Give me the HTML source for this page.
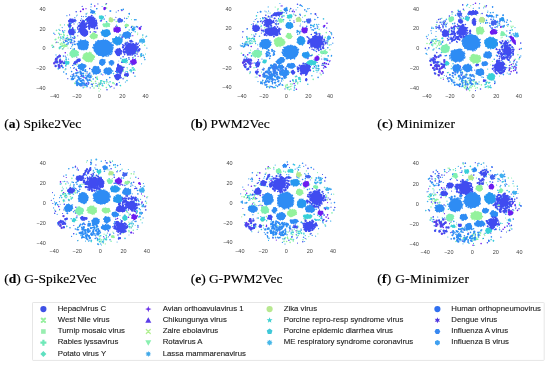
<!DOCTYPE html>
<html><head><meta charset="utf-8"><style>
html,body{margin:0;padding:0;background:#fff;}
body{width:550px;height:365px;position:relative;overflow:hidden;}
#pg{position:absolute;left:0;top:0;width:550px;height:365px;filter:blur(0.35px);}
svg{position:absolute;left:0;top:0;}
path{stroke-linecap:round;}
.cap{position:absolute;font-family:"Liberation Serif",serif;font-size:13.5px;line-height:13.5px;color:#000;white-space:nowrap;-webkit-text-stroke:0.15px #000;}
.cap b{font-weight:bold;}
.tk{font-family:"Liberation Sans",sans-serif;font-size:5.5px;fill:#444;}
.lg{font-family:"Liberation Sans",sans-serif;font-size:7.8px;fill:#1e1e1e;stroke:#1e1e1e;stroke-width:0.12px;}
</style></head><body><div id="pg">
<svg width="550" height="365" viewBox="0 0 550 365">
<defs><filter id="rough" x="-5%" y="-5%" width="110%" height="110%"><feTurbulence type="fractalNoise" baseFrequency="0.9" numOctaves="2" seed="3" result="n"/><feDisplacementMap in="SourceGraphic" in2="n" scale="1.6" xChannelSelector="R" yChannelSelector="G"/></filter></defs>
<g><path d="M101.4 20.8h0M65.3 52.8h0M129.7 50.6h0M121.9 10.4h0M84 77.6h0M83.6 28.2h0M80.6 11.4h0M106.4 3.8h0M76.8 70.5h0M81.5 75.9h0M94.7 6h0M85.5 66.5h0M88.4 82.9h0M105.3 7.7h0M104.6 7.7h0M105.2 8.9h0M104.4 9.4h0M104.2 7.8h0M105 9h0M119.9 30.3h0M119.8 31h0M119.6 31h0M114.4 31.5h0M118.2 32.2h0M119.3 31.3h0M116.3 27h0M116.7 32h0M119.6 27.8h0M116.9 26.9h0M119.8 28.7h0M114.6 31.2h0M139.3 28.2h0M140.2 27.7h0M139.3 28.8h0M135.1 60.1h0M131.6 63.2h0M133 59.7h0M130.8 61.2h0M132.8 59.9h0M134.6 64h0M131.8 63.7h0M288.8 15.8h0M251.2 46.5h0M327 23.3h0M257.1 56.3h0M328.5 64.2h0M294.2 11.7h0M296.4 89.2h0M247.7 54.8h0M294.1 83.6h0M327.7 60.4h0M326.3 63.5h0M322.5 71.3h0M325.4 67.1h0M325.4 66.6h0M321.6 70.7h0M323.4 63.7h0M324.6 66.6h0M304.3 32.8h0M304 32.8h0M307 28.6h0M307.1 29h0M306.6 32.1h0M305 32.8h0M302.5 28.2h0M302.3 31.7h0M306.2 28.1h0M306.2 32.1h0M324.8 25.8h0M315.6 60.3h0M316.9 56.3h0M318.9 58.8h0M318 57.1h0M319.2 58.4h0M318.1 56.9h0M317.7 56.6h0M317.6 56.6h0M316.2 60.8h0M469.1 17.5h0M451.3 27.2h0M475.5 3.3h0M448.8 31.6h0M461.5 75.1h0M466.6 89.8h0M441.1 29.8h0M514.1 66.8h0M519.5 49.2h0M516 67.5h0M510.1 68.1h0M514.3 60.2h0M511.3 64.6h0M513.6 70.7h0M515.4 70.2h0M511.1 71.6h0M513.3 63.8h0M509.5 69.5h0M493.5 29.7h0M491.4 33.7h0M495 29.7h0M496.6 30.6h0M491.2 33.7h0M491.8 30.5h0M490.6 32.6h0M492.6 33.8h0M496.3 33.2h0M495.3 33.6h0M490.6 32.1h0M514.7 40.7h0M514.9 41.3h0M514.5 43.5h0M510.4 37h0M512.9 37.5h0M514.5 43.5h0M515.3 43.1h0M128.9 181.6h0M119.4 230.9h0M135.6 211.7h0M60.5 181.9h0M70.5 192.6h0M117.5 218.5h0M63.6 192.7h0M121.1 184.3h0M58.8 206.6h0M128.5 217.3h0M134.5 206.8h0M142.1 202.1h0M134.7 205h0M137.3 215.9h0M115.6 180.9h0M119 178.1h0M115.9 181.6h0M117.6 183.5h0M118.7 178h0M115.6 180.2h0M121.3 181.7h0M116.7 183.4h0M115.5 181h0M138.9 183h0M140.1 184.2h0M138.8 183.5h0M139.6 182.7h0M133.8 214.6h0M134.5 219.4h0M133.7 214.6h0M131.8 218h0M136.4 216.9h0M132 215.6h0M132.7 215.2h0M133.8 215h0M271.1 180.6h0M268.3 166.9h0M296.2 230.7h0M255.4 198.1h0M251.4 186.2h0M292 236.7h0M260.2 195.5h0M246.7 193.2h0M316.1 194h0M259.5 178.5h0M259.8 172.9h0M323 220.3h0M325.4 208.9h0M326.2 221.2h0M325.5 209.5h0M327.6 214.8h0M326.1 217.1h0M328.4 218.2h0M304.9 186.5h0M305.2 181.3h0M308.7 184.7h0M303.2 184h0M305.4 186.7h0M308.6 183.7h0M308.3 182.3h0M320.4 215.4h0M320.7 215.2h0M322.6 213.2h0M319.3 210.9h0M318.3 213.9h0M318.6 213.2h0M318.3 212.2h0M318.8 211.6h0M322.5 211.7h0M322.5 211.6h0M441 197.6h0M464.4 230h0M442.1 192.5h0M468.4 233.3h0M481.1 243.6h0M441.6 187.9h0M473.1 245.2h0M443.2 227.4h0M508.9 223.6h0M504.7 227.4h0M503.1 229.2h0M509.1 223.7h0M508.7 224h0M517.5 210.4h0M512.8 203.4h0M515.3 205.7h0M512.6 203.7h0M492.7 188.4h0M493.4 187.4h0M492.2 189h0M489.5 188.1h0M491.6 184.4h0M492.6 184.8h0M493.5 186.8h0M493.3 186h0M509.2 214.7h0M511.3 211.1h0M509.9 211h0M512.4 212h0M510.8 211.1h0M512.6 213.6h0M512.6 213.6h0M508.3 212h0M509 211.9h0M512.9 212.8h0" stroke="#6c1cf0" stroke-width="1.6"/><path d="M66.2 40.2h0M121.8 62.2h0M67.8 78.7h0M65.9 66h0M115.6 71.4h0M97.9 3.9h0M86.9 86.8h0M120 67.9h0M62.7 30.6h0M98.2 84.4h0M72.2 74.6h0M63.2 67.7h0M102.8 16.6h0M76.8 57.1h0M121.6 20.7h0M72.8 42.9h0M100.5 69.8h0M125.1 72.8h0M133.5 27h0M67.5 38.1h0M124.6 18.2h0M139.4 45.5h0M60.5 37h0M114.1 88.1h0M81.6 16.3h0M125.5 76.2h0M65.3 56.2h0M73.6 68.2h0M132.2 55.5h0M69.6 14.9h0M118.3 10.7h0M72.7 65.4h0M54.9 34.3h0M96.7 8.6h0M74 23.9h0M53.6 46.3h0M90.2 87.8h0M110.6 86.9h0M132.3 60.7h0M75.2 20.7h0M73.9 73.6h0M115.9 17.3h0M82.2 6.4h0M77.8 35.8h0M127.7 72.9h0M116.5 83.8h0M115.9 85h0M116.6 83.7h0M73.2 22.1h0M73 19h0M70.4 22h0M71.6 22.2h0M68.9 21.7h0M72.7 22.3h0M72.2 19.2h0M69.7 21.7h0M70.4 19.3h0M70.3 22h0M68.7 20.8h0M68.9 26.8h0M68.5 25.5h0M68.7 26.6h0M69.9 23.3h0M69.2 23.4h0M68.4 32h0M69.4 29.6h0M68.7 30.9h0M72.1 29.2h0M73.8 34.1h0M73.6 30.1h0M73 29.2h0M72.4 29.5h0M72.4 34.5h0M73 34.7h0M80.8 31.9h0M80.4 23.1h0M81.7 22.5h0M80.6 31.7h0M79.5 28.8h0M83.9 23.3h0M79.3 26.3h0M85.3 29.9h0M83.3 32.4h0M85.4 25.8h0M80.3 31.6h0M85.3 27.6h0M81.1 32.2h0M79.9 31.1h0M85.1 27.9h0M81.3 23.2h0M84.7 23.2h0M86.6 35.2h0M86.3 35.4h0M81.7 30.4h0M87.2 31.4h0M82.7 35.4h0M83.6 36h0M84.3 35.5h0M80.5 32.6h0M85.5 29.4h0M80.9 31.5h0M85 35.9h0M87.7 31.9h0M85.7 29.8h0M96.2 21.7h0M96.2 21.3h0M91.7 27.3h0M95.1 20.3h0M94.2 18.9h0M90.3 26.9h0M94.2 19.5h0M88.1 22.9h0M91.5 27.1h0M95.5 26.3h0M90.6 26.8h0M97 23.8h0M94.9 26h0M94.7 20h0M88.7 23.7h0M91 27h0M89.3 16.9h0M90 17h0M90.6 19.8h0M88.8 16.6h0M90.2 17.1h0M88.4 16.8h0M87.1 19.1h0M91 18.3h0M130.9 44.1h0M134.5 52.5h0M124.6 48.5h0M133.2 53.3h0M125.3 50.8h0M132.5 54.2h0M125 48.7h0M134.1 45.1h0M132.2 44.4h0M136.5 50.9h0M135.7 46.6h0M127.8 53.3h0M129.2 43.8h0M129.1 54.8h0M126.9 45.5h0M136.3 47.2h0M129.1 43.7h0M131.1 54.8h0M130.4 54.3h0M135 44.7h0M120 49.4h0M118.8 49.1h0M121.5 51.4h0M115.6 52.5h0M116.3 49.4h0M121.7 51.5h0M119.1 55.4h0M115.7 52.7h0M120.8 53.8h0M121 50.5h0M121.1 51.2h0M116.3 53.7h0M76 60.9h0M77.1 62.9h0M78 59.4h0M79.9 58.9h0M74.5 61.8h0M78.4 59.2h0M79.1 59.3h0M79.8 60.4h0M79.2 61.1h0M122.1 67.2h0M117 70.2h0M117 70.5h0M122.7 70.4h0M117.6 66.3h0M116.8 70.9h0M116.6 68.8h0M120.8 66.4h0M117.6 67h0M117.8 79.4h0M114.5 76.1h0M116.4 74.5h0M117.9 74.6h0M120.1 75.4h0M117.1 79.4h0M120.8 78h0M118.6 79.3h0M117.6 79h0M115.9 78.7h0M124.6 74.3h0M128.1 74.3h0M124.8 75.6h0M128.2 75.4h0M124.7 75.3h0M126.2 76.3h0M128.4 75h0M127.8 75.7h0M127.8 73.8h0M273.3 74.3h0M271.1 76.5h0M257.9 48.9h0M246.1 43.2h0M325.4 58.9h0M321.7 59h0M300.9 74.2h0M273.3 87.7h0M294.1 22.4h0M246.5 58.8h0M255.3 19.5h0M293.9 20.9h0M333.4 37.7h0M300.6 4.9h0M272.4 81.2h0M262.3 69.5h0M261.4 33.1h0M281.1 5.9h0M326.7 27.9h0M317.2 62.5h0M250.3 65.1h0M276.5 23.2h0M300.5 15.2h0M326.2 64h0M285 88.9h0M264.2 68.5h0M317.9 26.9h0M289.6 11.1h0M300.1 25.9h0M257 74.3h0M246.9 57.5h0M314.1 59.3h0M242.5 37.1h0M258.2 26.1h0M258.8 30.2h0M255.8 31.4h0M255.6 31.3h0M258.7 26.4h0M255.8 25.3h0M256.2 31.2h0M256 25.1h0M255 31.4h0M252.7 28.4h0M255 31.2h0M276.8 33.6h0M278.7 31.1h0M271.2 35.6h0M273.6 34.7h0M266.4 33.3h0M273.1 27.7h0M268.5 34.6h0M271.3 35.1h0M278.5 30.1h0M266.6 28.9h0M266.2 32.7h0M277.4 33.7h0M266.2 30.2h0M267.3 34h0M273.5 34.6h0M267.4 28.8h0M270.9 28h0M269.3 19.4h0M267.2 25.1h0M266.4 23.9h0M264.9 22.1h0M267.6 19.2h0M271.5 21.2h0M271.7 22.2h0M266.7 24.3h0M265.4 22.2h0M266.6 19.7h0M271.2 23h0M271.6 23.4h0M276.7 12.6h0M272.4 15.2h0M279.3 15.2h0M280.4 12.5h0M279.9 12.1h0M274.1 13.5h0M278.2 15.5h0M273.4 13.8h0M277.7 12.3h0M282.3 12.7h0M275.6 12.9h0M281.4 12.5h0M279 15.2h0M280.9 12.5h0M280.7 14.7h0M315.7 47.1h0M320.8 46.4h0M322.5 42.7h0M321.4 44.6h0M309.9 42.4h0M312.1 46.4h0M311.6 46.1h0M315 48.3h0M321.7 38.6h0M310.5 39.3h0M310.6 41.3h0M311.5 39.8h0M323.1 42.9h0M310.2 44.4h0M313 37.5h0M315 35.7h0M322.3 42.1h0M311.1 41.6h0M312.5 46.4h0M313.7 36.3h0M317.5 48.2h0M311.7 46.1h0M312.2 46.4h0M320.7 46.2h0M319 37h0M312.9 46h0M308.9 67.3h0M300.9 66.2h0M308.5 67.3h0M300.3 68.3h0M303.4 72.9h0M306.2 65.6h0M305.9 65.1h0M307.2 65.6h0M308.3 66.1h0M300.1 68.5h0M306.1 73h0M308.9 68.7h0M304.5 64.6h0M308.6 70h0M304.8 73.5h0M302.5 65.7h0M308.3 67.2h0M305.4 64.9h0M302 65.4h0M308.8 70h0M309.6 70.6h0M303.6 65h0M292.5 70.5h0M293.8 73.7h0M294.2 73.4h0M292.7 74.2h0M291.5 72.5h0M293.6 74h0M292.9 70.3h0M291.7 72.9h0M259.4 64.5h0M257.9 61.7h0M259 65.6h0M257.9 62h0M258.2 61.9h0M255.9 65.1h0M257.9 62.1h0M256.4 62.6h0M255.9 72.3h0M306.2 78.8h0M306.4 80.7h0M306 80.5h0M446.5 76.2h0M465.4 16.8h0M448.4 48h0M474.7 70.1h0M496.7 62.2h0M507 47.7h0M494.4 67.2h0M440.1 54.9h0M466.8 81.6h0M489.8 23.2h0M427.3 38.6h0M475.5 90.6h0M461.1 26.4h0M508.2 46.2h0M438.9 27.7h0M473.2 4.5h0M471.8 15.2h0M498.6 51.9h0M487.1 75.6h0M475.8 19.8h0M447.4 38.4h0M465.4 68.9h0M510.7 53.8h0M462 16.3h0M449.5 77.8h0M460.5 19h0M462.1 22.1h0M461.2 22.9h0M462.5 21.2h0M459.3 22h0M458.9 22h0M460.1 19.2h0M461.4 22.8h0M459.1 20.2h0M462.7 21.2h0M463.4 26.2h0M465.4 32.8h0M458.6 30.2h0M460.7 27h0M458.8 30.2h0M462.4 26.1h0M465.7 32.8h0M465.7 27.5h0M466.4 30h0M463 34.4h0M458.7 32.8h0M466.8 30.3h0M461.9 34.8h0M466.2 32.4h0M459.5 32.7h0M442.5 34.9h0M445.8 36.5h0M446.3 30.5h0M446 30.1h0M444.8 30.1h0M442.7 35h0M442.8 31.5h0M448.1 31.6h0M447.8 35.3h0M442.4 32h0M442.5 34.8h0M443.3 36.2h0M445.9 36.6h0M443.7 30.7h0M476.9 11.6h0M476.9 12.1h0M469.2 13.9h0M469.6 14.5h0M472.9 10.6h0M470.5 14.6h0M471.9 15h0M477 12.1h0M471.7 14.9h0M477.2 12h0M468 13.3h0M477.8 12.5h0M477 12.2h0M469.7 11.6h0M474 25.3h0M474.7 19.4h0M475.6 23h0M473.4 19h0M472.2 20.7h0M473 19.5h0M474.5 24.9h0M507.8 46.1h0M507 46.5h0M511.1 49.9h0M507.8 46.5h0M507.2 54.5h0M510.4 52h0M510.7 50.2h0M503 51.4h0M503.8 53h0M510.4 53h0M510.1 51.8h0M504.4 53.1h0M508.1 46.1h0M495.4 65.1h0M499.2 62.5h0M498 63h0M497.9 63h0M498.3 62.5h0M502.5 70.6h0M494.8 69.5h0M498.1 71.3h0M502.2 63.7h0M494.6 65.8h0M498.6 71.8h0M503.5 67.3h0M496.9 63.2h0M476.5 65.8h0M476.9 64.3h0M477.6 64.2h0M477.9 65.7h0M484.5 81.3h0M483.7 81.2h0M485.2 81.2h0M103.5 168.9h0M76.4 189h0M134.6 188.7h0M63.7 176.2h0M121.2 229.9h0M122.8 185.3h0M52.8 203.5h0M103.6 236.7h0M130.2 198.7h0M128.6 182.8h0M64.7 196.3h0M51.3 200.3h0M145.8 205.9h0M132.1 185.1h0M104.3 238.1h0M132.7 202.8h0M87.7 173.9h0M120.7 181.3h0M84.7 220.1h0M122.7 184.5h0M52.5 192.6h0M143.5 204.4h0M73.8 225.5h0M95.9 164.9h0M140.5 186.7h0M61 195.7h0M105.4 160.7h0M62.6 213.5h0M123.4 192.7h0M107.6 168.1h0M75.6 166.1h0M125.9 190.6h0M136.2 217.9h0M67.1 181.8h0M63.9 209.9h0M85.3 174.4h0M125.6 195.9h0M135.6 204.6h0M123 172.8h0M120.6 170.5h0M76.6 177.1h0M78 176.1h0M81.4 180.5h0M82 180.1h0M83.5 178.3h0M76.8 177.5h0M78.4 180.1h0M77 179.8h0M76.9 176.3h0M83.7 177.7h0M77.4 179.7h0M76.2 178.2h0M83.7 173.9h0M83.7 175h0M83.5 175h0M84.9 174.2h0M85.1 170.7h0M86.2 169.5h0M85.5 170.5h0M87 169h0M83.8 175.4h0M84.2 175.1h0M86.9 171.1h0M90.5 170.5h0M88.7 170.2h0M90.7 167.6h0M88.7 173h0M90.7 170.1h0M89.8 168.6h0M87.7 172.7h0M88.1 173.2h0M90.9 169.5h0M87.8 172.2h0M87.8 173.1h0M97.6 184.1h0M88.7 184h0M89.6 186.5h0M91.4 187.1h0M97.4 185.6h0M88.1 184.7h0M88.8 184.9h0M88 183.7h0M96.1 186.1h0M90.8 187.8h0M93.2 187.5h0M101.9 186.5h0M103.5 182.4h0M98.3 184.1h0M100 186.6h0M101.5 178.5h0M103 186.1h0M98 182.2h0M98.9 179.9h0M100.6 179.2h0M100.4 178.6h0M102.5 179.7h0M101.2 186.7h0M103.6 181.8h0M98.6 181.8h0M73.6 191.4h0M72.4 192.7h0M72.2 187.9h0M69.5 188.3h0M67.5 191h0M71.2 192.8h0M67.5 190.9h0M69.1 192.2h0M71.1 193.1h0M134 208h0M131.1 201.4h0M127.6 205h0M133.8 208.5h0M133.4 208.5h0M132.8 208.9h0M134.2 208.4h0M129.4 202.5h0M135.1 205.5h0M127.2 206.5h0M131.9 209.2h0M133.2 201.9h0M127.6 205.1h0M127.1 205.9h0M135.1 207.5h0M127.6 205.7h0M131.6 209.4h0M135.4 205h0M125.2 210.6h0M122.9 211.7h0M119.8 211.8h0M124.7 210.3h0M117.4 207.1h0M123.8 211.1h0M119 206.7h0M123.5 211.1h0M126.1 208.9h0M118.3 206.5h0M125.2 207.5h0M124.2 210.7h0M81 217.7h0M86.2 219.3h0M81.6 219.3h0M86.8 217.6h0M82.6 216.7h0M81.3 219.6h0M80.8 217.5h0M80.4 217.8h0M82.7 219.6h0M86.1 219.3h0M81.5 219.6h0M81.5 217.2h0M81.5 217h0M119.7 223.1h0M116.7 227h0M122.5 223.5h0M123 223.9h0M124.6 226.4h0M117.7 224.6h0M119.8 230.4h0M117.1 228.7h0M125.4 226.5h0M122 230.6h0M124 230.1h0M117 227.5h0M118.3 229.3h0M118.7 224.1h0M119 230.2h0M118.4 229.5h0M118.3 224.3h0M124.4 225.1h0M124.8 227.5h0M118.6 239h0M120.2 238.1h0M118.7 237.4h0M331 207.2h0M328.1 197.9h0M257.2 218h0M289.5 167.6h0M242.9 208.5h0M296.3 234.4h0M265.7 168.9h0M259.9 205.2h0M292 229.9h0M296.7 176.8h0M319.5 209.9h0M307.1 175.5h0M324 214.3h0M305.8 165.1h0M272.3 176.3h0M297.3 237.2h0M289.7 228.4h0M305.2 238.6h0M248.3 184.9h0M258.3 232.2h0M305.8 228.7h0M297.5 243.1h0M289.7 230.9h0M317.9 196h0M305.7 219.1h0M266.7 182h0M312.2 199.9h0M253.2 218.7h0M273.9 225.3h0M277 233.1h0M263.3 220.7h0M313.7 169.2h0M312 211.4h0M258.6 182.7h0M255.3 226.5h0M322.5 174.5h0M261.3 185.3h0M264.4 181.3h0M265.8 181.8h0M266 182.6h0M264.1 180.7h0M260.6 183.9h0M264.7 185.3h0M260.9 182h0M265.6 182.5h0M264.9 181.5h0M263.7 180.7h0M254.6 192.6h0M260.6 191.6h0M259.3 189.2h0M257.3 194.2h0M272.9 185.2h0M273.6 182.3h0M281.4 178.5h0M275 180.4h0M284.6 186.8h0M280.5 189.5h0M278.6 189.3h0M273 182.8h0M276.2 178.9h0M281.4 178.9h0M273.5 186.4h0M272.8 184.8h0M285.1 187.1h0M275 186.7h0M272.9 182.6h0M273.5 186.3h0M282.9 179.5h0M278.4 189.8h0M279.8 188.9h0M281.2 189.4h0M286.1 182.3h0M279.4 189.7h0M285.2 180.7h0M285 184.8h0M273.2 184.3h0M280.9 189.1h0M275.7 189h0M266.5 179.5h0M269.7 175.1h0M269.6 174.5h0M269.1 174.3h0M268.7 177h0M266.4 179h0M267.5 176h0M269.7 174.6h0M286.9 177.9h0M285.9 177.6h0M286.5 177.1h0M288.8 176.5h0M288.9 176.6h0M315.4 203.4h0M310.8 199.9h0M315.4 204h0M310.9 195.8h0M312.5 193.2h0M311 198.4h0M321.9 198.9h0M321 200.8h0M320.9 198.9h0M314.4 204h0M320.5 200.6h0M314.5 203.5h0M320.4 202.6h0M310.1 200.2h0M322 197.2h0M314.3 192.2h0M315.3 191.5h0M311 195.5h0M313.9 193.1h0M317.3 191.7h0M314.1 204.2h0M311.1 200.5h0M314.6 203.3h0M268.7 215.8h0M268 218.6h0M271.5 216.3h0M270.4 215.5h0M268.4 216.4h0M313.3 226.4h0M311.7 228.4h0M309.3 229.3h0M304.2 225.7h0M309.1 229.4h0M307.3 223.1h0M310.9 223h0M312.1 223.3h0M305.4 227.5h0M313.2 227.5h0M313.4 225.3h0M310.6 228.7h0M310.9 222.6h0M305.6 223.4h0M313.2 225.8h0M294.3 227.6h0M293.8 227.6h0M296.9 226.2h0M297.1 226.3h0M294.5 227.8h0M294.8 226.2h0M293.4 227.4h0M259.5 225.1h0M261.4 225.3h0M260.2 224.6h0M475.3 162.7h0M477.7 163.9h0M490.2 175.2h0M437.6 202.9h0M444.3 175.2h0M500.4 189.6h0M509.3 196.6h0M442.6 219.6h0M471.2 175h0M481.2 181.4h0M449.9 169.8h0M490.8 233.2h0M506.5 232h0M511.3 194.1h0M483.4 226.1h0M427.1 191.8h0M515.7 208.6h0M447.1 231.7h0M466.2 227h0M445.9 219.2h0M475.5 236h0M461.7 172.4h0M435 194.1h0M451.1 221.8h0M451.6 191.1h0M500.9 237.2h0M459.6 224.9h0M503 205.5h0M457.4 180.3h0M456.7 179.9h0M500.2 180.7h0M481.4 230.7h0M506.9 184.5h0M455.9 234.5h0M449.2 187.7h0M448.8 183.4h0M449 183.3h0M451.3 187.6h0M446.9 185.7h0M451.9 183h0M447.4 183.8h0M453.6 184.8h0M450.5 187.6h0M447.3 184.3h0M449.9 182.8h0M449.1 183.1h0M449.3 187.7h0M451.6 187.7h0M442 194.9h0M446.2 195.3h0M440.9 192.8h0M442.5 191.9h0M447.6 193.3h0M446.5 195.3h0M446.1 195.6h0M447.4 194.3h0M447.3 194h0M441.4 192.7h0M440.9 194.1h0M442.1 192.2h0M444.8 195.6h0M461.2 191.8h0M464.9 182.7h0M462.6 192.9h0M465 183.4h0M464.9 192.6h0M461.4 184.2h0M464.7 192.8h0M460.3 185.7h0M467.1 183.9h0M469.9 186.9h0M464 192.6h0M461.1 184.2h0M466.4 183.2h0M461.1 184.2h0M462.2 182.8h0M461.4 184.2h0M468.5 183.8h0M460.4 191.1h0M468 192.3h0M459.3 188.9h0M468.9 184.4h0M467.7 192.4h0M482 173.2h0M484.6 175.5h0M486.3 173.3h0M482.1 174.1h0M485.3 171.9h0M486 173.8h0M482.4 174.8h0M485.2 172.2h0M482.4 174.1h0M486.3 173.1h0M483.8 175.6h0M500.3 199.8h0M508.4 202.7h0M500 203.5h0M501.7 198.8h0M502.9 206.3h0M504.7 198h0M500.5 200h0M499.6 203.1h0M505.3 205.7h0M501.2 205.8h0M501.3 198.3h0M506.4 205h0M502.1 197.8h0M499.5 202.6h0M499.3 200.7h0M507.3 204.2h0M508 204h0M507.2 204.7h0M507.9 201.9h0M489 223.3h0M490.6 219.9h0M497.1 221.4h0M496 221.2h0M491 219.9h0M491.8 219.8h0M490.6 220.2h0M496.5 224.3h0M496.7 224.3h0M492.1 219.5h0M496.7 224.2h0M493.6 226.8h0M495.7 225.3h0M492.2 226.2h0M489.1 221.9h0M489.2 223.6h0M458.2 225h0M458.8 224.3h0M458.9 226.2h0M460.4 226.4h0" stroke="#3f4cf0" stroke-width="1.2"/><path d="M128.3 34.5h0M62.6 67.5h0M129.3 13.5h0M119.6 30.4h0M127 24.7h0M144.3 57.6h0M112.7 71.1h0M129.1 59.2h0M126.4 58.9h0M126.8 18.5h0M82.4 82.5h0M83.2 65.5h0M93.2 79h0M134.6 19.8h0M63.7 72h0M86 16.5h0M96.8 8.7h0M106.5 21.7h0M89.2 77.8h0M65.7 69h0M123.3 9.4h0M136.5 26.6h0M110.1 11.1h0M121.4 9.7h0M120.1 35h0M58.5 68.2h0M100.5 20.9h0M110.7 70.4h0M136 19.8h0M68 43.9h0M68.9 40.1h0M70.1 42.1h0M67.4 38.5h0M72.5 44.9h0M65.8 40.8h0M72.7 37.7h0M105.8 36.4h0M110.2 33.9h0M102.3 32.2h0M109.7 32.2h0M104.3 36.4h0M102.7 30.4h0M107.7 30.2h0M109 34.5h0M105.1 36.2h0M101.8 33.6h0M101.3 32.6h0M109.4 34h0M108.9 31.2h0M102.1 35h0M101.4 32.1h0M102.1 33.1h0M104.3 36.2h0M107.3 35.9h0M116.6 44.8h0M121.1 42.8h0M118.9 37.1h0M121.8 38.5h0M112.9 38.7h0M116.3 36.8h0M120.9 39h0M121.9 41.3h0M115.7 37.2h0M119.8 44.3h0M120.4 43.3h0M121.1 43h0M121.5 42.1h0M113.1 41.3h0M117.5 44.7h0M121.6 39.7h0M117.1 44.6h0M116.3 37.4h0M112.9 39.4h0M133.6 28.2h0M132.4 30h0M132.5 29.1h0M132.7 28.6h0M250 52.8h0M246.8 36.9h0M304.7 32.3h0M328.2 55.9h0M271.4 81.4h0M242.6 43.5h0M248.8 61.9h0M274.2 87.4h0M310.3 55.7h0M259.8 62.4h0M270.1 86.4h0M279.8 84.7h0M269.6 20.6h0M283.6 19.7h0M299.9 14.4h0M270.9 17h0M307.9 8.8h0M314.9 19.5h0M301.4 5.8h0M246.9 44.9h0M241.1 46h0M245.2 44.9h0M245.5 44.1h0M243.5 46.9h0M244.6 46.4h0M242.2 45.9h0M244.1 45h0M299.7 33.6h0M297.4 31.8h0M297.7 34.3h0M297.2 30.6h0M297 32.2h0M299.7 32.6h0M298.3 31.4h0M300.1 31.4h0M290.6 22.8h0M287.6 23.1h0M286.2 25.3h0M287.6 27.6h0M292.7 26.5h0M287.1 27.4h0M291.7 27.5h0M291.7 23.7h0M286.6 26.2h0M290.2 28.3h0M286.5 24.4h0M288.3 22.7h0M287.3 23.2h0M292 27.3h0M286.6 24.1h0M303.8 43.5h0M304.4 41.7h0M297.6 39.2h0M301 36.9h0M297.9 42.7h0M299.4 44.3h0M302.3 37.2h0M300.5 36.6h0M300 44.5h0M302.4 44.9h0M298 42.5h0M297.7 39.1h0M304.5 41.2h0M299 37.3h0M304.1 39h0M302.7 44.3h0M302.8 53.7h0M303.4 53.3h0M305.1 57.2h0M308.3 57.1h0M307.8 57h0M302.9 54.2h0M306.5 57.4h0M302.6 55.4h0M303.6 53.2h0M307.6 52h0M307.9 52.3h0M305 57.6h0M302.6 55h0M308.5 53.4h0M306.9 57.4h0M306.1 57.9h0M497.2 22.3h0M426.2 53.6h0M450 58.7h0M521.2 48.6h0M448.4 36.5h0M494.3 59.3h0M469 71.1h0M506.6 36.1h0M503.4 74.6h0M510 62.1h0M479.2 8.1h0M486.6 82.6h0M503.7 68.1h0M439.2 48.6h0M509.2 36.7h0M510.2 30.5h0M508.2 48.1h0M493.5 19.2h0M503 15.4h0M493.1 12.5h0M486.5 20.4h0M499.8 25.1h0M490.2 26.1h0M483.7 18.7h0M496.5 15.6h0M490.5 12.8h0M496.5 15.1h0M492 24.7h0M497.4 21.4h0M492.2 16.6h0M493.6 22.1h0M499.4 23.3h0M503.8 20.2h0M503.4 18.3h0M502.7 20.7h0M488 38.7h0M494.2 46.9h0M485.5 40h0M493.8 38.6h0M496.7 39.9h0M497.3 44.2h0M494.7 39.3h0M490 37.7h0M486.9 38.9h0M493 37.5h0M484.8 40.9h0M492.8 48.2h0M485.5 40.2h0M493.8 48.1h0M486.1 46.3h0M494.1 47h0M496.4 44.8h0M497.1 45.6h0M485.5 43.6h0M490.2 38h0M490.7 48.8h0M495.6 46.9h0M497.1 40.1h0M495.7 46.8h0M495.4 47.1h0M490.9 37.6h0M489.9 37.2h0M490.7 38h0M104.7 228.2h0M94.8 228.9h0M73.5 175.4h0M115.3 164.7h0M131.1 183.7h0M131.4 205.8h0M95.9 169.3h0M90.9 164.4h0M139.3 208.7h0M70 227.8h0M68.8 168.7h0M137.5 190.5h0M84.2 237.4h0M97.4 169.5h0M106.4 162.7h0M72.9 167.6h0M134.9 198.3h0M66.7 226.4h0M98.7 173.9h0M78.9 191.4h0M77 184.3h0M81.3 186.7h0M74 184.8h0M77.2 192.7h0M80.1 186.4h0M74 187.7h0M73.3 188.5h0M79.6 186.8h0M56.5 202.9h0M55.4 204.7h0M57.8 204.9h0M55.4 204h0M55.8 203.3h0M57.7 204.8h0M114.8 186.1h0M111.5 187.5h0M118.8 189.6h0M118 187.5h0M119.3 189.2h0M112.4 186.3h0M115 186.3h0M118.8 190.7h0M118.9 188h0M118 194.9h0M120.3 195.5h0M114.3 197.1h0M122.1 197.2h0M114.2 201.4h0M121.5 200.8h0M122.1 200h0M120.1 195.3h0M114.5 197.9h0M116.4 195.5h0M119.8 202.4h0M113.9 200.2h0M113.9 200h0M114.3 201.2h0M114.2 200.2h0M121.5 200.1h0M311.2 167.6h0M259.4 180.5h0M283.6 180h0M286.3 166.1h0M260.4 225.1h0M325.9 197.4h0M286.8 224.3h0M318.9 205.3h0M314.4 196h0M300.7 184.9h0M305.4 178.6h0M307.2 217.8h0M258.2 187.9h0M274 234.3h0M253.4 220.5h0M271.7 179.1h0M298.4 233.5h0M314.1 214.2h0M287.3 162h0M284.5 180.3h0M304.8 183.7h0M246.4 203h0M242.4 202.9h0M241.2 202h0M245.1 203h0M246.8 202.6h0M242.3 201.3h0M266.4 198.2h0M264.7 197.8h0M266.4 197.5h0M264.4 195.5h0M294.1 185.8h0M297.5 180.1h0M293.5 185.4h0M291.8 184.8h0M295.9 185.8h0M298.1 184.1h0M291.3 182.4h0M291.8 180.4h0M296.9 179.5h0M299.3 183.7h0M291.3 180.6h0M293.6 186h0M296.9 185.6h0M297.7 185h0M293.8 185.9h0M305.9 202h0M298.7 206.9h0M305.6 204h0M305.8 202.2h0M298.6 206.9h0M306 201.2h0M299.5 206.5h0M300.1 199.3h0M301.1 207.5h0M305 201.2h0M299.4 200h0M452.7 174.5h0M451.1 215.1h0M521.2 206.1h0M431.2 195.6h0M462 171h0M488.7 240.4h0M464.8 166.5h0M458.1 231.8h0M463.1 163.1h0M500.7 207.1h0M434.6 185.6h0M486.1 176.6h0M452.7 216.6h0M436.2 206h0M495.2 214.6h0M453.8 221.4h0M506.2 212.5h0M507.8 196.8h0M513.3 219.1h0M434 185.7h0M491.9 166.8h0M494.6 229.6h0M431.7 182.9h0M428.5 179.1h0M429.6 178.4h0M433.2 184.4h0M435.3 178.7h0M488.6 193.1h0M494.6 201.6h0M485 199.3h0M492.2 193.8h0M487.4 194.2h0M485.2 196.8h0M485.4 199.2h0M495.2 196h0M485.5 200.6h0M489.6 193.3h0M490.2 193h0M488.9 193.7h0M495 200.9h0M488.4 203.8h0M491.7 202.8h0M491.6 203.5h0M484.9 196.9h0M489.3 203.6h0M492.9 202.6h0M494.6 195h0M486.6 195h0" stroke="#2898f0" stroke-width="1.6"/><path d="M142.3 43.2h0M71.7 46.7h0M56.1 58.1h0M126.1 62.9h0M124.3 21.7h0M78.9 60.2h0M105.7 4.5h0M117.9 72.8h0M52.6 47.3h0M77.8 24h0M74 42.5h0M85.1 70.3h0M126 71.4h0M64 42.3h0M70.5 67.7h0M102.1 6.5h0M75.3 21.9h0M62.7 66.6h0M75.2 32.7h0M141.6 63.8h0M129.9 49.4h0M139.7 41.3h0M144.4 40.1h0M143.3 39.1h0M144.4 40.9h0M144.6 41.1h0M139.5 40.5h0M140 39.5h0M144.1 39.7h0M141.2 38.9h0M144.2 41.8h0M143.4 42.2h0M140 41.7h0M144 42.1h0M141.4 54h0M143.3 55h0M140.7 54.9h0M141.6 53.9h0M300.1 67.7h0M259.3 75.5h0M254 21.4h0M295.3 85.3h0M306.2 68.9h0M302.4 6.4h0M253.9 36.9h0M317 72.1h0M264.9 11h0M296.1 9.8h0M279.9 3.5h0M277.7 9.8h0M312.2 43.2h0M261.6 20.6h0M296.2 79.9h0M260.9 26.7h0M318.1 65.2h0M300.4 69.5h0M331 44.7h0M316.6 59.8h0M268.2 6.9h0M255 30.7h0M315.2 28.6h0M329 36.4h0M329.5 39h0M327.1 38.8h0M327.8 36.5h0M329.8 37.3h0M325 58.7h0M326 58.5h0M327 59.5h0M479.1 81.9h0M445.5 25.9h0M515 27.6h0M480.5 23.5h0M435 69h0M441.6 43.5h0M437.6 40.7h0M462.1 81.6h0M469.8 77.1h0M431.5 33.2h0M445.3 31h0M441.4 18.5h0M450 30h0M427.1 49.9h0M439.3 61.8h0M428.4 34.9h0M487.9 11.1h0M490.3 85.4h0M478.4 73.4h0M502.6 61.8h0M502.9 17.6h0M483.4 22.6h0M468.2 89.5h0M493.7 34h0M431.9 27.2h0M492.1 23.7h0M491.1 87.7h0M459.4 25.5h0M427 54.3h0M487.6 12.5h0M497.4 27h0M515.7 36.8h0M518 35.9h0M515.4 33.2h0M518.2 36.2h0M514.1 35.5h0M516.9 36.9h0M514.6 36h0M517.8 33.3h0M515.1 36.3h0M85.5 241.1h0M63.2 188.8h0M113.5 165.2h0M65.7 221h0M64.7 201h0M127.3 212.2h0M68.6 203.9h0M68.3 183.1h0M109 169.8h0M54.8 210h0M129.9 228h0M118.7 237.4h0M54.5 201.9h0M57.2 214.4h0M120.4 219.6h0M65.8 207h0M117.1 242h0M70.6 192.7h0M64.2 200h0M142.7 188.3h0M143.8 189.3h0M143.1 192h0M139.6 189.1h0M141.9 192.5h0M142.2 206.8h0M139.9 212.6h0M141.8 213h0M142 213.3h0M139.6 213h0M325.7 194.6h0M323.2 213.5h0M311 194.8h0M328.1 209.5h0M330.8 221h0M253.8 202.7h0M288.8 174.7h0M286 231.2h0M272.1 182.2h0M322.5 178.4h0M275.2 165.1h0M293.7 239.3h0M304.6 241.5h0M321.9 192.2h0M251 195.6h0M330.5 221.1h0M263.5 228h0M268.5 240.4h0M266.3 179h0M290.2 226h0M300.3 231.2h0M270.9 226h0M295.2 169.2h0M244.8 222.7h0M263.9 178.2h0M305.1 224.7h0M258.5 201.5h0M315.6 236.2h0M317.2 194.1h0M301 228.8h0M330.3 189.3h0M327.8 187.9h0M329.7 188.4h0M328.3 190.1h0M330 188.4h0M327.7 190.1h0M326.1 189.8h0M328.2 208.6h0M327.1 208.6h0M326.8 207h0M328.8 207.7h0M433.9 192h0M471.4 236.3h0M497.3 209.4h0M432.1 219.7h0M509.5 191.5h0M472.5 180h0M451.2 215.2h0M487.4 184.8h0M431.9 217.5h0M518 193.5h0M428.1 191.4h0M439.2 204.1h0M468.1 180.2h0M434 190h0M430.6 196.3h0M441 229.4h0M462.8 175.5h0M445.3 193.9h0M513.8 210.5h0M448.7 171.3h0M458.3 166.4h0M499.5 227.8h0M505.3 207.9h0M479.5 182.3h0M516.1 191.6h0M516.4 193.4h0M515.8 191.6h0M513.6 193.9h0M515.4 194.2h0M513.7 194h0M515.6 191.6h0M513.2 193.7h0M502.7 177.2h0M500.6 174.8h0M501.5 174h0M502.3 177.2h0M500.9 177h0M503.3 176.1h0M508.3 219.9h0M508.4 220.6h0M509.3 219.3h0" stroke="#40b0f0" stroke-width="1.2"/><path d="M89.7 68.6h0M76.2 11.7h0M91.7 21.7h0M141.4 56.2h0M64.8 61.2h0M72.7 27.9h0M123.1 56.8h0M107 89.7h0M98.7 70.4h0M131.4 27.4h0M133.5 72.9h0M125.9 33.5h0M74 38.4h0M92.2 84.4h0M137.6 27h0M76.1 69.4h0M95.8 77.5h0M141.1 26.6h0M129.3 38.1h0M130.3 52.7h0M127.3 42.2h0M59.6 55.4h0M122.1 37.5h0M83 85.8h0M123.1 78.8h0M88.2 84.3h0M62.8 48.8h0M117.3 79.7h0M132.3 64.8h0M117 85h0M116.9 83.7h0M116.8 83.8h0M67.7 38.3h0M70.9 42.9h0M75 37.7h0M74.7 41.5h0M70 19.3h0M75 19.5h0M75.9 20.7h0M69 21.1h0M69.9 21.8h0M71.1 19.3h0M70.2 19.4h0M69.3 21.8h0M70.5 23.8h0M70.9 25.5h0M68.6 25h0M70.8 26.3h0M70.4 23.9h0M69.6 27.7h0M68.4 25.5h0M70 34.6h0M72.9 29.5h0M73.2 34.4h0M72.2 29h0M72.3 29.4h0M69.9 29.5h0M75.1 32.1h0M73.7 30.4h0M73.5 30.2h0M70 29.5h0M73.7 29.9h0M73.3 34.6h0M73.5 29.6h0M81.8 27.6h0M86.4 30.8h0M85.6 32.2h0M86.3 27.3h0M82.4 22.6h0M81.8 28.4h0M86.5 26.2h0M80.6 24.7h0M84.4 31.7h0M84.2 30h0M82.8 21.2h0M85.1 31.1h0M80 31.8h0M80.4 32.6h0M82.9 20.4h0M81.9 33.2h0M78.7 31.8h0M81.5 22.1h0M82.3 22h0M82.5 32.5h0M79.8 25.6h0M84.7 31.9h0M85.2 25h0M83.1 33.3h0M84.7 31.5h0M80 25.1h0M80.2 30h0M82.3 32.4h0M81.1 32h0M79.5 28.9h0M80.5 24.3h0M82.5 32.3h0M84.5 35.5h0M87.5 33.5h0M84.6 35.6h0M87 31.3h0M84.6 35.9h0M80.5 30.8h0M87.5 32.1h0M85.7 29.5h0M84.5 35.4h0M83.6 29.7h0M85.6 35h0M87.3 34.3h0M85.8 29.7h0M86.2 23.3h0M89.5 26.7h0M93 25.4h0M93 25.2h0M90.4 18.8h0M96.8 25.4h0M91.7 23.2h0M92 27h0M87.5 19.8h0M90 24h0M87.1 23.5h0M96.4 20.3h0M91 19.7h0M96.4 22.1h0M89.1 20.8h0M93.9 26.9h0M93.8 19.3h0M88.7 25.5h0M87.8 21.9h0M96.2 20.9h0M92.1 27.4h0M89.7 26.2h0M88.6 23.4h0M96.9 23.1h0M96.1 24.8h0M92 19h0M91.8 18.9h0M94.7 20h0M91.2 17.8h0M89.5 20.2h0M88.6 20.3h0M91.3 17.8h0M90.2 16.9h0M88.9 20.2h0M86.9 18.7h0M85.7 19.8h0M84.1 22.7h0M77.9 29.1h0M94.2 31.7h0M79.3 22.7h0M88.5 18.8h0M86 24.5h0M85.5 25.3h0M77.6 27.8h0M85.5 35.7h0M97.4 28.5h0M89.1 19.5h0M93.3 25.5h0M90.9 24.5h0M97 28.6h0M89.7 21h0M97.2 27.3h0M91.6 35.4h0M93.5 21.6h0M92.8 20.5h0M81.2 28.4h0M92.9 24.1h0M81.5 30.9h0M92.2 24.1h0M95.8 32.1h0M92 27.4h0M96.5 25.6h0M93.3 17.6h0M89.6 20.9h0M93.9 18.1h0M89.3 29.2h0M90.3 32.1h0M81.6 27.3h0M78.3 26.5h0M94.1 34h0M94.9 18.6h0M83.6 32.2h0M80.7 20.5h0M86.2 33.2h0M94.6 25.3h0M123.6 49.8h0M123.6 50.7h0M130.1 44.8h0M132.1 44.9h0M136.6 47.6h0M124.8 49.5h0M124.6 49h0M127.6 52.1h0M136.3 49.3h0M137.9 51.9h0M128.4 51.5h0M127.8 50.7h0M123.4 45.3h0M137.1 54.1h0M125.5 47.3h0M126.3 45.4h0M133.1 43.7h0M128 53.2h0M132.5 47h0M127.6 44h0M135 53h0M134.6 53h0M137 50.5h0M130.1 54.9h0M135.9 47.5h0M124.7 49.4h0M133.7 54h0M126.1 46h0M137.4 48.3h0M130.8 43.3h0M134.9 44.8h0M129.4 44.4h0M134.5 53.1h0M137.1 48.2h0M130.5 54.1h0M135.8 45.1h0M136.4 48.6h0M128.5 44.5h0M135.6 53.1h0M127.4 53.7h0M136.9 50h0M134.9 53h0M119.4 55.4h0M120.3 49.7h0M115.2 51.4h0M121.3 53.8h0M115.9 52h0M118 55.5h0M121.4 50.7h0M115.8 52h0M117.5 55.2h0M117.7 49.1h0M116.8 54.5h0M115.4 51.9h0M136.2 46.9h0M127.3 45.2h0M132.2 53.9h0M124 49.3h0M127.9 48.7h0M128.1 48.7h0M135.1 55.9h0M130.1 55.1h0M137.9 46.9h0M126.4 43.1h0M121.6 52h0M125.8 48.4h0M133 43.7h0M122.6 44.7h0M124.1 45.7h0M132.9 57.9h0M125.1 51.8h0M128.9 57.7h0M127.3 45.9h0M119.4 49.1h0M133.2 52.1h0M132.7 41.7h0M124.6 54.6h0M137.6 44.6h0M132.2 52.6h0M132.8 44.4h0M138.2 43.3h0M119.7 48.5h0M139 49.8h0M126.6 52.6h0M75 63.7h0M74.5 62.2h0M80 60.5h0M74.8 63.6h0M77 60h0M78 59.5h0M73.8 63.6h0M79.2 61.2h0M78 59.4h0M79.7 59.6h0M118.1 67.3h0M120.6 70h0M124 67.2h0M123.1 67.7h0M118.3 71h0M117.2 69.2h0M117 70.5h0M122.6 70.4h0M119.2 72.1h0M122.9 69.7h0M117 69.9h0M116.8 68.3h0M122.6 69.4h0M120.9 66h0M117.2 71.2h0M122.1 70.7h0M122.7 69.3h0M120.2 72.4h0M121.5 71.9h0M122.4 67.2h0M119.8 65.7h0M119 65.9h0M121 77.5h0M114.6 75.7h0M117 74.3h0M118.4 79.4h0M116.4 74.9h0M119.9 74.8h0M120.3 75.5h0M116.6 79.3h0M118.3 74.5h0M116.1 75h0M116.4 79h0M127.3 75.8h0M127.9 74h0M127.2 75.9h0M125 75.5h0M311 63.9h0M318.1 68.6h0M257.9 21.6h0M290.7 8.6h0M317.7 42.9h0M258.1 71.5h0M268.1 81.8h0M247.2 28.8h0M242.9 31.8h0M301.5 73.4h0M323.1 73.1h0M274.9 18.4h0M248.3 45.6h0M282 16.9h0M258.4 59.9h0M244.7 66.5h0M307.9 58.6h0M290.3 81.2h0M297.3 67.1h0M253.3 24h0M313.6 44.7h0M269.6 74.7h0M267.1 22.3h0M323.6 68h0M314.6 32.9h0M327 42.6h0M295.7 15.5h0M316.5 38.1h0M254.7 36.3h0M297.5 4.3h0M250.6 62.7h0M314.5 66.8h0M311.3 55.6h0M304.6 22h0M314 62.6h0M299.1 17.6h0M292.4 11.4h0M302.8 27.2h0M322.1 65.2h0M322.6 63.5h0M323.7 65.2h0M253 27.1h0M258.9 29.3h0M256.5 31.3h0M259.1 27.5h0M258.4 26.7h0M253.9 30.1h0M259.4 28.1h0M258.4 30.3h0M255.2 31.1h0M255.6 25.3h0M259.2 28.7h0M253.1 30.1h0M257 30.9h0M271.5 30.5h0M271.6 26.1h0M270.4 34.1h0M277.2 29.8h0M271.1 33.6h0M267.4 33.6h0M266.8 35.6h0M280.9 29.1h0M270.4 33.7h0M267 30h0M280.2 34.2h0M273.8 34.1h0M270.7 29.4h0M276.6 33.6h0M273.6 32.7h0M267 33.8h0M266.7 30.6h0M271.3 35.1h0M268 32.8h0M270 35.4h0M277.5 26.9h0M268.2 28.2h0M273.8 28.4h0M273.6 27.5h0M268.5 28.2h0M279.3 32.1h0M274.2 34.7h0M271.8 28h0M265.8 32.2h0M275.3 34.8h0M278 30.8h0M265.5 30.2h0M271.7 27.6h0M265.9 29.2h0M268.7 28.8h0M269.1 34.6h0M270.4 28.2h0M268.4 28.3h0M272 35.1h0M269.8 28.4h0M265.6 32.4h0M279.4 31.9h0M278.5 31.5h0M275.9 34.7h0M269.6 25h0M267.9 25h0M271.7 22.7h0M264.9 24.3h0M267.2 26.1h0M272.5 21.8h0M266.4 24.4h0M267.7 24.7h0M267 19.7h0M272.1 22.8h0M265.6 23.9h0M269.8 19.1h0M269.2 24.6h0M271.7 21.1h0M271.7 22.2h0M264.9 22.8h0M270.9 24.1h0M270.8 20.1h0M282.2 12.4h0M278.9 15.3h0M273.3 15.4h0M278.3 12.3h0M274.8 13h0M281.6 13.9h0M276.7 15.7h0M274.7 13h0M275.9 15.7h0M276.1 15.7h0M268.5 27.4h0M264.9 25.5h0M268.3 31.3h0M276.4 24.7h0M271.5 15.6h0M272.4 29.2h0M273.3 21.3h0M273.5 20.5h0M270.2 28.6h0M272.6 35h0M264.8 17.8h0M264.7 20.6h0M269.6 28.5h0M279.5 28.9h0M273.2 34h0M266.4 32.7h0M275.5 30.3h0M272.1 22h0M260.8 21.5h0M265 31.2h0M269 16.9h0M269.7 29h0M279.1 30h0M275.4 23.8h0M262.4 23.1h0M276 20.9h0M269.3 28.4h0M264 25h0M262.8 17.9h0M271.2 31.2h0M272 16.9h0M264.2 21h0M274.9 28.9h0M272.9 33.3h0M268.4 16.3h0M271.8 32.6h0M276.7 30h0M274.4 18.4h0M263 21.6h0M261.6 30.6h0M274.1 22.3h0M260.6 21.4h0M278.3 23.9h0M265.8 15.3h0M273 22.5h0M322.6 43.3h0M318.1 36.4h0M316.8 49h0M318.1 39h0M313.3 43.8h0M310.7 46.1h0M312.2 45.4h0M316 33.6h0M316 39.6h0M309.1 38.9h0M309.7 47.8h0M309.4 39.2h0M321.7 38.6h0M313.5 45.1h0M317.6 44.8h0M320.4 46h0M318.7 43.7h0M318.5 36.9h0M318.2 49.1h0M313.7 49.9h0M313.9 40.2h0M307.8 43h0M312.4 45.4h0M322.4 36.1h0M323.3 46.8h0M324.3 39.4h0M313.8 37.6h0M315.8 35.6h0M309.9 42.4h0M321.8 39.8h0M317.7 47.9h0M315.4 36.4h0M312.1 45.9h0M310.7 41h0M311.5 39.3h0M322.1 39.1h0M313.2 36.8h0M320 37.6h0M319.6 46.8h0M320.8 37.9h0M318.9 46.8h0M316 47.2h0M312.8 36.8h0M322.5 43.2h0M317.9 36.2h0M318.9 47.8h0M323.9 39.5h0M312.9 43.6h0M311.9 47.2h0M314.1 37.8h0M319.1 42.1h0M308.8 42.9h0M312.1 49.2h0M311.7 39.6h0M322.5 38.1h0M324.5 40.7h0M316.4 51.5h0M319.1 46.9h0M311.2 44h0M319.7 38.9h0M323.6 45h0M324.9 41h0M310.5 41.5h0M315.2 44.1h0M321.3 42.4h0M323.7 48.2h0M315.3 32.5h0M313.9 37.1h0M323.1 48.5h0M311.3 34.5h0M320.5 46.9h0M311.2 43.7h0M307.5 37.1h0M308.7 38.1h0M320.2 47.7h0M325.7 43.8h0M319.5 41h0M319.6 47.1h0M319.1 33.6h0M314.4 47.2h0M307.1 36.7h0M301.2 65.8h0M300.5 66.9h0M307.8 65.7h0M302.5 72h0M304.3 68.9h0M306.5 64.6h0M303.4 72.5h0M300.3 70.5h0M301 71.9h0M310.1 70.6h0M306.2 66h0M302.9 66.2h0M309.6 68.9h0M303.8 65.5h0M302.3 65.2h0M303 73.5h0M309.7 69.2h0M309.4 67.5h0M308 71.8h0M300.2 68.1h0M305.5 73.8h0M299.9 68.6h0M305 73.1h0M307 65.7h0M307.1 72.6h0M294.6 72.6h0M293.2 70.6h0M291.5 71.3h0M291.5 72.4h0M294.5 72h0M258.3 66.5h0M255.8 63.9h0M256.4 65.8h0M256 63.4h0M257 66.8h0M256 65.5h0M259.4 63.6h0M257.7 61.7h0M257.2 71h0M255.6 72.1h0M256.7 71.2h0M258.2 71.8h0M256.9 73.4h0M255.8 72.4h0M256.3 73.2h0M256.1 71.3h0M305.8 79.4h0M305.9 80.5h0M306.4 78.9h0M306.2 80.5h0M449.4 16.1h0M459.5 84.1h0M463.4 9.2h0M515.3 44.2h0M460.1 67.7h0M458.6 11.6h0M460.4 66.2h0M455.1 72.8h0M434.5 73.1h0M482.1 13.5h0M478.5 69.9h0M432.9 68.2h0M491.1 78.2h0M468.6 14.6h0M509.9 32.9h0M460.1 11.4h0M438 69.4h0M520.7 43.1h0M428.8 47.8h0M452 11.9h0M440.2 72.3h0M459.8 86.4h0M458.6 21.2h0M467.4 87.4h0M436.8 52.6h0M480.5 89h0M452.3 59.1h0M515.8 64.1h0M459.9 17.7h0M447.8 79h0M462.7 4.9h0M494.7 83.4h0M486.4 5.7h0M425.4 48.4h0M443.8 23.4h0M437.8 27.4h0M438.6 19.5h0M445.3 21.1h0M443 26.6h0M444.4 22.7h0M440.9 30.9h0M439.2 26.9h0M440.1 27.8h0M516.8 72.3h0M513.5 68.1h0M509.2 68h0M516.8 73h0M509.5 65.5h0M514.9 66.4h0M515.9 68.9h0M510.2 74h0M509.1 70.6h0M451 39.2h0M450.7 38.9h0M449.9 43.1h0M452.7 40.4h0M451.4 39.8h0M452.5 40.2h0M451.6 38.4h0M451.8 41.6h0M447.9 40.1h0M448.7 39.8h0M462 22.6h0M460.6 23h0M459.6 22.5h0M458.8 20.1h0M464 34.7h0M466.4 28.4h0M466 32.8h0M460.7 34.1h0M459.5 33.1h0M466.5 30.5h0M460.7 34.1h0M462.6 34.4h0M465.1 33.1h0M462.5 26h0M465.1 34.1h0M460.1 27.6h0M464.7 34.5h0M458.3 32h0M466.4 28.1h0M464.6 27.2h0M460.3 26.9h0M467.1 33.5h0M455.1 26.2h0M460.7 37.6h0M454.6 28.1h0M464.1 27.1h0M454.3 29.1h0M462.5 26h0M461.7 37.7h0M466.2 37.5h0M454 32.1h0M457.7 28.4h0M453.9 27.3h0M468 32.8h0M458.2 37.1h0M457.1 42.3h0M452.7 39.9h0M459 26.1h0M448.9 30.1h0M467.5 27.7h0M463.2 41.1h0M454.2 29.9h0M456.8 26.7h0M457.6 24.2h0M451 37.3h0M460.2 30.1h0M456.7 41.6h0M449.3 29h0M463.8 39.2h0M454.7 23.3h0M452.3 28.6h0M451.7 30.4h0M464.1 32.9h0M455.2 39.6h0M465.7 35h0M462.4 27.8h0M451.3 28.2h0M465.4 24.5h0M454.1 33.8h0M453.1 27.6h0M450.3 34.6h0M463.3 35.9h0M448.2 35h0M447.8 31.6h0M443.4 35.5h0M442.6 34.4h0M444.2 36.1h0M448.7 34.2h0M443.7 31.1h0M445.9 30.6h0M445.1 30.7h0M442.4 32.1h0M475.7 10.9h0M473.3 10.8h0M469.6 11.6h0M475.5 10.9h0M470 11.2h0M477.4 13.2h0M477.3 12h0M477.8 13.3h0M475.7 14.3h0M468.8 12.2h0M476.1 14.5h0M476 11h0M473.8 18.6h0M472.9 19.8h0M475.7 21.6h0M474.6 18.6h0M475.2 24.3h0M473.8 24.8h0M472.7 20.2h0M474 19h0M475.3 24.6h0M472.4 22.1h0M472.4 23.1h0M475.4 23.3h0M510.5 51.4h0M509.7 53.7h0M509.6 47h0M503.8 51.2h0M509.7 48.2h0M503 49.5h0M505.8 54.9h0M507 54.5h0M504.6 47.5h0M510.7 52h0M503.9 51.5h0M507.3 54.7h0M504.9 54.4h0M503.8 53.3h0M510.5 48.2h0M508.5 54.4h0M504.7 54h0M501.7 54.2h0M507.7 50.6h0M502.7 57.3h0M513 55.2h0M507.8 48.5h0M505.8 49.6h0M507 51.4h0M503.9 43.3h0M506.3 49.4h0M509.3 53.3h0M503.5 44h0M500 53h0M508.8 42.1h0M506.2 46.5h0M512.5 49.5h0M503.8 56.6h0M503.9 45h0M504.7 42.6h0M500.7 42.5h0M500.5 53.2h0M511.7 50h0M504.4 57.5h0M513.3 54.4h0M508.5 55.8h0M503.7 57.2h0M501.3 57.8h0M513 47.7h0M502.9 50.7h0M499.8 41.9h0M496.4 48.8h0M499.3 58.5h0M501.6 56.6h0M497.5 55.9h0M510.3 49.2h0M497.5 52.5h0M508.8 45.3h0M506.3 49.2h0M503.3 58.8h0M496.3 49.4h0M508.1 57.1h0M506.2 56.8h0M506 52.3h0M507.4 59.4h0M497.3 43.6h0M502.5 72h0M497.8 68.1h0M497.6 61.6h0M497.6 70.1h0M504.7 64.2h0M492.5 68.9h0M499.5 69.9h0M495.7 73h0M493.9 70.8h0M498.7 63.8h0M499.7 67.9h0M504.5 67.5h0M498.7 61.1h0M501.2 60.8h0M495.5 70.2h0M501.9 71.2h0M501.8 71h0M501.1 63.1h0M494.2 67.8h0M497.8 63.1h0M503 66.2h0M503.8 67.8h0M498.4 71.8h0M495.4 69.3h0M503.3 69h0M501.1 70.6h0M503.5 65.9h0M497 62.4h0M500.2 63.1h0M494.9 65.1h0M502.6 65h0M503.3 66.2h0M501.7 62.8h0M499.2 62.2h0M500.8 62.6h0M502.2 70.1h0M477.1 64.3h0M478.3 64.5h0M476.1 65.6h0M478.2 64.8h0M476.5 64.3h0M483.5 81.1h0M483.6 81h0M483.9 79.8h0M485.7 80.2h0M114.2 183.3h0M138.4 200.3h0M109.7 235.1h0M78.3 170.1h0M90.8 162.4h0M111.1 168.8h0M120 185.1h0M116.8 224.6h0M120.6 229.4h0M133.7 182.3h0M75.6 212.9h0M115.8 219.2h0M54.7 213.2h0M130.1 214.2h0M136.4 213.1h0M73.7 233.7h0M69.1 200.5h0M117 171.8h0M136.6 188.4h0M99.5 231.1h0M84.9 224.5h0M125.1 188.5h0M108.4 230.9h0M135.6 188.3h0M64.3 204.2h0M107.1 163h0M75.4 166.9h0M110.5 162.4h0M114.3 177.2h0M55.5 211.3h0M138 227.1h0M75.9 207.3h0M145.8 209.9h0M112.9 226.8h0M124.2 200.7h0M75 210.5h0M118 235h0M142 212.9h0M141.8 203.1h0M145.2 206.7h0M134.2 209.4h0M144 206.6h0M77.6 180.2h0M76.4 179.1h0M83.1 176.9h0M81.6 180.1h0M79.9 175.8h0M81.9 176.2h0M78.2 180.5h0M77.6 180.2h0M80.4 180.3h0M82.4 176.4h0M83.1 178h0M83.7 174.3h0M83.5 174.1h0M87.4 169.2h0M87.3 169.4h0M83.3 175.4h0M86.7 169h0M88 173.1h0M88.2 171.3h0M90.4 167.9h0M90.1 168.1h0M96.1 180.6h0M94.8 181.6h0M92.9 180.7h0M88 187.4h0M88.7 186h0M99.1 179.5h0M91.7 179.7h0M97.6 180.5h0M94.5 184.4h0M93.1 181.5h0M91.9 177.3h0M95.1 178.7h0M97.5 183.3h0M96.8 179.7h0M92.1 177.9h0M92.3 187.8h0M93.8 187.1h0M97.4 185.7h0M89.3 179.3h0M97.7 182.6h0M95.2 179.4h0M97.2 184.4h0M95.2 187.3h0M88.1 184.5h0M94.9 178.3h0M93.4 178.5h0M88.5 183.3h0M91.6 187.5h0M92.8 188h0M90.9 186.9h0M90.8 187.4h0M97.2 185.1h0M95.4 187.7h0M94.2 187.2h0M95 178.5h0M90.2 179h0M88 189.7h0M85.2 178.5h0M97.4 176h0M95 179.6h0M87.4 177.4h0M100.2 187.7h0M89.7 177.1h0M93.1 190.2h0M92.3 176.1h0M91.2 174.5h0M86.6 181.5h0M96.9 179.6h0M96.8 180.7h0M96.4 175.4h0M96 184.5h0M99.5 186.6h0M98.4 181.3h0M99 186.4h0M99.7 187.1h0M103.8 182h0M101 178.5h0M103.6 183.5h0M100.8 186.8h0M101 186.7h0M98.3 184.7h0M103.4 183.4h0M102.1 187.2h0M67.9 190.9h0M74.4 190.3h0M69.5 192.8h0M68.2 189.7h0M74.2 189.4h0M69 192.4h0M72.1 192.9h0M70.2 187.9h0M70.4 187.9h0M70.4 192.9h0M74 191.7h0M70.9 188.3h0M74 189.8h0M133.9 202.9h0M133.3 202.5h0M133.8 206.3h0M135.5 206.4h0M134.4 201h0M132.3 210.2h0M136.8 203.9h0M134.5 210.1h0M131.2 207.2h0M128.4 210h0M134.3 203h0M127 206.5h0M133.7 206.4h0M135.2 206h0M131.1 209.7h0M127.7 207.4h0M130.8 209.5h0M130.1 202h0M131 201.6h0M131.4 201.5h0M135.8 205.6h0M134.1 208.2h0M128.9 208.5h0M132 209.2h0M133.8 208.8h0M127.2 204.9h0M123.3 211.1h0M120.4 206.5h0M124.1 210.9h0M118 210.9h0M122.5 211.6h0M122.8 206.2h0M125.9 208.4h0M117.1 207.8h0M124.3 211.3h0M116.2 210h0M116.9 209h0M116.9 209.6h0M118.5 211.5h0M120.5 205.9h0M119.4 206.2h0M122.8 211.6h0M117 210.6h0M132.5 206.6h0M134.2 209.1h0M132.2 199.2h0M135.2 205.3h0M124.6 207.8h0M136.1 197.8h0M122.9 210.6h0M123.6 209h0M131.4 196.4h0M120.1 203.6h0M124.1 207.5h0M129.8 198.1h0M120.4 206.9h0M81.6 217.1h0M83.9 220h0M86.8 218.8h0M83.2 219.9h0M82.4 216.7h0M82.7 219.9h0M116.8 231.1h0M116.9 225.8h0M121.4 222.6h0M120.2 231.6h0M124.8 223.5h0M117.2 224.7h0M125.4 225.9h0M120.6 227.6h0M116.9 231.2h0M118.4 224.1h0M120 231.7h0M115.3 227.1h0M119.7 223h0M119.2 230.8h0M117.2 227.6h0M118 229.1h0M118.6 230.7h0M122.5 223.6h0M124.6 229.3h0M119.8 231.2h0M117.3 225.9h0M117.9 229.3h0M124.6 227.7h0M118.5 223.8h0M123 232.4h0M117.1 221.5h0M127.2 225.6h0M126.6 227.3h0M120.2 238.5h0M118.5 238.8h0M120.1 237.9h0M120.2 238h0M287.7 164.6h0M251.9 221.6h0M334.8 207.5h0M308 168.4h0M324.8 181h0M256.7 175.3h0M302.8 241.7h0M311 233.6h0M288.9 240.3h0M252 178.3h0M311.4 228.6h0M293.9 225.3h0M312.5 188.7h0M310.5 234h0M262.1 205.8h0M318.7 177.2h0M263 194.8h0M247.6 197.4h0M257.4 183.3h0M306.9 222.2h0M254.4 185.7h0M325.5 177.6h0M266.4 226.4h0M273 237.9h0M330 199.4h0M323.9 219.6h0M323 220.4h0M321.6 218.1h0M321.5 218.2h0M324.1 215.3h0M266.1 182.2h0M260.6 184.4h0M264.4 185.5h0M261.4 181.5h0M261.1 184.7h0M265.5 182.2h0M262.5 181.2h0M262.9 180.6h0M265.5 185h0M259.1 193.9h0M260.3 193.1h0M254.4 191.9h0M259 193.7h0M257.5 188.5h0M256.3 194h0M256 193.9h0M260.3 193.2h0M261 190.9h0M258.1 194.1h0M254.7 192.4h0M258.9 188.6h0M260.6 192.5h0M260 193.2h0M258.1 189h0M260.6 190.8h0M259.3 188.8h0M259.7 193.9h0M256.1 189.1h0M272.6 188.2h0M283.3 186.1h0M284.8 190.8h0M277.7 191.5h0M272.2 183.2h0M280 180.2h0M276.6 176.2h0M283.9 182.8h0M274.7 190.7h0M276.8 187.3h0M280.9 191h0M279.3 187.4h0M274.4 186.6h0M283.9 189.9h0M283 184h0M281.1 182.9h0M280.6 184.1h0M282.3 177.3h0M279.1 184.7h0M271.3 182.6h0M277 188.9h0M287.7 187.5h0M280.9 180.5h0M275.1 187.7h0M270.7 185.5h0M280.7 177.5h0M275.1 178.2h0M271.5 184.5h0M281.4 190.4h0M273 184.7h0M284.9 185.4h0M273.6 186.7h0M274.1 187.2h0M280.8 189.4h0M277.4 188.7h0M284.7 181.1h0M279.6 189.1h0M276.4 188.8h0M283.9 187.5h0M277.7 179h0M284.1 186.6h0M281.1 178.7h0M280.5 178.4h0M279.6 189h0M279.6 190h0M274.3 181.3h0M284.9 185h0M282.2 181.6h0M278.1 181.2h0M286 180.2h0M281.4 178.3h0M276.7 178.4h0M281.5 181.4h0M283.1 181.4h0M270.1 186.1h0M287.4 188.4h0M268.6 177.1h0M269.2 176.2h0M268.1 175h0M267 179.2h0M266.7 179.5h0M267 179.3h0M267.5 178.8h0M286.4 177.5h0M290.8 177.7h0M289.7 178.1h0M288.2 178.2h0M288.2 178h0M289.4 177.9h0M286.5 177.7h0M311.4 203.5h0M321.9 203h0M323.2 200.7h0M312.1 194.9h0M316.8 189.3h0M317.6 194.9h0M323.3 198h0M310.9 195.3h0M316.4 196.3h0M317.6 202.2h0M315.8 198.4h0M320.7 200.2h0M313.7 195.8h0M313.3 191.7h0M323.3 193.7h0M319.2 192.6h0M310.9 194.1h0M321.9 204h0M323.7 198.6h0M314.2 191.2h0M309.5 192.5h0M308.4 201.4h0M318.9 191.4h0M310.4 198.7h0M312 194.9h0M319.1 199.6h0M321.4 201.8h0M319.6 195.3h0M321.6 198.5h0M313 193.3h0M320.8 199.2h0M314.9 192.5h0M320.2 200.9h0M320.3 195.4h0M310.7 200.5h0M311.8 194.5h0M319.7 192.7h0M310.1 198.5h0M315.7 203.8h0M314.8 192.3h0M319.6 201.9h0M321 196.5h0M319.2 192.4h0M320.9 198.9h0M318 192.5h0M315.9 191.6h0M310.9 198.8h0M310.7 198.4h0M314.6 203.2h0M317.9 204h0M307.9 194.7h0M312.3 199h0M323.7 198.2h0M322.3 198.3h0M312.8 200.9h0M309.6 201.9h0M318.6 207.9h0M315.8 191h0M311.5 205h0M270.8 215.4h0M268.6 215.8h0M268 218.2h0M267.9 218.7h0M271 216h0M270.2 215.5h0M272 216.9h0M268.1 217.9h0M269.2 215.5h0M271.1 216h0M271.4 219.5h0M309.4 227.5h0M306.7 227h0M307.2 222.7h0M311.1 227h0M306.5 228h0M306.3 223.1h0M310.6 226.8h0M308.9 222.9h0M305.9 223.4h0M306.3 228.9h0M305.7 224.3h0M308 223.1h0M310 222.7h0M310.2 228.9h0M309 222.5h0M313.3 226.1h0M306.4 223.5h0M305 227.4h0M307.4 229.1h0M308.9 229.7h0M310.5 229h0M306.2 228.1h0M312.7 226.1h0M304.6 223.4h0M306.5 231.2h0M311.9 227.4h0M313.7 226.5h0M307.7 224.6h0M305.8 229.3h0M306.5 229.5h0M295.5 226.1h0M293.3 227h0M297.3 227.7h0M295.3 226.1h0M293.2 227.2h0M259.2 226.4h0M261.1 227h0M260.8 227h0M261.6 225.7h0M259.4 226.7h0M260 227.2h0M441.9 175h0M458.8 229.1h0M445.1 189.2h0M442.7 224.4h0M440.3 177.3h0M444.1 205h0M492.1 167.2h0M429.4 210.8h0M492.6 182.3h0M511 205h0M506.6 196.2h0M495.6 225h0M473.8 175.1h0M462.7 241.1h0M492.3 175h0M431.5 202h0M487.4 242.8h0M433.3 216.9h0M460.8 168h0M505.4 207h0M499.7 194.9h0M501.1 192h0M495.8 216.9h0M520.6 205.8h0M511.8 204.4h0M465.3 163.2h0M459.9 185.9h0M486.5 170.6h0M450.4 179.5h0M488.7 241.1h0M437.3 192.5h0M438.1 177.6h0M433.3 172h0M438.3 185.5h0M431.9 176.6h0M432 179h0M438.9 175.9h0M438.9 173.6h0M437.9 175.5h0M441.1 181.6h0M430.9 175.9h0M430.3 181.1h0M439.4 180.5h0M437.5 171.7h0M435.2 180.9h0M507.2 226.1h0M511.4 225.4h0M501.5 231.2h0M509.6 230.4h0M514.7 199.3h0M513.3 202.4h0M516.9 198.1h0M512.9 209.7h0M514.6 201.3h0M519 208.7h0M451.3 187.6h0M447.7 183.8h0M446.8 185.9h0M448.2 187.4h0M447 186.1h0M448.4 183.6h0M449.3 187.7h0M447.7 184.4h0M441.5 194.7h0M443.9 191h0M442 191.7h0M445.6 191.3h0M442.3 195.2h0M442.8 191.8h0M443.3 195.4h0M441.5 193.1h0M470 183.1h0M472.5 187.4h0M468.9 191.1h0M468.3 183.9h0M463.3 190.3h0M470.5 192.7h0M466.4 182.5h0M465 184.6h0M458.3 192.2h0M461.5 185.1h0M465.1 182h0M459.6 186.3h0M464.5 183.2h0M470.4 188.3h0M468.1 191.8h0M459 187h0M468 192.4h0M465 193h0M466.8 183.5h0M469.1 185.6h0M460.1 190.6h0M469.7 188.7h0M465.9 183.4h0M470.2 185.9h0M469.7 189.8h0M466.8 192.8h0M458.9 188.4h0M469.6 188.8h0M463.9 182.8h0M460.3 194.9h0M461.2 188.4h0M457.5 191.6h0M463.2 183.6h0M458.2 187.5h0M470.7 193.2h0M469.2 187.8h0M464.6 190h0M485.6 175.6h0M483.3 170.5h0M485.4 171.3h0M480.7 173.2h0M486.2 173.2h0M482.4 174.3h0M486.4 173.5h0M485.2 175.7h0M483.4 182.1h0M506.8 205.7h0M504.3 202.7h0M505.7 198.2h0M503.3 197.6h0M505.7 196.8h0M506.6 198.4h0M505.7 204.9h0M507.3 197.3h0M498.3 205h0M507.9 198.8h0M500.8 199.6h0M505.5 206.1h0M507 205.3h0M505.1 206h0M507.9 204.2h0M505.4 198h0M503.5 197.3h0M507.2 199.8h0M505.3 205.9h0M501.1 205.3h0M504.2 197.8h0M503.1 206.4h0M507.2 198.7h0M507.5 204.4h0M500.1 204h0M500.2 199.8h0M503 206.4h0M494.5 200.2h0M497.7 209h0M497.2 208.6h0M497.2 206.8h0M509.3 207.7h0M504.4 210.1h0M512.6 201.2h0M498.8 200.5h0M496.8 199.6h0M495.3 202h0M512.2 199.6h0M496.5 221.8h0M487.8 222.3h0M490.7 219.3h0M492.7 227.8h0M490.7 227.1h0M495.6 222.1h0M498.7 222h0M498.1 220.3h0M498.7 224.7h0M494.3 220.4h0M493.3 221.6h0M498.8 223.6h0M494.3 224.8h0M492 222.3h0M491 226.5h0M489.5 220.7h0M489.1 222.4h0M490.4 220.4h0M491.2 219.3h0M489.8 224.8h0M496.3 220.7h0M488.6 223h0M495.5 220.6h0M489.4 221.7h0M489.8 225.7h0M489.9 220.5h0M488.8 224.4h0M495.7 220.8h0M490.2 222.5h0M486.8 221.5h0M492.4 216.6h0M495.1 217.8h0M492.8 226.3h0M494 225h0M486.3 220.8h0M459 224.4h0M461.1 224.8h0M460.8 224.4h0M461 226.1h0M461 226h0M459.3 226.5h0" stroke="#3f4cf0" stroke-width="1.6"/><path d="M78.6 83.9h0M316.2 32.6h0M493.1 29.7h0M432.3 40.2h0M139.9 216.4h0M288.4 176.7h0M286.8 226.6h0" stroke="#2898f0" stroke-width="2"/><path d="M60.4 25h0M114.2 83.7h0M136 52.1h0M125.5 59.9h0M132.7 26.2h0M67.7 24.9h0M106.6 8.1h0M76.8 64.8h0M125.9 76.5h0M58.7 37.4h0M66.7 46.2h0M64.3 45.1h0M63 43.5h0M60.5 44.6h0M67.1 45.3h0M68.5 38.7h0M63.6 34.3h0M63.8 47.6h0M65.3 45.1h0M67.4 39.7h0M61.5 43h0M60.3 44.1h0M62.1 45.1h0M58.5 37.9h0M96.4 85.8h0M99.8 84.1h0M101 83.6h0M93.5 83.5h0M95.5 81.4h0M97.3 78.7h0M99.2 85.9h0M91.4 81.2h0M99 83h0M99 84.5h0M98.7 88.2h0M96.7 37.6h0M90.7 37h0M97.2 35.5h0M92.7 33.5h0M96.8 35.4h0M94.1 33.5h0M96.8 34.7h0M93 33h0M96.9 36.1h0M94.4 33.3h0M97 36.1h0M93.2 38.5h0M90.6 36.7h0M93.6 38.7h0M127.9 24.8h0M128.2 25.6h0M126.4 26.7h0M126.1 24.5h0M126.1 26.6h0M125.6 24.8h0M125.1 25.7h0M82.9 57.9h0M83.9 56h0M93.1 55.5h0M93.4 57.2h0M83.4 55.7h0M92.1 60.8h0M84 54.6h0M91.1 53h0M94.4 56.5h0M86.8 52.8h0M88.8 53.2h0M94.2 56.8h0M85.7 54.3h0M83.3 58.1h0M93.7 55.7h0M86 53.2h0M83.6 57.6h0M86.4 61h0M89.7 52.4h0M84.1 54.3h0M88.4 61.5h0M91.6 61.3h0M94.1 57.5h0M62 46.3h0M65.6 45.9h0M299.8 77.9h0M260 54.7h0M295 15h0M268.4 86.7h0M305.3 15.5h0M281 10.9h0M264.7 27.8h0M253.6 38.9h0M289.9 9.6h0M329.9 49.8h0M249.1 38.4h0M247.7 38.4h0M254.3 39.3h0M287.2 85.3h0M290.5 86.5h0M285.6 86h0M287.2 84.5h0M285.7 86.8h0M288.4 87.2h0M283.9 42.7h0M284.6 41.9h0M283.8 43.3h0M284.2 43.7h0M276.2 45.6h0M276.9 45.2h0M278.4 38h0M284.3 43.3h0M283.6 40.4h0M274.4 41.1h0M284.6 42.9h0M276.7 45.7h0M284.3 42.9h0M276.1 38.5h0M274.6 40.2h0M281 38h0M277.3 46.2h0M275.7 44.8h0M274.9 39.8h0M278.8 37.5h0M288.3 33.5h0M286.5 36.4h0M289.9 38.2h0M291.9 36.5h0M290.4 34.1h0M288.9 38.4h0M288.1 33.8h0M287.6 33.9h0M484.5 6.4h0M472.9 20.5h0M452 60.7h0M513 26.2h0M427 43.5h0M476.3 82.1h0M463.4 18.4h0M481.4 84.9h0M429.6 43.7h0M465.5 74.6h0M456.4 78.1h0M469.6 90.6h0M457.5 13.9h0M434.5 43.4h0M435.9 41.2h0M439.3 45.2h0M437.3 46h0M431.6 41.1h0M440.1 41.2h0M439.8 42.5h0M438.6 43.9h0M436.6 41.6h0M440.4 43.1h0M465.4 86.1h0M471.1 87.8h0M464.9 85.2h0M459.8 83.5h0M473.3 81.3h0M473 83.7h0M472.5 86.1h0M467.7 83.2h0M467.1 88.6h0M465.1 88h0M466.8 82.3h0M463.9 82.3h0M476.8 28.3h0M483.4 31.4h0M484 31.3h0M483.3 29.6h0M480.1 27.1h0M478.2 27.9h0M482 33.5h0M482.9 32.8h0M478.4 34.1h0M477.2 33.1h0M477.3 33.7h0M477.2 28.6h0M482.5 27.6h0M483.4 29.7h0M478 27.7h0M482.6 27.9h0M477.8 33.3h0M471.6 56.3h0M473.6 54.6h0M474.1 55.1h0M471.2 61.1h0M471.9 56.3h0M473.5 54.9h0M478.7 61.9h0M470.2 57.5h0M477.2 62.9h0M471.8 55.3h0M478.9 61.4h0M480.4 60.7h0M473.4 55h0M473.1 62.8h0M474.1 62.7h0M472.7 54.9h0M477.1 63.2h0M480.1 61.3h0M480.5 58.3h0M480.2 57.7h0M479.4 55.8h0M479.8 56.3h0M477.7 62.6h0M131.4 227.2h0M146.5 203.1h0M126.8 211.5h0M131.3 173.8h0M61.7 190.9h0M133.8 174h0M129.8 190.9h0M123.1 232.9h0M78.3 227.3h0M63.5 194.2h0M64.8 193.6h0M63.5 199.7h0M72.5 198h0M65 195.6h0M67 196.7h0M69.2 199.9h0M125 183.1h0M125.6 181.7h0M126.5 183.7h0M127.5 181.4h0M129.4 182.2h0M129.4 182.1h0M92.9 214h0M90.7 206.3h0M87.1 210.5h0M96.3 210.7h0M92 206.3h0M93.6 213.6h0M95.7 212.5h0M89.9 206.9h0M95.1 212.3h0M96 208.4h0M93.6 206.2h0M94.1 213.5h0M96.3 211.8h0M87.4 209.8h0M87.7 208.1h0M102.9 211.1h0M104.5 212.5h0M109.1 209.5h0M108.3 212.6h0M102.6 210.2h0M109.8 211.3h0M105.7 212.7h0M105.9 213h0M112.2 237.3h0M111.7 236.4h0M113.9 237.4h0M111.7 236.9h0M266.5 216.6h0M326.6 196.1h0M327.5 199.7h0M278.5 172.1h0M311.6 178h0M266.1 173h0M245.7 194.7h0M248.8 195.9h0M253.3 198.2h0M246.5 198.1h0M254.4 195.9h0M244.2 196.8h0M254.1 198.4h0M255.3 199.2h0M287.4 237.5h0M290.9 239.2h0M283.6 239h0M291.7 239.2h0M290.1 242.4h0M286.6 241.5h0M287.7 238.4h0M297.9 189.5h0M299.9 195.3h0M297.4 190.6h0M302.8 193.3h0M296.8 191.2h0M296.5 193.3h0M297.9 194.4h0M298.4 189.6h0M301.2 194.6h0M299.4 189.6h0M295.3 210.8h0M294.8 210.6h0M296 211.1h0M287.8 214.6h0M288.1 211.8h0M288 214h0M290.5 215.9h0M292 216.1h0M289.5 216.1h0M291.9 216.4h0M290 209.5h0M294.2 210.2h0M289.1 215.5h0M295 210.6h0M449.1 168.4h0M486.4 182.7h0M502 174.5h0M435.8 179.3h0M519.6 203h0M430.8 218h0M471 176h0M462.3 228h0M435.8 194.7h0M430.6 195.1h0M431.8 199.3h0M436.9 199.2h0M431.2 196h0M428.8 196.2h0M435.2 200.8h0M432.2 200h0M439.1 202.5h0M436.2 200.4h0M435.5 202.4h0M434.2 201.5h0M432.5 203.7h0M435.8 199.7h0M438 199.7h0M476.9 238.1h0M480.7 233.1h0M478.2 236.3h0M473.3 234.9h0M480.1 235.2h0M474.1 237.7h0M472.9 234.4h0M480 233h0M481 185.6h0M480.1 190.7h0M477.7 186h0M479 191h0M480.7 185.4h0M477.2 186.3h0M476.5 186.9h0M477 186.6h0M479.4 185.7h0M477.8 212h0M478.1 212h0M471.1 217.2h0M475.1 211.4h0M473.2 218.6h0M479 219.5h0M479.4 219.7h0M471.5 215.5h0M472.3 218.1h0M477.1 219.4h0M471.1 216h0M478.6 212.3h0M481.1 218.7h0M477.9 212.1h0M482.5 216.7h0M472.2 219.1h0M471.2 213.3h0M480.7 218.7h0M481.3 213.3h0M482.3 216.7h0" stroke="#94f29c" stroke-width="1.6"/><path d="M107.1 81.9h0M53.6 47.2h0M72.5 57.1h0M131.1 44.5h0M105.9 4.4h0M56.5 30.4h0M140.6 56.6h0M80.9 65h0M84.8 87h0M70.5 41.2h0M144.7 45.2h0M135 70.2h0M96.5 78.1h0M128.4 16.7h0M65.1 69.7h0M117.2 26.3h0M123.4 70.9h0M95.1 13.7h0M125.7 35.2h0M72.8 49.4h0M62.3 36.9h0M64 35.1h0M62.4 48.9h0M58.2 42.5h0M59.2 47.9h0M61.1 34.5h0M60.2 40.1h0M65.1 38.8h0M55.2 39.8h0M67.4 35.6h0M59.4 48.7h0M59.5 34h0M64.1 35.6h0M55.9 42.6h0M67.3 38.6h0M55.8 39.4h0M63.5 41.2h0M58.7 33.2h0M55.3 39.5h0M94 88h0M97.1 77.1h0M100.9 83.4h0M92.1 86.2h0M104.2 81.9h0M113.5 82.7h0M103.1 85.7h0M106.4 87.6h0M102 81h0M112.7 82.9h0M108.5 84.7h0M108.9 23.8h0M103.3 24.8h0M107.5 23.3h0M104.5 26.4h0M103.5 24.1h0M107 23.4h0M107.3 23h0M109 26.3h0M103.1 24.8h0M78.3 52.2h0M73.9 56.6h0M76.2 50.9h0M70.3 54.3h0M77.7 52.9h0M72.1 50.5h0M74.7 50.4h0M78.3 54.9h0M70.2 53.2h0M77.3 52.1h0M72.3 50.5h0M71.9 56.4h0M323.4 64.2h0M289.4 89.8h0M241.4 53.2h0M304.6 15.7h0M319.1 29.4h0M318.8 54.7h0M329.3 45.1h0M283.1 21.7h0M324.6 63.1h0M328 41.6h0M312.6 39.1h0M325.2 37.4h0M249.8 73.5h0M254 67.7h0M326.3 32.6h0M278.1 8.9h0M290 72.3h0M313.2 79.4h0M309 63h0M272.2 28.6h0M279.9 73.8h0M321.1 74.8h0M282.2 15.2h0M250.7 43.4h0M249.8 43.8h0M247 42.1h0M250.1 40.3h0M245.3 42.6h0M253.9 41.6h0M254.7 40.4h0M293.5 81.4h0M297.6 83.8h0M297.8 82.2h0M296.1 79.5h0M295.4 76.8h0M300.4 79.5h0M290.6 84h0M287.7 88.9h0M289.1 87h0M286.1 87.7h0M292.2 84.1h0M290.9 89.1h0M278.8 19.4h0M281.2 22.1h0M282.5 20.5h0M280.5 19h0M325.8 53.4h0M321.4 51h0M325 53.7h0M321.2 51.2h0M322.8 53.6h0M327.2 52.5h0M324.8 50.6h0M254.5 56h0M254.8 50.7h0M258.6 56.4h0M253 52.4h0M256.4 50.5h0M259.4 56.7h0M258.5 57.1h0M253.6 55.1h0M261.2 53.1h0M252.2 53.7h0M255.2 57h0M260.6 55.6h0M436.5 24.8h0M439.3 64.7h0M477.3 87.8h0M511.6 68.3h0M448.4 72.5h0M437.9 74.5h0M505.8 34.9h0M492.4 24.1h0M493.9 22.9h0M436.3 47.7h0M441.9 38.5h0M483 18.5h0M511.6 27.6h0M440.9 78.3h0M464 10.5h0M462.3 71.7h0M443.1 40.5h0M517.9 54.8h0M438.7 55.7h0M504.6 45.2h0M515.2 59.4h0M449.6 31.9h0M519.1 58.9h0M487.6 82h0M458 27.9h0M436.7 39.1h0M435.6 43.7h0M432.7 45.8h0M435.8 39.7h0M432.9 44.1h0M464.3 87.6h0M465.8 80.3h0M474.6 86.1h0M469 84h0M469.2 80.7h0M469.9 87.6h0M469.8 87.1h0M463 80.6h0M469.3 80.4h0M466 86.7h0M475.1 82h0M488.3 87.8h0M488.5 87h0M488.6 83.2h0M489.6 86.9h0M453.4 19.8h0M449.4 20.1h0M453.1 17.6h0M453.5 19.1h0M449.7 17.5h0M449.1 19.2h0M449.9 21.4h0M452 17.1h0M450.5 21.5h0M449.6 20.9h0M444.1 52.4h0M449 46.9h0M446.8 45.2h0M447 45.9h0M445.8 44.9h0M448.1 47.2h0M442.8 45.8h0M444.9 45.3h0M442.5 51.6h0M448.1 47h0M501.1 35.5h0M504.3 34h0M502.3 32h0M504.3 34.6h0M503.9 35h0M504.3 33.7h0M128.9 230.5h0M107.1 169.6h0M75.7 190.7h0M97.6 239.2h0M140.7 219.8h0M120.3 188.9h0M84.2 184.3h0M63.6 201.6h0M65.7 183.9h0M109.7 161.3h0M71.9 178.4h0M133.3 230.3h0M72.3 208.4h0M65.1 210.5h0M75.3 193h0M82 184.3h0M129.1 231.7h0M111.1 241.3h0M129.2 215.1h0M127.1 204.9h0M70.5 196.7h0M64.8 196.8h0M63.2 194.5h0M70.3 194.3h0M106.1 238.8h0M106.5 236.1h0M99.9 241.2h0M103.4 239.6h0M103.4 243h0M99.8 238.2h0M101.1 242h0M101.1 239.9h0M99.4 236.2h0M112.3 181.5h0M108.8 183h0M109.5 179.5h0M107.9 180.2h0M110.1 183.2h0M107.4 180.3h0M111.2 182.9h0M107.7 180.3h0M112.2 180.6h0M78.8 214.8h0M83.3 210.1h0M82.5 213.6h0M82.3 213h0M79.6 214.5h0M82.9 209.4h0M82.3 213h0M78.2 207h0M82.2 212.6h0M79.7 207.3h0M83.4 211h0M82.6 213.3h0M82.9 209.7h0M79.6 207.4h0M78.7 207.2h0M288.1 232.1h0M292.3 234.7h0M325 224.7h0M253.3 202.7h0M261.7 207.4h0M263.4 225.4h0M282.5 233.9h0M332 212.9h0M309.5 184.2h0M245.7 190.8h0M262.4 221.2h0M280.8 174.4h0M309.1 228.3h0M285.5 172.1h0M304.2 187.9h0M255.1 186.1h0M253.1 205.5h0M258.2 213.3h0M305 228.1h0M273.7 167.6h0M277.8 225.7h0M303 239.7h0M257.9 172.6h0M254.8 204.2h0M252.7 199.3h0M249.3 198h0M244.2 197.1h0M297.1 230.2h0M292.9 232.8h0M296.7 232.3h0M292.7 234.7h0M301.4 233.5h0M296.6 235.2h0M300.3 232h0M292.6 230.7h0M298.3 235.5h0M299.9 231h0M285.2 237.6h0M290.5 239.1h0M284 241.4h0M293.3 240.9h0M292 239.6h0M277.5 172.8h0M278.2 173.3h0M279 168.7h0M280.7 172.3h0M277 170h0M276.9 172.3h0M276.6 171.4h0M276.6 170.2h0M281 172.2h0M277.2 169.6h0M279.8 172.9h0M317.5 187.4h0M313.7 186.7h0M316.4 188.2h0M314.3 186h0M317.3 186.2h0M317.4 187.7h0M314.2 186.1h0M261.9 207.2h0M267.7 212h0M268.1 212.2h0M266.6 207.1h0M268.6 209.8h0M262 208.3h0M262.3 212.7h0M261.7 207.8h0M268.2 211.2h0M262.6 212.7h0M261.2 210.4h0M268.2 211.8h0M266.2 206.6h0M263.4 207h0M267.7 211.5h0M453.4 169.8h0M450.6 222.5h0M455.9 241.5h0M435.8 221.9h0M446.1 196.3h0M508.4 178h0M433 188.8h0M431.5 218.3h0M488.8 174.2h0M471.7 169.8h0M460.6 237h0M463.3 163.9h0M476.5 239.5h0M431 207h0M508.9 186h0M433.7 198.6h0M435.1 194.8h0M432.7 194.1h0M429.2 199.5h0M429.5 197.3h0M439.8 202.4h0M434.9 199.8h0M463.8 238.2h0M476.1 238.9h0M464.4 238.3h0M471.8 236.4h0M464.5 237.4h0M463.2 238.2h0M474.4 239.4h0M466.9 238.6h0M467.2 237.4h0M471.4 238.6h0M473.1 240.2h0M482.8 238.6h0M475.2 235.7h0M484.2 234.3h0M478.6 233.6h0M477.8 239.2h0M473.7 238.7h0M475.1 233.4h0M457.5 176.3h0M455.6 178.1h0M456.8 174.3h0M453 175.7h0M454.6 173.7h0M452.8 176.3h0M456.2 173.7h0M455.9 178h0M500 192.2h0M501.5 189.1h0M501.4 192.2h0M499.6 192.1h0M446.9 219.1h0M452.2 219.9h0M447.8 220.1h0M446.9 217.4h0M452.5 215.3h0M452.6 215.3h0M447.3 219h0M453.6 216.3h0M448.2 215h0M449.2 214.3h0M449.2 220.9h0M447.9 220.5h0M452.9 216.4h0M451.9 220.2h0M452.9 215.2h0M449.7 214.7h0" stroke="#80f0b0" stroke-width="1.6"/><path d="M105.3 15.7h0M76.5 15.9h0M250.7 66.7h0M316.3 15.4h0M60.2 204.4h0M61.5 183.8h0M310.3 179.9h0M317.8 197.7h0M451.9 183.8h0M446.4 229.4h0" stroke="#3f4cf0" stroke-width="0.8"/><path d="M81.4 69.5h0M60.3 63.1h0M83.2 87.8h0M89.8 73h0M62.9 31.7h0M101.3 74.1h0M135 76.2h0M129.4 64.3h0M87.3 86.2h0M70.8 35.1h0M58.3 68.9h0M93.6 71.2h0M120.8 58.4h0M53.8 33.2h0M58.1 65h0M144.9 59.6h0M143.8 41.9h0M144.4 41.8h0M139.8 41.9h0M143.7 39.5h0M141 55.4h0M141.2 53.9h0M141.1 55.1h0M141.4 53.8h0M284.4 73.9h0M306.5 11.4h0M258.8 50.5h0M254.2 38.9h0M329 38.4h0M245.7 66.7h0M284 12.5h0M296.1 76.4h0M246.7 58.6h0M249.2 53h0M294.1 90.3h0M282.8 85.3h0M331.5 33.3h0M259.5 36.3h0M288.7 24.4h0M286.4 77.5h0M300.5 20.7h0M256.3 50.6h0M329.5 61.6h0M311.9 75.7h0M244.9 43.5h0M331.4 56.1h0M270.8 27.1h0M316.1 38.1h0M260.8 83.3h0M250.1 40.8h0M314.9 50.4h0M287.6 87.5h0M316.7 24.5h0M310.9 25.1h0M314.4 24.6h0M312.1 25.5h0M317.3 26.1h0M328.8 36.3h0M330 37.1h0M328.6 39.7h0M328.7 36.2h0M330.1 38.1h0M328.2 39.5h0M328 39.8h0M324.3 59.6h0M324.4 59.7h0M325 58.6h0M327 58.9h0M326.4 60.3h0M324.3 59.2h0M504.1 26.2h0M467.6 4.6h0M513.2 33.9h0M446.4 19.4h0M463.5 18h0M426.6 36.6h0M491.8 21.9h0M434.1 39.2h0M432.4 58h0M444.3 24.6h0M507.8 40.3h0M442 22.3h0M482 77.1h0M436 64.1h0M454.3 23.7h0M496.5 55.4h0M459.4 79.8h0M508.3 24.6h0M512.2 66.5h0M514.2 35.4h0M518.2 36.1h0M517.7 36.4h0M515.5 33.2h0M514.6 35.7h0M517.2 33.3h0M66.1 175.1h0M137.7 198.9h0M98.5 244.4h0M136.7 212.3h0M114.5 225.4h0M88.7 241.1h0M79.4 226.5h0M95.8 238.2h0M71.2 218.7h0M72.1 182.1h0M131.6 182.8h0M144.1 186.2h0M91.3 160.1h0M135.8 177.2h0M130.7 186.3h0M66 197.8h0M130.8 232.8h0M123.5 178.1h0M145.6 201.2h0M81 235.4h0M108.8 226.7h0M138.9 201.6h0M102.6 241.6h0M101.3 161.3h0M113.8 164.9h0M113.7 174.8h0M134.4 210.4h0M137.3 211.2h0M138.6 217h0M140.3 209.7h0M135 203.3h0M143 188.1h0M143.8 190.8h0M139.3 190.2h0M142.6 188.1h0M143.6 191.7h0M143.5 188.7h0M139.5 190.4h0M142.1 188h0M140.3 191.8h0M144.1 190.4h0M139.9 190.6h0M143.1 188.6h0M142.6 205.5h0M143 205.5h0M142.1 206.2h0M142.7 205.6h0M143.5 205.6h0M141.3 214.1h0M139.9 212.6h0M141 212.3h0M139.9 213.8h0M302.5 223h0M264.2 217.4h0M311 228.8h0M316.8 194h0M293.4 164.4h0M324.6 187.5h0M252 181.2h0M309.5 189h0M251.9 205.4h0M325.5 226h0M297.8 177.4h0M304.2 218.6h0M269 238.4h0M251.5 178.5h0M310.9 208.2h0M284 224.9h0M299.6 165.6h0M305.8 175h0M326.7 220.7h0M320.5 180.1h0M330.5 189.5h0M326.1 189.6h0M327 188.1h0M327.6 189.9h0M328.4 189.9h0M327.2 188h0M327.5 208.7h0M326.7 208.5h0M327.4 208.8h0M328.5 208.3h0M493.5 240.6h0M466.5 181.3h0M427.6 201.5h0M509.4 206.3h0M507.1 206.5h0M461 240.8h0M489.5 241h0M444.7 171.5h0M501 174.3h0M509.1 191.9h0M453.1 173.7h0M448.5 185.6h0M450.3 217.6h0M435.9 185.4h0M481.7 229.9h0M439.2 210.6h0M460.8 231.6h0M485.2 233.2h0M431.3 195h0M456.1 234.2h0M500.7 175.3h0M478.9 163.4h0M497.4 226.1h0M507.5 222.7h0M499.6 229.8h0M509.8 226h0M511.8 229h0M503.9 176.1h0M502.9 176.6h0M497.6 174.3h0M500.6 176.5h0M502.3 181.9h0M499.3 179.2h0M503.2 176.3h0M498 181.3h0M515.7 191.7h0M512.7 192.4h0M513.9 191.4h0M516.4 191.8h0M513.1 191.8h0M502.4 177.1h0M501.6 177.2h0M503 174.8h0M503.2 176.5h0M501.2 177h0M503.4 176.5h0M510 219.4h0M509.3 219.3h0M510.5 221h0M509.8 219.5h0M508.7 219.7h0" stroke="#40b0f0" stroke-width="1.6"/><path d="M113.5 73.6h0M142.8 35.1h0M127 80.6h0M143.5 55.6h0M119.6 21.7h0M63 39h0M146.5 36.3h0M130 70.4h0M133.7 69.8h0M289.9 20.4h0M258.9 75.2h0M245.5 56.4h0M255.3 41.7h0M306.8 65h0M312.3 55.1h0M323.5 18.9h0M325.3 58.7h0M307.8 84.3h0M306.1 21.5h0M305.4 72.5h0M294.5 87.9h0M302.6 71.4h0M312.8 68.2h0M315.9 68h0M318 70.6h0M318.5 66.4h0M313.5 68.2h0M315.6 65.5h0M318.5 70h0M441.5 52.5h0M485.9 82h0M501 72.1h0M453.1 63.8h0M433.1 49.9h0M451.3 68.7h0M489 82.7h0M453.5 28.7h0M458.2 10.4h0M91.4 240.4h0M123.5 225.1h0M96.5 227.4h0M126.4 210.3h0M76.4 234.2h0M73.4 194.3h0M125 238.4h0M131.7 223.7h0M129.8 226.7h0M130.2 223.2h0M133.3 223.9h0M132 222.1h0M129.9 223.7h0M316.2 182.5h0M259.6 201.2h0M297.7 226.2h0M298.6 167.2h0M248.5 209.8h0M261.4 229.5h0M269.9 230h0M299.7 181.2h0M250.1 210.3h0M310.9 196.4h0M294.6 182.3h0M255.7 226.9h0M317 219.7h0M315.8 220.5h0M321.8 218.6h0M321.6 216.6h0M314.8 219.2h0M480.8 230.2h0M483.9 222.6h0M517.3 186.3h0M469 243.2h0M430.2 220.1h0M473.2 177.9h0M437 176.3h0M447.7 204.4h0M439.7 189.7h0M450.1 169.8h0M429.9 186.3h0M501 198.6h0M442.4 218.1h0M500.1 186.8h0M507.1 190.5h0M425.8 210.6h0M432.4 221.6h0" stroke="#40c0e0" stroke-width="1.6"/><path d="M67.6 54.9h0M120.8 85.8h0M100.6 80.9h0M133.6 57.2h0M87.1 13.2h0M74.4 29.7h0M123.3 66.5h0M142.7 37.2h0M75.5 37.4h0M115.4 78.4h0M127.5 62.4h0M116.7 21.7h0M97.1 72.9h0M68 48h0M131.5 19.6h0M104.8 70.7h0M70.4 27.4h0M125.6 42.2h0M79.1 82.1h0M127.3 68.9h0M99.1 91h0M109.7 24.6h0M104.6 26.4h0M107 26.7h0M109.7 24.2h0M103.9 25.6h0M103.2 24.8h0M109.5 26.1h0M108 23.4h0M106.4 23h0M106.1 27h0M77.6 53h0M71.4 56.7h0M71.9 50.3h0M71.6 51.2h0M70.4 52.2h0M76.9 51.1h0M70.2 55.4h0M76.6 51.3h0M77.6 51.8h0M74.5 56.7h0M77 55.4h0M73.2 50h0M78.2 52.7h0M72.3 50.5h0M74.4 50h0M78.2 54.8h0M72.4 57.1h0M250.6 50.2h0M262.2 81.7h0M270.3 31.2h0M318.8 40.6h0M321.3 56h0M320.5 33.5h0M275.2 7.1h0M255.2 77.1h0M312.9 46.2h0M283.5 80h0M286.1 84.9h0M325.8 49.6h0M267.9 13h0M311.9 41.2h0M258.1 29.1h0M251.7 34.7h0M295.6 82.6h0M312.1 54.3h0M280.4 19h0M279.8 21.9h0M282.6 19.6h0M281.8 19.2h0M280.5 18.9h0M282.5 20.2h0M281.4 21.9h0M279.4 21.8h0M280.9 22.1h0M280.6 18.9h0M326.8 52h0M326.5 53.2h0M325.8 53.5h0M327 51.9h0M320.5 52.4h0M322.6 53.5h0M325.2 51h0M320.4 52.2h0M325 50.9h0M321.7 53.6h0M325.6 51.1h0M320.9 53h0M261.7 53.9h0M257.6 57.2h0M255.7 57.1h0M253.9 55.5h0M261.6 54.5h0M253.4 55.9h0M257.8 50.5h0M255.5 56.8h0M255.9 56.5h0M253.1 52.8h0M260.3 51.5h0M259.9 56.4h0M253 54.9h0M253.2 54.9h0M260.5 51.4h0M259.2 56.2h0M252.3 53.8h0M260.9 52.3h0M433 40.5h0M501.3 47.3h0M480.2 22h0M473.6 81.5h0M454.1 67.4h0M496.6 21.9h0M511.3 21.6h0M445.5 23.2h0M446.5 44h0M453 12.5h0M503.2 70.2h0M451.4 66h0M469.3 7.5h0M511 26.2h0M513.1 63.7h0M431.1 62.1h0M441.9 18.2h0M462.6 19.9h0M433.5 41.5h0M502.2 37.2h0M449.5 30h0M434.5 61.1h0M443.1 77.5h0M506.2 65.2h0M489.1 87.5h0M476.7 15.2h0M501 44.6h0M499.6 76.1h0M466.5 74.4h0M453.1 19.7h0M450.3 21h0M452 17h0M453 18.2h0M453.1 17.4h0M449 18h0M448.9 18.2h0M451.7 21.6h0M446.9 45.7h0M449.5 48.1h0M449.2 50h0M445.2 45.6h0M446.7 45.2h0M449 48h0M441.1 48.5h0M441.3 47.6h0M441.6 50.6h0M446.2 45.2h0M445.3 52.6h0M440.9 49.3h0M448.3 46.6h0M448.2 46.8h0M448.2 51.8h0M449 48.6h0M442.8 52.5h0M449.2 47.7h0M448.7 49.6h0M447.4 46.4h0M501.6 31.7h0M504.2 33.2h0M503.7 35.2h0M501.6 32.1h0M503.9 32.5h0M503.2 31.9h0M504.2 34.5h0M503.9 35.5h0M503.7 32.4h0M78.1 240.3h0M112.9 232.1h0M104.1 234.2h0M123.4 206.8h0M66.8 226.2h0M137.4 212.7h0M62.4 187.2h0M99.1 241.8h0M93.6 170.5h0M93.1 177.7h0M129.8 227.5h0M126.8 196h0M142.8 195.6h0M128.4 213h0M76.9 220.3h0M130.4 178.2h0M137.8 207.3h0M97.7 175.3h0M112.3 178.6h0M70.5 184.2h0M135.2 210.3h0M111.8 180h0M108.5 183.1h0M107.5 181.6h0M112.1 181.9h0M112.5 181.3h0M112 182.1h0M109.7 183.3h0M107.6 180.7h0M81.2 213.7h0M79.7 214.4h0M82.5 208.4h0M82.8 208.8h0M79.7 214.2h0M75.4 210.6h0M79.6 207.1h0M82 208.5h0M76.6 208.5h0M78.4 214.1h0M82.7 211.4h0M75.9 212.1h0M79.8 214.9h0M75.4 211.9h0M250.1 218.6h0M315.7 226.2h0M306.5 239h0M320.4 220.4h0M317.5 172.6h0M324.7 187.4h0M308.8 236.6h0M317.9 233.8h0M315.7 201h0M255.9 185.6h0M268.1 169h0M301.6 221.3h0M333.7 194.2h0M299 181.8h0M278.8 172.5h0M306.4 170.9h0M298.6 226.9h0M294.3 229.4h0M256.7 205.6h0M257.8 194.9h0M278.8 168.8h0M277.3 172.4h0M280.6 170.2h0M276.7 170.2h0M280.9 171.3h0M276.8 171.3h0M316.7 188.1h0M315.7 185.5h0M313.7 187h0M315.7 188.4h0M313.8 187.1h0M316.8 187.9h0M263.3 212.5h0M264.4 212.9h0M263.8 212.8h0M263.2 206.9h0M267.3 212.2h0M266 213.3h0M264.9 213.6h0M267 207.4h0M262 211.5h0M265.1 213.4h0M267.4 212.1h0M261.6 210.8h0M446.7 217.3h0M464 228.3h0M441.8 223h0M511.6 178h0M441.3 221.6h0M462.8 175.3h0M445.5 197h0M437.1 204.8h0M456.2 227h0M448 168h0M429.2 194.1h0M498.9 201h0M456.7 224.6h0M474.6 245.4h0M429 209.7h0M472 229.3h0M476.9 225h0M513.6 210.8h0M483.2 163.1h0M505.6 218h0M514 186.1h0M510.6 204.2h0M457.1 177.2h0M453.1 176.7h0M454.9 173.7h0M456.2 177.5h0M454.4 173.7h0M455.6 177.9h0M455.9 177.6h0M456.2 177.8h0M455.3 173.7h0M499.4 191.4h0M499.1 190.4h0M499.3 191.6h0M502.6 191h0M502.1 189.5h0M500.6 188.9h0M501.4 192.4h0M501.2 192.3h0M499.4 190h0M502.8 190.2h0M450.3 214.3h0M453.5 216.1h0M451.6 215h0M447.2 216.2h0M453.2 217.9h0M451.2 220.4h0M446.8 216h0M447.9 220.4h0M448.3 214.9h0M453.7 218.3h0" stroke="#80f0b0" stroke-width="1.2"/><path d="M146.9 48.1h0M86.2 77.3h0M134.9 54.9h0M77.9 32.5h0M56 54.9h0M86.1 65.8h0M81.4 18.8h0M75.6 30h0M121.9 35h0M109.4 85.7h0M102.4 83.9h0M68.6 59.1h0M125.4 82h0M62.2 27.6h0M119.3 82.3h0M74.5 67.7h0M55.1 59.9h0M71.3 79.7h0M66.1 57.4h0M108.3 30.5h0M109.7 34.1h0M106.5 36h0M106.1 29.9h0M102.4 34.9h0M106.7 36.2h0M102 32.1h0M108.8 30h0M103.2 35.1h0M107 29.5h0M109.3 30.8h0M115.5 44h0M113.2 41.7h0M112.9 42.1h0M113 42h0M119.9 37.2h0M117.6 44.2h0M114.1 43.3h0M118.5 44h0M122.5 39.8h0M121 38.1h0M119.4 44.1h0M120.6 43.3h0M119.1 44.7h0M119.4 37.1h0M134.7 28.8h0M134.9 29.6h0M133.3 30.8h0M132.2 29.7h0M132.6 28.7h0M266.1 11.8h0M286.8 8.7h0M277.7 21.2h0M255.6 43.6h0M318.8 24.3h0M302.6 29.4h0M320.7 48.7h0M278.8 12.7h0M263.2 62.4h0M325 63.9h0M300.7 19.9h0M302.8 21.7h0M257.7 12.4h0M327.6 43.9h0M289.3 72.8h0M288.4 16.3h0M284.9 76.6h0M244.4 65h0M304.8 63.4h0M286.8 7.4h0M258 81.6h0M263.4 68h0M286.4 27.2h0M286.4 26.4h0M286.1 25.7h0M290.1 22.8h0M286.8 27.2h0M290.2 28.6h0M288.1 23h0M290.5 28.5h0M288.4 28.5h0M298.8 37.8h0M303.6 37.7h0M302.4 44.6h0M302.1 37h0M300.2 37.2h0M304.8 41.5h0M297.3 39.5h0M304.9 40.3h0M297 42.2h0M297.5 40.1h0M303.9 42.9h0M302.3 44.3h0M300 36.9h0M304.3 41.4h0M303.2 56.2h0M303.2 53.7h0M309.1 56.5h0M309.3 55.6h0M309.1 54.4h0M303.5 53.3h0M306.4 57.6h0M303.6 56.9h0M467 72.1h0M447.4 72.7h0M436.1 31.5h0M474.4 77.1h0M443.9 45.5h0M447.1 23.2h0M507.5 44.6h0M473.3 8.3h0M483.4 73.9h0M502.6 61.2h0M509.7 33.2h0M515 69.3h0M507 25.1h0M483.7 7.8h0M434 67.8h0M435.9 36.4h0M520.8 55.9h0M503.8 20.2h0M502.4 17.8h0M499.8 19.9h0M503.7 20.4h0M499.7 18.9h0M502.9 18.1h0M499.8 19.3h0M500.1 18.4h0M500.5 20.2h0M501.9 17.7h0M500.6 20.6h0M485.2 42h0M494.9 39.4h0M497.2 45h0M487.7 47.9h0M494.3 47.3h0M488.5 48.2h0M496.5 44.9h0M488.3 38.7h0M485.9 46.2h0M497.3 42.6h0M493.3 48.5h0M495.2 46.6h0M488.6 37.8h0M497.1 43.6h0M484.5 42.8h0M492.9 48.2h0M489.2 37.6h0M72.2 188.5h0M132.2 193.8h0M62.1 190.4h0M94.9 167.8h0M94.5 172.3h0M122.5 193h0M143.1 217.9h0M143.4 183.5h0M130.8 191.9h0M70.1 185.8h0M93.3 170.3h0M140.6 199.3h0M54.5 195.2h0M69.7 210.2h0M126.9 184.6h0M111.9 191.3h0M118.5 188.3h0M117.2 186.5h0M110.8 189.2h0M111.3 186.9h0M115.4 185.9h0M111.9 191.5h0M110.6 188.4h0M117.1 186.2h0M111.6 191.6h0M114.2 185.9h0M118.7 188h0M116.3 186h0M118.4 188.2h0M116 191.9h0M111.2 188.5h0M119.3 188.6h0M115.1 185.9h0M111.6 191.4h0M113.6 198.5h0M114.8 197h0M121.2 197.4h0M118.8 195.1h0M114.3 197.7h0M117 195.1h0M113.7 200h0M119.7 202.8h0M119.6 195.5h0M114.2 200.9h0M117.8 202.4h0M118.4 202.7h0M117.1 195h0M119.3 202.5h0M242.8 187.1h0M308.3 173.4h0M260.8 225.8h0M248.8 178.8h0M305.2 181.3h0M296.2 228.3h0M282.7 238.8h0M293 227.2h0M323.2 223h0M282.3 231.2h0M271.4 220.6h0M303.9 186.5h0M331.4 194.2h0M269.3 181.8h0M304.5 226h0M267.7 237.7h0M264.6 176.7h0M270.9 221.8h0M262.4 219.9h0M298.7 182.4h0M291.3 184.6h0M294 179.4h0M290.7 181.2h0M298.2 180.9h0M297.7 180.3h0M298.4 181h0M296.3 185.6h0M298.7 183.6h0M299 184h0M298.7 183.9h0M295.6 179.6h0M291.1 183.5h0M298 206h0M301.6 199h0M299.5 200.3h0M297.5 204.4h0M305.5 206.2h0M299.8 207.3h0M304.6 200.5h0M305.3 205h0M303 199h0M302.6 207.6h0M302.2 207.8h0M297.3 204.8h0M302.3 199.6h0M304.3 206.6h0M297.7 205.5h0M297.7 201.8h0M300.4 207.1h0M297.4 202.8h0M298.2 201.1h0M299.3 206.9h0M299.4 199.6h0M297.8 201.7h0M444.7 217.8h0M465 238.2h0M480.7 230.9h0M497.3 215.7h0M447.9 183.8h0M483.8 162.9h0M500.8 185.4h0M442 226.8h0M502.5 196.2h0M442.3 177.3h0M497.6 209.7h0M465.6 163.1h0M502.8 179h0M472.2 169h0M445.7 205.9h0M498.4 192.4h0M515.5 204.4h0M495.6 223.2h0M508.3 214.5h0M440.7 194.3h0M435.9 229.3h0M488.6 220.2h0M484 169.6h0M493.8 201.5h0M495.1 200.2h0M491.7 193.9h0M492.3 202.6h0M495.7 198h0M485.5 200.4h0M493.9 201.5h0M491.1 193.4h0M484.9 196.6h0M489.2 193.7h0M488.6 193.6h0M488.9 193.2h0M486.7 202.1h0M489.5 192.7h0M485.9 195h0M484.6 196h0M484.6 197.3h0M485.2 197.8h0M492.1 202.6h0" stroke="#2898f0" stroke-width="1.2"/><path d="M122.2 36.7h0M99.3 72.4h0M111.7 86.3h0M86 8.7h0M80.3 85.8h0M107.6 25.3h0M65.1 40.2h0M90.5 23.2h0M56.8 42.2h0M138.1 56.3h0M132.8 35.7h0M87.1 73h0M130.3 62.9h0M102.8 74.8h0M121.8 62.4h0M104.6 7.7h0M113.8 30.1h0M114 28.2h0M114.4 28.1h0M118 27.3h0M119.1 27.7h0M120.1 28.8h0M114.1 29.7h0M117.7 27.1h0M114.2 29.3h0M120.3 30.3h0M139.5 27.8h0M140.7 28.8h0M140.1 29.4h0M132.3 59.9h0M135 59.7h0M133.6 64.3h0M131.5 63.4h0M134.1 59.7h0M132.2 64.1h0M135.7 60.4h0M131.1 63.3h0M130.8 61.2h0M135.7 60.8h0M136.2 62.7h0M134.7 59.7h0M329.7 31.5h0M323.6 53.5h0M257.8 69.3h0M301.7 74.8h0M252.9 63.2h0M328.1 64.1h0M282.1 5.9h0M330 60.7h0M293.3 10h0M261.2 29.1h0M303.6 32.3h0M303.2 28.3h0M305.6 27.8h0M307.3 30h0M303.7 32.3h0M302.3 29.2h0M306.5 31.5h0M302.1 31.3h0M302.4 28.8h0M301.7 29.8h0M323.3 26.2h0M324.5 26.7h0M324.5 26.6h0M324.5 25.3h0M324.5 26.5h0M317.7 56.5h0M318.8 58.2h0M315.4 57h0M314.9 57.8h0M315.2 60.2h0M317.7 56.6h0M315 58.9h0M490.9 27.6h0M444.8 47.9h0M501.3 55.6h0M493.4 24.7h0M455.4 25.9h0M485.9 6.8h0M449 37.8h0M476 82.3h0M497.8 49.7h0M443.4 79.2h0M491.5 30.3h0M497.1 32.5h0M491.1 32.9h0M491.9 33.9h0M490.8 31.7h0M496.8 32h0M492 30.2h0M495.8 33.3h0M494.1 29.6h0M493 29.7h0M511.1 36.2h0M513.9 42.9h0M513.5 38.2h0M513.5 38.6h0M515.2 42.1h0M514.1 39.5h0M510.1 37h0M515 40.6h0M510.4 36.4h0M512.3 41.8h0M513.1 38.2h0M511.8 36.8h0M511.6 36.6h0M515 43.3h0M77 215.9h0M118 231.7h0M133.3 233.2h0M138.3 178.3h0M96.5 230.3h0M144.6 196.2h0M66.3 177.5h0M114.6 224.9h0M141.5 193.9h0M77.4 168.1h0M118.7 184.1h0M121.1 180.3h0M115.7 181.6h0M121 179.7h0M120 183.3h0M118.8 183.9h0M115.8 182.4h0M119.6 183.4h0M118.4 184.1h0M121.7 181h0M115.8 180.2h0M121.2 181.7h0M140.1 184.2h0M138.7 183.6h0M134.2 219.2h0M133.9 219.2h0M136 218.3h0M133.1 214.8h0M132.4 218.1h0M134.1 215h0M136.6 217.8h0M135.2 218.9h0M135.7 215.1h0M134.5 219h0M266.5 225h0M327.6 202.6h0M266.6 225.4h0M279.6 232.2h0M250.3 219.8h0M324.2 197.5h0M276.3 240.1h0M252.5 203.9h0M244 189.6h0M257.9 190.3h0M277.9 180.4h0M306.5 181.5h0M305.7 186.8h0M306.7 186.7h0M308 185.3h0M308.1 185.7h0M303.5 185.4h0M304.2 182.5h0M303.3 183h0M307.8 185.7h0M307.4 181.6h0M303.8 185.2h0M304.4 186h0M307.8 181.9h0M322.4 213.9h0M321 215.3h0M322.8 212.7h0M323 213h0M320 211h0M318.5 212.3h0M321.8 211.2h0M428.6 188.8h0M446.9 172.6h0M449.5 223.7h0M451.4 232.2h0M444.4 213.7h0M440.5 231.3h0M465.8 172.2h0M514.6 204.9h0M431.9 198.7h0M450.3 184.8h0M444.1 187.9h0M490.6 188.8h0M490.7 184.3h0M489.5 185.5h0M489.5 187.7h0M489 186.1h0M489.1 186.5h0M489.6 187.9h0M492.7 188.2h0M493.6 186.5h0M489.1 186.6h0M509.3 215h0M508.8 214.4h0M508.4 213.8h0M512.4 212.7h0M509 211.8h0M508.8 211.7h0M508.4 212.5h0" stroke="#6c1cf0" stroke-width="1.2"/><path d="M123.9 77.8h0M100.6 89.3h0M64.5 42.9h0M94.5 23.1h0M95.4 85.9h0M106.4 83h0M137.6 34.6h0M86 73.3h0M92.1 76.4h0M82.9 73.8h0M137.7 33.1h0M116.1 21.4h0M92.5 33.8h0M93.2 33.3h0M91.6 38h0M90.7 37.1h0M94.4 38.6h0M95.7 37.8h0M90.4 36.4h0M91.8 38.5h0M89.9 36.3h0M91.4 38.1h0M126.7 26.8h0M128.1 25.5h0M126.7 24.2h0M88.8 61.7h0M94.5 57.2h0M83.6 58.9h0M88.2 53.3h0M83.1 58.3h0M88.7 61.7h0M85.9 53.3h0M83.9 56.7h0M93.9 59.5h0M89.6 52.5h0M91 62.1h0M84.7 54.7h0M83.2 56.7h0M86.6 61h0M91 61.4h0M62.7 46.5h0M65.5 45.8h0M64.6 46.6h0M65.1 46.5h0M64.5 44.9h0M62.2 46.3h0M62 45.8h0M65.2 44.9h0M65 46.5h0M260.8 25h0M287.1 17.6h0M279.7 23h0M297.9 70.8h0M267.5 17h0M291.8 86.1h0M296.7 76.1h0M330.5 32.7h0M276.7 45.9h0M275.3 40.9h0M276.2 39h0M284.2 42h0M284.9 42.1h0M283.4 45h0M280.1 46.7h0M283.9 39.7h0M284.2 43.9h0M275.3 40.7h0M277.7 46.4h0M275 44.1h0M277.8 37.9h0M274.5 43.1h0M275.3 40h0M281.2 37.7h0M286.3 35.8h0M287.5 34.3h0M289.4 33.8h0M289.2 38.3h0M289.6 38.3h0M291.2 37.8h0M290.4 33.9h0M288.2 38.3h0M290.5 38.3h0M291.3 36.9h0M286.2 36.7h0M291.7 36.6h0M492.4 61.4h0M502.6 27.5h0M501.1 37.8h0M446.9 78.5h0M490.7 64.8h0M447.9 44.9h0M475.4 88.2h0M470.7 5.7h0M466 88.8h0M467.7 74.8h0M507.7 26.4h0M503.6 45.1h0M473.3 24h0M438.8 42.2h0M478.7 83.8h0M434.4 70h0M429.7 39.9h0M434.9 42.9h0M480.7 27.4h0M477.9 33.6h0M483.2 31h0M481.2 34h0M482 33.9h0M483.1 29.4h0M479.6 27h0M479 27.3h0M479.6 27h0M476.5 30.5h0M476.5 30.1h0M477.3 63.1h0M470.9 60.5h0M480.5 57.2h0M473.9 62.8h0M479.7 57.7h0M474.9 55.1h0M479.1 61.5h0M473.1 55.5h0M477 54.9h0M471.1 55.9h0M469.9 59.5h0M469.9 58.1h0M478.6 56.2h0M105.3 243.9h0M111 180.6h0M147.7 196.5h0M112.6 161.1h0M128.8 222.2h0M91.6 162.1h0M59.4 210.2h0M86.5 162.1h0M74.9 192.3h0M125.7 183.6h0M125.4 183h0M125.1 183h0M125.1 182.8h0M127.9 183.8h0M129 181.8h0M127.3 184h0M91.5 213.5h0M89.7 206.8h0M94.4 213.9h0M95.9 208h0M88.1 210.7h0M88 209.8h0M87.9 212.5h0M88.4 207.3h0M92.2 214.2h0M95.9 209.5h0M92.4 206.5h0M92 214h0M93.1 213.6h0M88.7 212.9h0M90.2 213.3h0M92.5 214h0M89.2 207.3h0M109 209h0M108.8 208.8h0M103.9 208.2h0M109.2 208.7h0M109.7 210.3h0M108.5 208.5h0M109.1 211.3h0M105.3 207.9h0M102.9 208.5h0M102.4 210.2h0M108.5 208.3h0M110 210.8h0M102 210h0M104.4 212.5h0M102.5 209.2h0M109.3 211.1h0M112.1 236h0M112.8 235.6h0M113.8 235.8h0M114 237.1h0M249.5 206h0M297.6 171.4h0M254.3 226.9h0M258.8 231h0M270.3 168.4h0M241.9 196.6h0M260.9 204.2h0M309.9 234h0M277 171.4h0M243.3 214.3h0M241.7 216.8h0M301.8 193.8h0M302.8 191.1h0M296.6 191.9h0M298.8 195h0M296.5 191.6h0M298.1 189.9h0M298 189.9h0M296.8 193.4h0M301.7 190.2h0M300 189.6h0M300 195h0M302.9 193.1h0M299.7 189.2h0M293.3 210.1h0M289.7 209.8h0M290.5 209.5h0M290.8 216.8h0M288.5 214.8h0M296.5 212.6h0M290.2 216h0M292.3 209.4h0M291.3 216.3h0M287.4 212.8h0M296 212.3h0M296.4 214.3h0M294.6 209.8h0M287.8 213.7h0M296.6 212.9h0M287.4 213.3h0M508.2 230.7h0M442.7 209.3h0M447.1 215.7h0M483.7 183h0M445.4 171.8h0M510.9 228.1h0M484.8 235.6h0M481.9 179.9h0M477.1 186.6h0M480.5 190.7h0M481.2 186.2h0M476.1 189.5h0M482 189.3h0M482.4 189.3h0M476.4 188.5h0M481.4 190h0M475.9 188.3h0M482 186.3h0M478.2 185.5h0M482.5 188.6h0M482.2 189.4h0M481.4 190.2h0M480.4 212.6h0M471.5 216.3h0M474.6 220.1h0M481.3 217h0M474.4 211.8h0M481.4 218.6h0M473 212.7h0M479.4 212.4h0M472 213.7h0M480.5 218h0M476 211.6h0M479.9 218.4h0M473.6 218.8h0M471.6 216.2h0M471.5 218h0M481.2 217.2h0M471.8 213.3h0M471.6 213.8h0" stroke="#94f29c" stroke-width="1.2"/><path d="M71 23.2h0M78.5 79h0M118.8 67.5h0M125.7 27.5h0M129.3 13.9h0M74.3 48.9h0M66.8 44.2h0M97.3 86.1h0M71.6 71.6h0M73 79.2h0M74.5 36.6h0M110.6 11h0M137.1 48.1h0M131.7 26.5h0M57.1 60.8h0M63.5 56.1h0M104.1 19.1h0M109.8 77.6h0M81.4 83.6h0M89.8 24.8h0M73.8 50.2h0M90.7 9.8h0M91.3 4.3h0M66.3 73.9h0M71.7 33.5h0M100.1 84.1h0M100.4 71.7h0M119.6 28.3h0M106.7 79.9h0M86.2 14h0M91.4 84.2h0M80.9 76.5h0M89.7 73.7h0M80.2 71h0M80.8 71.8h0M88.1 80.4h0M81.6 74.2h0M90.2 80.3h0M79.5 79.9h0M86 85.5h0M89.7 75.8h0M83.3 80.4h0M70.8 76.3h0M81.5 80.6h0M87.7 75.6h0M75 76.2h0M71.5 78.8h0M88.2 76.3h0M87 71.8h0M87 85.1h0M87.7 81.8h0M80.5 73.9h0M75.7 73.1h0M85.9 75.3h0M88.9 83h0M80.4 74h0M76.1 73.5h0M87.2 80.2h0M86.3 77h0M80.3 72.6h0M77 72.8h0M77.5 82.3h0M74.7 78h0M65.7 41.5h0M71.1 39.4h0M71.5 42.2h0M70.8 37.1h0M68.3 39.6h0M74.1 41h0M71.4 40.7h0M71.9 40h0M74.4 44.2h0M66.4 38.4h0M75.1 44.4h0M69.8 39.2h0M67.2 41.3h0M68.2 42.7h0M94.3 12.4h0M91.1 12.7h0M92.6 13.1h0M94.6 11.6h0M91.9 10.7h0M95.6 44.5h0M112.2 51.7h0M94.7 48.6h0M98.4 54h0M108.7 41.6h0M93.2 47.2h0M95.2 44.4h0M96 42h0M113 45.1h0M98 40.8h0M112.6 45.3h0M102.9 56.6h0M111.4 45.9h0M105.5 40.2h0M95.5 51.2h0M111 44.9h0M109.6 43.2h0M108.6 55.8h0M113.2 45.6h0M106.8 41.3h0M111.8 51.4h0M112.9 44.8h0M105.8 40.3h0M101.7 40.7h0M110.4 54.4h0M111.6 53.7h0M96.2 43.3h0M95.5 43.8h0M80.7 40.1h0M83.9 49.6h0M78.5 47.9h0M78.9 47.3h0M79.1 48.4h0M85.9 41.4h0M85.2 40.3h0M86.2 49.5h0M78 43.9h0M80.7 40.5h0M79.7 48.9h0M88.3 44.8h0M87.2 47.3h0M87.6 47.4h0M87.5 42.9h0M88.2 42.7h0M85.3 40.2h0M78.3 41.8h0M77.8 44h0M78.1 44.7h0M77.6 44.5h0M77.3 43.6h0M87.6 41.6h0M124.4 33.2h0M122.8 35.2h0M127.3 31.8h0M125.6 32.5h0M125.7 38.2h0M123.5 34.3h0M123.6 36.8h0M129.7 33.4h0M128 37.8h0M128.5 32.4h0M130.1 34h0M127.6 32.1h0M124 32.8h0M123.3 35.1h0M84.4 65h0M78.7 68.2h0M78.8 65.3h0M85.2 66.4h0M78.2 66.4h0M85.2 65.9h0M80.6 68.9h0M84.9 64.9h0M84.3 65h0M84.5 65.2h0M81.7 69.3h0M81.9 63.7h0M92.5 71.3h0M100 70.9h0M95.8 66.5h0M93.6 67.4h0M99.9 71h0M93.7 67.2h0M91.8 69.7h0M98.3 66.7h0M98.7 73h0M96.2 73.7h0M93.5 73.8h0M97.6 67.3h0M98.6 67.5h0M99.9 71.3h0M101.1 64.4h0M99.7 62.7h0M104.1 63.8h0M101.9 65h0M104.8 60.1h0M102.6 64.8h0M102.6 59.5h0M102.4 65.1h0M105 62.3h0M102.6 64.8h0M101.9 59.5h0M100.2 63.9h0M111.7 65h0M109.6 62.2h0M112.5 61.1h0M113.5 63.8h0M111.2 60.9h0M109.4 63h0M109.3 62.1h0M111.4 65h0M111.8 64.7h0M108.7 73.8h0M110.9 72.9h0M108 74.4h0M111 73.2h0M110.9 69.8h0M110.7 69.5h0M110.3 68.4h0M104.7 69.5h0M104.4 72.6h0M108.6 74h0M106.6 68.3h0M109.6 74h0M319.4 47.2h0M250.2 72.1h0M286.5 13.1h0M315.2 60.5h0M306.7 26.4h0M304.8 9.9h0M318.1 77.4h0M257.9 22.1h0M313.6 44.7h0M296.1 81.5h0M327 40.9h0M327.8 47.7h0M318.6 65.8h0M263.3 31.7h0M255.5 63.6h0M262.7 48.6h0M311 13.7h0M246.1 41.7h0M255.8 34h0M255.2 28.8h0M288.1 17.5h0M258.1 28.8h0M256.3 67.3h0M308.7 22.7h0M317.8 17.5h0M324.8 41.7h0M260 46.2h0M292.9 80.4h0M300 5.3h0M312.1 29.7h0M265.7 80.9h0M264.7 82.9h0M262.8 80.4h0M266.8 84.6h0M266.5 79.3h0M267 77.1h0M272.8 80.1h0M275.6 82.4h0M266.2 82.1h0M268.9 76.4h0M268.8 82.3h0M267.6 77.7h0M260.8 82.1h0M269.6 76.2h0M265.1 85h0M268 80.9h0M266.7 78.3h0M264.3 82.5h0M274.6 82.5h0M261 83.4h0M267.4 76.1h0M275.3 80.1h0M269.5 76.4h0M267.7 76.1h0M262 82.2h0M313.8 26.3h0M310.9 27.6h0M315 28.6h0M310.8 25.4h0M313.5 30.1h0M317.3 28.2h0M313.4 26.6h0M266.6 48.9h0M269.1 41h0M262.4 40.8h0M270.9 42.4h0M265.9 39.8h0M260.1 45h0M270.2 44.5h0M268.1 39.5h0M259.9 44.1h0M270.5 44.4h0M262.3 40.4h0M270.4 45.5h0M270.1 44.1h0M260.5 45h0M262.9 47.5h0M265.6 48.3h0M265.1 48.2h0M269.3 46.8h0M260.3 43.9h0M266.2 48.6h0M269 52.8h0M268.3 49.8h0M268.4 55.6h0M274.7 51.5h0M269.7 58.4h0M269.4 53.7h0M268.2 52.2h0M273.8 50.9h0M285.3 8.2h0M286.8 10.5h0M287.2 10.5h0M284.9 8.5h0M284.2 9.4h0M286.6 8.3h0M285.8 11.2h0M294.4 46.2h0M297.4 50.9h0M296.9 47.8h0M298 50.1h0M294.5 58.7h0M295.5 46.5h0M289.9 46h0M290.7 59.2h0M286 47.1h0M296 47.3h0M284.1 47.6h0M287.4 46.4h0M283.9 47.5h0M283.4 55.3h0M297.8 52.5h0M283.6 51.8h0M286.4 58.6h0M290.9 45.2h0M292.8 57.9h0M291 45.5h0M283.6 55.1h0M296.7 49.3h0M288.1 45.8h0M291.7 58.3h0M284.4 47.7h0M298.5 49.4h0M282.8 53.4h0M288.7 58h0M282.7 49.9h0M290.5 58.6h0M295.6 47.6h0M297.8 49.5h0M284 50.3h0M287.5 58.7h0M280.2 63.2h0M279.7 63.3h0M281.2 63h0M276.3 61.6h0M284.6 59.7h0M281.4 57.8h0M277.8 63.1h0M283.6 61.3h0M280.9 63.1h0M283.6 60.5h0M283.4 61.8h0M293.6 64.2h0M292 68.1h0M293.8 67.3h0M293.3 67.4h0M291.8 63.5h0M289 63.7h0M287.8 64.2h0M295.1 66.2h0M286.9 66.4h0M292.9 63.7h0M293.8 64.2h0M295 66.1h0M292.9 67.6h0M293.1 64h0M290.7 67.8h0M281.1 74.3h0M286.7 70.7h0M286.5 75.6h0M284.9 75.8h0M280.4 72.5h0M285.3 75.5h0M285.8 70.5h0M286.6 70.5h0M288 74.5h0M280.4 71.5h0M282.5 70.9h0M288 71.1h0M262.5 83.8h0M271.4 86.5h0M272.5 83.8h0M265.5 82.1h0M276 85.2h0M282.2 84.9h0M277.5 86.4h0M269.2 82.1h0M267.2 81h0M281.6 81h0M266.7 87.2h0M269.3 79.6h0M269.9 79.9h0M267.1 86.6h0M278.3 81.8h0M277.8 81.3h0M273 80.1h0M266.3 85h0M278.8 84.9h0M269.6 87.7h0M274.6 79.6h0M272.4 86.9h0M272.5 79.6h0M265 84.3h0M278.8 80.9h0M280.3 83.3h0M279.3 84.8h0M272.6 82.6h0M275 83.2h0M269.4 81.7h0M446.4 55.5h0M489.8 25.8h0M490.3 87.5h0M459 65.9h0M494.8 81.2h0M466.9 88.5h0M519.7 57.4h0M431.8 28.2h0M461.9 74.8h0M445.2 68.3h0M510.5 40.8h0M466 75.8h0M471.8 70.6h0M498.2 51.8h0M516.9 62.1h0M455.6 15.3h0M513.8 61.8h0M453.4 77.3h0M507.3 20.1h0M495.8 24.5h0M445.2 55.8h0M444.1 21h0M461.9 69.2h0M492.6 6.9h0M450.1 39.2h0M446 26.8h0M506.7 67.7h0M503.2 15.1h0M504.2 25.5h0M491.9 28.5h0M495.1 27.4h0M504.4 21.8h0M501.8 20h0M497.7 15.2h0M493.7 17h0M506.6 22.3h0M487.5 22.8h0M496.4 17h0M502.1 26.3h0M503.5 26.9h0M485.8 23.2h0M497.8 21.9h0M485.8 22.6h0M472.9 49.8h0M464.1 45.6h0M472.3 35.3h0M463.6 45h0M465.9 36.8h0M479.9 45.3h0M465.8 37.7h0M479.5 39.9h0M462.3 40.8h0M468.1 48.8h0M479.2 46.9h0M472.8 50.6h0M467.9 35.8h0M475 50.5h0M464.9 48.2h0M464.9 38h0M480.3 42.5h0M462 41.2h0M475.2 35.9h0M478.7 45.3h0M479.5 44.4h0M469.9 34.1h0M467.5 35.6h0M464.3 36.8h0M463.5 41.3h0M477.2 47.1h0M491.9 16.6h0M492.2 15.9h0M487.3 16h0M453.6 60.6h0M464.1 52h0M451.6 52.1h0M450.1 57.7h0M461.6 59.8h0M457.5 49.9h0M464.4 57.9h0M464.1 53.5h0M455.6 62h0M454.7 49.9h0M451.5 53.6h0M460.4 50h0M464.7 53.8h0M461.1 61h0M464.6 57.9h0M453 60.1h0M463.8 52.4h0M452.4 59.1h0M451.3 51.3h0M453 50.6h0M461.7 49.9h0M453.1 60.2h0M463 59.9h0M449.7 55.6h0M459.6 49.4h0M460.5 49.3h0M458.8 49.4h0M489.4 51.9h0M491.4 55.7h0M484.4 54.8h0M490.9 54h0M487.3 52.2h0M484.3 55h0M487.8 57.9h0M488.6 52.1h0M486.2 52.4h0M485.5 52.4h0M490.7 52.8h0M484.3 56.6h0M483.8 56h0M483.7 65.6h0M486.2 62.1h0M482.6 62.4h0M486.8 62.6h0M482.5 65.1h0M482.8 65.2h0M485.8 61.7h0M481.6 69.1h0M482.8 70.6h0M483 74.4h0M483.3 71.1h0M483.3 72.9h0M482.7 70.1h0M480.6 75.4h0M482.6 70.5h0M483.5 72.3h0M480.5 69.1h0M477.1 69.9h0M479.1 75.3h0M453.2 69.1h0M458.5 65h0M457.7 64.7h0M455 65h0M453 67.4h0M460.2 67.7h0M457.5 64.5h0M459.6 69.8h0M453.9 70.4h0M454.8 71h0M453.5 66.7h0M468.4 64.6h0M469.9 65.5h0M463.5 66.4h0M471.6 67.4h0M465.1 65h0M470.6 65.9h0M468.8 71.2h0M468.1 64.3h0M470.9 70h0M470 65.3h0M471.3 67.2h0M471.5 68h0M464.8 65.2h0M470.1 65.1h0M137.9 225.5h0M137.9 193.9h0M110 239.8h0M115.5 183.2h0M69.2 193.9h0M124.9 185.4h0M95.7 235.8h0M82.5 224.6h0M114.1 223.6h0M82 219.7h0M126.8 194.6h0M118.8 184h0M135.9 221.4h0M97.7 244h0M110 234.3h0M114.8 221.9h0M121.8 232.5h0M73.3 182.5h0M126 200h0M117.6 165.6h0M121.5 178h0M109.6 165.8h0M104.4 171.2h0M86.3 175.2h0M73.6 211.7h0M75.4 229h0M135.9 199.6h0M89.9 237.7h0M91.4 163.1h0M78 181.3h0M79.8 189.4h0M75.3 188.5h0M78.9 186.3h0M76.1 182.6h0M77.6 190.9h0M79.3 186.8h0M73.8 186.1h0M77.3 181.5h0M96 234.1h0M97.7 226.7h0M83.7 228.7h0M78.5 229.8h0M88.9 221.6h0M96.7 226.5h0M82.4 235.3h0M94.7 223.2h0M77.9 227.6h0M82.3 234.8h0M92.3 225.3h0M82.9 223.8h0M81.8 233.7h0M93.3 233.3h0M79.7 225.6h0M79.7 226h0M97.4 233.4h0M97 229.1h0M88.8 236.7h0M94.1 235h0M93 232.9h0M83.3 237.3h0M99.2 231.1h0M95.2 238.5h0M93.3 231.9h0M99.4 233.3h0M97.6 238.9h0M99.9 231.3h0M98.4 230.7h0M100.4 232.7h0M86.1 230.1h0M97.7 239.6h0M92.3 227.5h0M85.7 231.7h0M98.2 231.7h0M87.7 239.6h0M99.2 230.7h0M87.9 229.7h0M86.8 239h0M89.4 236h0M88.9 229.8h0M96.2 230.4h0M86.5 236.2h0M87.8 235.5h0M79.3 232.9h0M81.8 237.9h0M82 192.8h0M81 194h0M87.3 199.1h0M80.1 201.3h0M78.9 195.9h0M78.7 198.8h0M87.9 198h0M79.8 194.7h0M85.9 202.8h0M82.7 193.2h0M85 202.3h0M81.8 193.4h0M84.8 202.5h0M84.4 203.5h0M79 200.9h0M87 200.5h0M83.9 203.4h0M78.5 198.7h0M87.6 199.6h0M85.8 202.4h0M87.6 196.3h0M84.7 193h0M108.9 195.1h0M107.3 202h0M108 194.1h0M93.3 195h0M96.7 190.8h0M104.6 203.6h0M104.7 203h0M94.6 200.7h0M97.2 202.5h0M108.8 195.9h0M108.3 199.5h0M102.5 203.5h0M109.1 193.1h0M108.9 196h0M94.2 194h0M94.4 195.2h0M108.7 199.1h0M100.2 203.2h0M106.8 192h0M108 201.6h0M106.1 191.6h0M106.7 191.5h0M110.2 196.3h0M103.7 190h0M93.9 200.7h0M109.4 200.4h0M108.4 193.7h0M101.7 203.7h0M94.9 199.1h0M94.6 198.4h0M101.3 190.3h0M100.2 203.8h0M100.3 190.1h0M93.7 196h0M104.3 166.2h0M105.4 166.1h0M103.5 166.6h0M102.9 167h0M104.9 169.4h0M128.2 188.6h0M123.3 191.5h0M125.9 189h0M125.4 188.6h0M122.9 192.5h0M125.6 188.7h0M130.5 190.1h0M124.1 194.1h0M123.9 190.3h0M128.9 194.8h0M126.7 194.9h0M130.4 190.1h0M128.2 189.1h0M127.3 194.7h0M123.3 192.7h0M130.2 189.5h0M126.2 194.5h0M67.8 211.1h0M66.2 210.8h0M71.5 205.4h0M72.6 208.2h0M64.6 208h0M72.3 208.5h0M66.8 205.1h0M67.6 204.9h0M67.7 211.2h0M71.4 210.1h0M66.1 211.2h0M72 208.8h0M72.1 206.6h0M69.4 205h0M66.9 204.9h0M72 207.8h0M68.4 204.8h0M92.1 220.6h0M94.4 224.6h0M98.7 219.8h0M94.2 218.8h0M98.3 223.3h0M94.1 218.2h0M92.6 223.5h0M95.7 218.2h0M93.4 223.4h0M97.9 223.5h0M98.6 222.7h0M96.8 218.4h0M94.3 224.5h0M99 219.9h0M113.8 216.4h0M115.5 212.3h0M117.2 216.3h0M118.3 214.8h0M114.7 212.4h0M117.8 213.8h0M117.7 215.1h0M115.7 212.2h0M113.5 212.5h0M112.5 213.3h0M107 222.7h0M109.8 218h0M109.7 220.6h0M106.5 222.2h0M104.9 217.5h0M105.6 216.9h0M106.4 222.4h0M103.9 218.8h0M108.5 217.3h0M109.7 219.7h0M105.3 217h0M107.7 222.1h0M104.3 229.5h0M109.6 228.4h0M101.6 227.1h0M108.3 225h0M109.7 228.7h0M107.6 229.8h0M107.3 225.2h0M110.1 226.4h0M109.6 228.2h0M108.8 225.5h0M102 227.9h0M105.6 224.6h0M102.8 225.1h0M105.3 229.9h0M280.5 181.3h0M326 207.6h0M244.6 214.9h0M270.1 179h0M291.8 237.1h0M265.3 174.2h0M316 183.7h0M328.2 192.8h0M295.3 224.1h0M278.2 173.7h0M252.4 172.8h0M322.8 222h0M292.4 170.1h0M283.5 178.9h0M298.4 169.9h0M252.4 179.5h0M307.5 189.6h0M256.7 198.6h0M316.1 209.2h0M333.9 210.1h0M301.2 230.1h0M334.5 202.6h0M271.4 227h0M312.4 203.5h0M309.7 177.3h0M303.6 237.3h0M284.7 238.7h0M302.6 163.3h0M276.8 228.9h0M301.2 222.4h0M302.6 179.5h0M274.9 228.3h0M270.9 232.8h0M286.4 225.8h0M281.6 223h0M284.7 222.8h0M283.7 224.4h0M281.6 223.4h0M285.5 229.1h0M282.5 234.9h0M281.4 228.1h0M278.8 228.6h0M279.8 224.7h0M274.4 224.9h0M289.9 226.1h0M283.9 230.7h0M277.4 231.3h0M272.7 228.7h0M280.9 229.5h0M285.6 233.1h0M280.8 227.6h0M272.8 237.2h0M267.7 236.8h0M265.5 234.2h0M270.2 231.5h0M280.8 235.6h0M287 234.8h0M267.3 235.8h0M276.3 226.3h0M276.4 232.9h0M277.8 227.8h0M280 237.6h0M276.5 230.3h0M278.4 238h0M279.3 237.6h0M275.2 232.1h0M270.5 231.1h0M271.7 228.8h0M272.5 233.7h0M270.6 231.3h0M276.2 234.4h0M275.6 237.7h0M279.4 230.8h0M277.7 237.2h0M285.6 231.9h0M283.9 230.8h0M275.1 234.8h0M262.7 197.4h0M262.4 197.3h0M266.1 196.9h0M265.8 194.5h0M264.6 197.2h0M266.1 195.2h0M284.2 164.6h0M285.8 166.9h0M286.1 165.6h0M285.5 164.8h0M284.6 164.4h0M265.9 204.3h0M265 204.2h0M272.8 200.1h0M265 202.6h0M264.7 203.5h0M270.8 203.7h0M263 201.6h0M270.3 203.9h0M267.8 193h0M270.8 194.8h0M270.9 202.8h0M271.2 194.8h0M267.6 204.5h0M266.6 193.8h0M263.1 196.4h0M269 193.8h0M262.9 199.1h0M266.4 193.7h0M265.6 204.1h0M264.1 196.5h0M266.3 204.9h0M262.8 200.9h0M278.3 198.1h0M289.3 193.2h0M278.9 203.2h0M293.7 198h0M292.4 204.4h0M288.6 208.6h0M280.5 194.3h0M292 206.2h0M287.9 192.3h0M286.9 192.3h0M279.6 206.4h0M277.9 198.2h0M279.2 206.7h0M292.4 195.4h0M277.7 203.7h0M289.9 193.9h0M278.3 195.6h0M286.1 192.7h0M292.6 201.9h0M292.4 205h0M290.7 195h0M293.4 198.5h0M284.6 208.9h0M293.1 204.5h0M254.9 206.1h0M253.7 212h0M256.8 208.3h0M257.2 209.8h0M248.6 207.5h0M250.1 206.3h0M254.5 206.5h0M252 212h0M256.3 208.3h0M249.2 206.7h0M256.2 207.8h0M253.7 212.3h0M274.5 212.7h0M276.5 210.1h0M275.2 207.8h0M273.7 212.6h0M273.7 212.3h0M276.6 208.7h0M272.3 210.3h0M273.8 208h0M285.4 215.8h0M281.7 213.1h0M285.2 216.5h0M284.4 215h0M282.3 219.4h0M284 218.1h0M277.5 218.2h0M283.1 213.5h0M283.4 218.7h0M276.8 216.4h0M282.4 219.6h0M281.4 212.9h0M279.3 219.5h0M310.7 205.2h0M313.9 210.4h0M309.7 205.4h0M313.4 210.9h0M312.8 211.6h0M314.3 209.9h0M313.3 207.1h0M306 207.7h0M306.1 209.8h0M306.6 211.5h0M305.8 208.9h0M308.3 206.2h0M311.7 212.2h0M306.2 208.5h0M308 211.8h0M314.1 210.7h0M306.5 207.1h0M305.9 209.5h0M312.9 207h0M305.9 207.8h0M290.4 220.4h0M293.5 223.2h0M291.9 223.1h0M297.9 221.2h0M295 219.6h0M291 222.7h0M296.9 220.2h0M291.1 220.3h0M449.3 197.8h0M428.6 209.8h0M434.3 225.8h0M488.7 232h0M438.8 178.7h0M433.7 219.5h0M504.8 176.6h0M490.1 181.7h0M491.4 236.9h0M444.8 193.3h0M461.1 228.6h0M460.3 225.3h0M505.3 185.9h0M451.2 238.9h0M490.5 170.8h0M442.6 189.4h0M478.6 237h0M483.3 225.2h0M458.5 237.8h0M486.6 169.2h0M484.6 176.8h0M509.9 197.1h0M444.5 169.7h0M505.8 214.2h0M506 184h0M470.6 240.3h0M438.5 184.1h0M435.3 173.7h0M439.2 184.9h0M436.3 170.2h0M431.2 182h0M432.4 182.4h0M464.4 235.7h0M475.3 234.8h0M464.8 239.7h0M457.4 231.3h0M456.6 237.1h0M455 232.6h0M474.2 232.3h0M461 236.5h0M461.8 231.9h0M464.1 237.8h0M462.5 228.9h0M473.6 228.7h0M467.5 226.7h0M470.5 232.4h0M453.8 231.6h0M453.7 233.6h0M456.3 230.7h0M456.5 231.2h0M470.4 228.1h0M473.8 233.4h0M457.3 235.9h0M467.4 236.5h0M463.1 232.2h0M461.7 230.9h0M460.1 236.2h0M471.3 229h0M465.8 238.7h0M462.9 228.4h0M466.7 229.9h0M468.2 228.2h0M500.1 175.3h0M492.5 176.7h0M504.5 174.3h0M494.8 174.7h0M505.3 181.4h0M505.2 180.1h0M498.3 179h0M496 174.9h0M472.8 169.3h0M474.8 168.1h0M475.5 168.3h0M474.4 168.1h0M473.1 171.2h0M475.5 168.7h0M473.9 171.7h0M474.8 168.3h0M472.9 169.6h0M472.7 192.9h0M474.6 207.2h0M466.4 205.9h0M472.6 193.5h0M465.5 197.8h0M470.6 192h0M471.4 193.6h0M463.8 201.6h0M478.1 205.9h0M466.2 204.2h0M477.9 205.1h0M480.1 199.2h0M467.3 205.2h0M468.2 207.5h0M466.5 196.2h0M479.5 200.7h0M465.7 196.5h0M464.9 202.6h0M465 197.5h0M479.5 201.9h0M479.1 195.8h0M465.3 203.6h0M463.6 201.4h0M479.5 202.4h0M474.1 193.6h0M479.3 195.8h0M474 193.5h0M471.2 192.5h0M479.9 197.2h0M477.7 195.8h0M480.3 203.8h0M437 205.9h0M443.8 209.5h0M441.3 205.4h0M443.5 207.5h0M443.6 210h0M439.4 211.9h0M439.5 205.3h0M440.6 205.2h0M436.3 210.5h0M437.1 211.8h0M440.4 205.4h0M442.5 205.8h0M441.4 205.2h0M443.1 208.2h0M435.9 207.2h0M442.6 206.7h0M435 207.7h0M444 208.3h0M456.8 198.5h0M453.5 210.8h0M455 198.3h0M450.5 207.4h0M459 210.5h0M455 210.3h0M462.2 208.1h0M455.3 211.7h0M451.9 210.1h0M456.9 199.7h0M450.6 209.6h0M459.5 210.7h0M449.6 204.8h0M457 198.6h0M451.6 210.4h0M456.7 199h0M449.8 206.9h0M462.7 204.7h0M453.7 199.4h0M450.1 203.1h0M461.9 205h0M450.4 207.9h0M457.8 198h0M452.6 200h0M461 198.4h0M459 201.5h0M459.1 198.2h0M460.3 217.9h0M463.2 214.6h0M467.3 217.7h0M465.2 214.5h0M465.3 219.6h0M465.8 219.1h0M461.5 215h0M460.6 216.1h0M466.8 218.3h0M463.2 220.1h0M460.7 218.6h0M462.6 219.9h0M465.8 214.5h0M462.2 219.8h0M466.2 219h0M465.9 219.1h0M483.6 212.1h0M487.2 212.1h0M483.8 208.6h0M487.8 211.6h0M485.2 212.9h0M488.4 209.9h0M483.7 212.2h0M482.9 211.5h0M483.3 212.2h0M484.2 212.5h0M486.4 208.5h0M491.7 216h0M491.8 211.3h0M490.4 213.3h0M493.2 211h0M493.2 210.9h0M497.2 214.7h0M490.4 213.7h0M495.7 216.2h0M493.5 216.4h0M497.2 213.2h0M491.3 212.4h0M493.3 216.8h0M496.5 216h0M492.5 216.4h0M496.3 215.7h0M475 223.2h0M475.2 224.5h0M482.9 221.7h0M484.6 223.9h0M481 226h0M483.8 224.5h0M483.1 225.3h0M477.5 220.7h0M467.5 229.3h0M469.1 223.6h0M466.1 228.5h0M465.8 225.9h0M471 226.9h0M470.7 224.3h0M470.4 224h0M471.4 227.7h0M471.5 226.2h0M470.7 228.7h0M471.3 225.7h0M467.3 229.2h0M466.3 224.8h0" stroke="#2e8cf4" stroke-width="1.6"/><path d="M74.3 64.5h0M77.2 15.1h0M136.7 50.8h0M85.8 20.5h0M145.5 54h0M60.2 58.5h0M131.4 62.8h0M64.5 24.8h0M100.4 18.7h0M101.8 18.9h0M100.4 18.7h0M100.8 18.9h0M99.6 16.2h0M101.4 19.1h0M103 16.3h0M99.3 16.9h0M65.9 64h0M66.5 64.1h0M66.3 61.1h0M127.1 60.5h0M123.8 62.3h0M122.8 62.1h0M124.5 59.3h0M122.7 59.3h0M125.3 59.2h0M122.2 59.7h0M124 59h0M276.8 23.9h0M247.1 29.3h0M257.7 44.8h0M261.5 72h0M261.5 25.9h0M248.6 67.9h0M243.7 60.9h0M300.6 24h0M322.1 37.2h0M291.5 15.3h0M290.1 14.7h0M291.3 15.6h0M291.7 16.1h0M290.3 14.8h0M289.7 17.9h0M287.4 15.4h0M307.8 61.6h0M316.3 62.3h0M307 62.9h0M311.4 60.3h0M309.3 60.7h0M315.6 64h0M308.1 61.7h0M308.2 61.3h0M316 62.3h0M315.7 61.8h0M312.8 60.6h0M309 64.7h0M311.6 60.6h0M309 61.1h0M266.1 60.2h0M263.5 62.5h0M264.1 59.8h0M266.3 60.8h0M265.6 60h0M262.9 61.7h0M263.4 60.3h0M263.4 62.2h0M452.1 14.1h0M511.2 34.9h0M474.7 75.9h0M487.7 69.1h0M461.4 18.2h0M505.8 54.4h0M508.9 74.2h0M453.9 80.1h0M465.4 19.1h0M468 20.3h0M468.8 19.4h0M489.2 74.6h0M490.7 79.8h0M494.8 76.6h0M487.6 76h0M493.6 74.2h0M487.8 77h0M494.8 76.1h0M494.2 78.1h0M494.1 78.8h0M488 78.1h0M489.7 79.7h0M492.4 73.6h0M494.2 78.1h0M488.9 74.2h0M488.2 76.7h0M445.2 64h0M445.4 64.3h0M448.4 62.4h0M449 63.4h0M445.7 62.1h0M446.8 64.9h0M446 64.5h0M63.1 181.6h0M112.5 161.1h0M137.2 229.4h0M66.6 188h0M122.1 169.2h0M117.6 170.6h0M141.1 204.6h0M77 169.7h0M101.5 245h0M69 191h0M122.3 230.2h0M98.6 173.4h0M97.7 172.5h0M100.5 171.6h0M100.8 171.9h0M97.4 171.8h0M99.8 170.4h0M74.1 218.9h0M73.1 221.5h0M73.6 218.8h0M72.7 221.1h0M74.8 219.1h0M124.1 215.7h0M124.4 219.7h0M124.3 215.6h0M122.9 217.6h0M126.4 219.3h0M123.2 218.9h0M126.5 219.3h0M126.8 219.2h0M271.2 176.6h0M300 167.3h0M316.4 220.1h0M305.3 235.6h0M251.4 225.3h0M283.7 171.2h0M260.6 183.7h0M301.4 183.4h0M303.9 234.2h0M288.3 170.3h0M288.5 171.7h0M293 172h0M288.5 171.5h0M260.6 219.3h0M263 217.6h0M263.2 217.4h0M264.6 219h0M262.8 217.7h0M262.6 217.6h0M261.3 217.7h0M264.9 219.5h0M263.4 217.8h0M262 220.4h0M311 217.1h0M310.2 217.8h0M310.6 215.4h0M307.3 218.6h0M303.8 216.8h0M311.7 215.9h0M305.4 218.5h0M311.2 217.3h0M311.1 216.3h0M307.2 214.5h0M304.2 215.5h0M303.8 216.4h0M303.8 216.8h0M311.1 217.6h0M307.7 214.3h0M467.3 230.8h0M436.5 224.2h0M455.5 168.6h0M440.3 181.9h0M502.2 223.5h0M455.6 170.6h0M473.5 243.4h0M481.2 164.3h0M513 183.6h0M441.3 196.2h0M476.4 178h0M447 201.2h0M497.8 178.6h0M468.3 170.2h0M467.2 169.7h0M468.3 170.6h0M468.6 171.1h0M465.1 170.3h0M467.3 172.9h0M464.9 170.1h0M488.6 233h0M491.3 231.6h0M488.1 233.2h0M486.7 229h0M486.5 231.6h0M491.2 228.9h0M488.8 233.3h0M490.9 228.8h0M453.1 225.3h0M454.8 227.1h0M452.3 225.5h0M454.6 225.7h0M450.9 226.7h0M454.9 226.8h0M455.1 226.8h0" stroke="#38d0d8" stroke-width="1.2"/><path d="M129.2 30h0M120.3 85.5h0M97.4 79.2h0M127.3 71.8h0M142.2 40.3h0M109.8 71.1h0M61 38.3h0M65.7 65.5h0M135.2 31.8h0M63.4 37.1h0M61 46.7h0M59.9 48.1h0M63.7 32.4h0M63.6 37.5h0M60.1 47.1h0M102.3 85.6h0M101.4 80.8h0M110 86.8h0M110.1 81.8h0M100.7 81h0M103.8 81.5h0M100.8 82.7h0M104.3 83.3h0M131.2 71.7h0M133.1 67.8h0M131.3 70.7h0M132.3 68h0M131.8 70.4h0M134.2 69h0M133.5 69.8h0M130.7 69.8h0M103.3 17.4h0M102.3 18.8h0M101.8 18.9h0M102 18.7h0M99.7 18.1h0M101.6 19.1h0M65.1 63.1h0M66.3 61.2h0M66.6 64.2h0M68.6 63.5h0M65.4 63.1h0M68.2 63.9h0M68.6 61.9h0M66.5 64.3h0M65.1 62.1h0M68.8 62.5h0M127.1 60.6h0M124.9 62.3h0M124.4 62.3h0M125.9 62h0M123.1 61.9h0M126.8 61.3h0M121.9 61.4h0M256.5 15.9h0M275.3 87.6h0M297.4 68.8h0M261.1 51.6h0M247.8 44.1h0M283.9 15.9h0M292.8 79.9h0M251.5 55.9h0M313.4 25.8h0M251.5 38.8h0M250.4 43.2h0M252.5 38.2h0M252.1 43.2h0M247.6 39.6h0M247.6 44.8h0M253.9 39.5h0M249.7 38.5h0M249.1 41.9h0M251.9 41.1h0M246.7 41.8h0M247.2 38.3h0M299.7 77.5h0M298.8 79.1h0M299 79.3h0M295.7 80h0M298.6 77.8h0M300.1 78.9h0M300.3 81.4h0M296 80.6h0M319 68.8h0M316.7 66.1h0M316.2 70.3h0M316.7 68.2h0M313.6 71.2h0M287.7 17.4h0M288.5 18h0M291.4 16.8h0M291.7 16.6h0M291.6 15.5h0M291.2 17.7h0M291.4 15h0M291.1 17.3h0M313.7 64.8h0M314.5 64.5h0M310.1 60.9h0M309.7 64.3h0M311.5 60.7h0M315.4 61.5h0M306.9 62.7h0M311.2 64.9h0M307.6 63.7h0M311.4 64.9h0M309.9 64.5h0M263.6 62.2h0M264.1 62.7h0M264.9 62.7h0M265.6 62.4h0M433.4 28.3h0M494.6 23.3h0M497.9 25.7h0M466.7 5.7h0M512.6 53.8h0M459.8 76.2h0M441 44.6h0M512.2 29.9h0M434.3 70h0M431.8 44.9h0M432 41.7h0M439 40.7h0M472.9 80.3h0M465.4 82.3h0M461.9 86.6h0M469.5 80.2h0M471 85.8h0M475.4 83.9h0M468.7 88.7h0M462.6 84.4h0M463.6 80.5h0M485.2 84.5h0M486.3 83.9h0M489.7 82.5h0M488 86.1h0M485.3 87.2h0M486.2 86.7h0M485.1 84.7h0M490.6 87.3h0M465.4 19.2h0M467.2 20.5h0M467.8 17h0M467.3 16.9h0M466.1 17.5h0M468.6 17.6h0M465.6 18.4h0M467.3 17.2h0M468 20.4h0M469 18.3h0M488.3 78.8h0M487.6 77.5h0M491.3 73.8h0M494.2 75.2h0M487.5 77.2h0M491.6 79.9h0M493.1 79.9h0M488.1 77.4h0M488.1 78.6h0M489.5 74.1h0M446.7 65h0M444.9 62.7h0M447.3 61.9h0M448.2 64.6h0M444.9 63.3h0M446.4 61.6h0M109.1 178.7h0M91.2 241.6h0M72.2 197.6h0M60.3 184.1h0M136.3 210.4h0M115.4 167.2h0M93.6 175.8h0M66.5 195.2h0M63.4 200.5h0M60.6 195.6h0M65.4 193.8h0M65.5 195.7h0M71.2 198.9h0M62.8 193.9h0M68.6 199.6h0M68.3 193.6h0M65.7 195.5h0M61.7 197.6h0M99.2 239.5h0M103.5 241h0M106.5 239.7h0M105.2 239.4h0M99.7 241.6h0M106.6 237.7h0M106.1 235.2h0M100.7 235.8h0M97.6 240.4h0M129.4 224.3h0M132.4 226h0M128.9 224.8h0M129 226.6h0M97.8 170.7h0M97.3 171.7h0M100.2 172.8h0M100.6 171.2h0M97.4 170.9h0M98.9 173.2h0M73.9 218.6h0M75.2 219.3h0M73.4 219h0M72.6 221h0M72.6 220.4h0M74.1 221.8h0M75.4 220.1h0M123.2 217.1h0M125.1 215.4h0M123.1 218.4h0M123.3 217.1h0M126.1 219.5h0M124.3 219.9h0M123.5 219h0M125.5 220h0M321.4 182.3h0M260.3 184.6h0M303.9 233.3h0M298.9 178h0M251.4 205.9h0M266.6 220.7h0M294.5 164.9h0M306.4 229h0M269 167.7h0M258.3 218.1h0M249.8 198.2h0M249.9 199.7h0M249.1 195.7h0M248.8 200.2h0M252.1 194.9h0M245.7 194.9h0M247.7 195.9h0M254.9 194.3h0M253.5 197.6h0M250.4 194.3h0M249 198.1h0M301.5 233.1h0M298.2 231.4h0M299.2 233.6h0M291.2 233.7h0M293.3 232.2h0M291.3 232.2h0M300 231.6h0M298.4 233.3h0M318.1 220.1h0M319.4 219.8h0M315.3 219.6h0M319.5 216.5h0M317.7 215.3h0M288.5 170h0M288 171.2h0M288.4 171.8h0M290.2 169.5h0M291 169.6h0M292.4 172.2h0M292.4 172h0M292.7 170.7h0M292 169.6h0M292 172.3h0M292.8 170.6h0M264.6 219.6h0M262.3 217.5h0M263.5 220.5h0M261.4 220.6h0M311.2 215.8h0M304.4 215.7h0M311.7 216h0M304.2 215.2h0M311.7 216.1h0M310.6 215h0M311.1 215.7h0M303.6 216.1h0M493.4 240.9h0M491.1 239.6h0M439.5 210.3h0M477.7 165.8h0M448.4 209.2h0M519.5 204.9h0M500.7 223.2h0M497.8 190.2h0M503.2 181.6h0M470.4 166.4h0M429.7 194.8h0M434 198.8h0M431.1 199.1h0M428.1 196.5h0M430.6 195.6h0M433.7 195.6h0M474.9 238.8h0M472 235.4h0M473.1 238h0M465.1 239.6h0M463.5 239.7h0M468.4 171.8h0M468.5 171.8h0M467.7 172.9h0M465.1 170.1h0M465.7 173.2h0M464.9 171.9h0M467.8 170.1h0M485.8 230.7h0M488.5 228h0M486.9 232.1h0M491.4 230.2h0M491.1 229.5h0M487.5 233.1h0M488.6 228.2h0M487.4 228.5h0M486.3 229.2h0M486.8 232.7h0M486.9 228.8h0M487.6 232.6h0M486.5 231.6h0M454.1 225.3h0M454.2 227.2h0M452.9 227.3h0M453.8 225.3h0M451.3 225.8h0" stroke="#38d0d8" stroke-width="1.6"/><path d="M130.7 70.5h0M315.9 59.6h0M479 84.5h0M483.9 20.4h0" stroke="#40b0f0" stroke-width="0.8"/><path d="M86.4 83.5h0M91.7 15.8h0M86.2 26.7h0M79.1 30.1h0M86.3 23.7h0M83.9 27.7h0M82 29.8h0M84.7 30.8h0M84.2 25.2h0M78.7 26.1h0M81.6 32.7h0M88.2 26.5h0M94.4 27.1h0M92.4 27h0M93.1 17.5h0M92.7 19.3h0M92.8 18.1h0M92.1 17.4h0M92.5 27.3h0M92.4 22.6h0M94.5 28.6h0M86.1 23.3h0M95.8 25h0M90.1 21.8h0M95 24.3h0M127.3 52.7h0M137.9 47h0M134.1 45h0M127.4 45.5h0M127.7 54.7h0M136.2 43.3h0M135.1 48h0M126.9 44.6h0M128.4 45h0M133.5 43.9h0M133.5 50.5h0M128.8 43.5h0M131.4 50.6h0M138.2 49.9h0M128.1 52.4h0M129.5 47.4h0M125.4 43.4h0M128.3 54.1h0M125.8 52h0M126.4 47.8h0M127.2 44.8h0M128.6 52.1h0M136 45h0M131 48.8h0M125.4 44.4h0M128.7 54.4h0M123.5 51.5h0M130.1 41.1h0M117.6 72.5h0M118.2 64.6h0M117 70.1h0M116.8 71.4h0M117.8 72.5h0M121.4 71.6h0M119 69.7h0M122.3 69h0M118.3 69.2h0M118.4 70.7h0M243.4 55.1h0M253.4 25.9h0M315.4 13.9h0M268.7 26.7h0M276.1 28.6h0M277.5 34.5h0M274.8 26.9h0M274.9 29.7h0M279.5 30h0M266.4 30.3h0M279.3 33.4h0M265.2 34.3h0M268.9 34.6h0M268.6 34.3h0M265.4 30.1h0M276.1 35.3h0M271.2 33.3h0M277.4 34.9h0M272.7 30.8h0M268 30.9h0M273.9 36.6h0M263 30.6h0M271.9 34.1h0M279.1 28.5h0M270.3 21.2h0M270.9 20.9h0M265.1 20.6h0M265.9 18.6h0M271 25.6h0M271.2 22.3h0M268.6 24.2h0M315 35.9h0M315.3 37.6h0M320.9 49.3h0M311.1 40.8h0M314.8 43.3h0M315.1 43h0M319.6 35.1h0M321.1 40.2h0M316.3 39h0M309 41.2h0M319.1 40.6h0M314.1 42.4h0M322.7 47.6h0M323.3 41.5h0M316.9 44.1h0M308.5 41.6h0M318.8 50.2h0M311.7 40.2h0M319.9 41.3h0M311.5 45.3h0M321.7 44h0M319.3 37.4h0M319.4 39.4h0M308.2 43.3h0M319.4 41.5h0M316.8 34.1h0M325.5 43.1h0M316.5 34h0M320.7 37.6h0M320 36.4h0M313 44.6h0M309.5 66.4h0M306.9 73.8h0M300.7 73.5h0M307.2 71.4h0M301.9 66.8h0M298.2 71.3h0M309.2 65.5h0M307.2 66.5h0M306.5 69.8h0M303.3 63.6h0M305.8 75.1h0M310.2 70.3h0M306.2 64.7h0M303.3 73.2h0M299.6 65.5h0M305.8 64.1h0M310.1 66.7h0M305.4 72h0M298.5 67.7h0M431 42.6h0M474 21.7h0M486.8 15.3h0M462.5 32.9h0M452 31.7h0M459.3 31h0M467 36.8h0M470.3 33.6h0M459.7 34.9h0M453.8 37.1h0M458.9 36.2h0M461.3 36.8h0M455.1 33.5h0M460.8 26.4h0M459.4 28.7h0M463.4 29.9h0M457.5 33.8h0M462.1 27.2h0M454.3 26.6h0M457.5 37.1h0M463.3 37.1h0M466.8 38.2h0M454.2 34.3h0M466.4 35.1h0M457.9 31.4h0M467.3 30.5h0M466.1 28.4h0M463.1 40.1h0M454.2 32.2h0M457.1 32.2h0M465.5 27.7h0M470.2 30.6h0M457.5 39h0M462 33.7h0M454.9 34h0M464.1 36.8h0M452.7 38.6h0M458.6 38.9h0M459.6 39.7h0M454.2 39.9h0M452.5 40.5h0M455.5 38.6h0M505 45.1h0M511.2 52.5h0M500 51.3h0M510.6 53.4h0M501.7 53h0M507.1 45.8h0M509.7 44.9h0M503.6 58.5h0M513.1 53.5h0M498.3 52.6h0M505.8 51.3h0M507.4 43.6h0M504.4 58.7h0M499.6 49.8h0M502.6 45.7h0M508.3 51.2h0M504.8 58h0M509.9 58.1h0M507.4 57.4h0M499.7 56.6h0M502.3 55h0M509.3 48.4h0M502.2 46.7h0M502.2 49.5h0M512.1 47.1h0M498.8 53.4h0M510.5 45.2h0M505.5 57.5h0M501.8 55h0M502.5 41.1h0M505.1 67.8h0M499.7 62.3h0M503.2 64.3h0M495.3 67.3h0M496.8 73.4h0M492.8 68.7h0M496.8 61.3h0M496.4 65.1h0M498.8 67.7h0M493 65.5h0M499.1 60.5h0M499.1 66.3h0M502.9 72.4h0M497.2 60.6h0M495.2 71.7h0M500.9 73.6h0M503.4 71.5h0M504.8 67.5h0M505 69.2h0M503 62.6h0M60.1 225.9h0M93.1 187.3h0M97.3 186.6h0M97.3 184.6h0M91.7 189.7h0M96.7 188.9h0M89.4 187h0M90 178.4h0M98.4 178.6h0M97.8 183.2h0M95.9 178.9h0M99.6 182.5h0M92.3 176h0M88.6 184.6h0M99.8 184.7h0M89.9 180.8h0M88.1 187.7h0M92.6 183.7h0M91.6 188h0M89.2 183.8h0M96 187.7h0M95.1 177.4h0M99.2 184.6h0M95.8 180.4h0M93.5 184.5h0M94.7 187.5h0M84.1 181.9h0M103.2 182.1h0M85.9 187.2h0M85.5 182.9h0M96.5 178.6h0M95.4 184.9h0M94.8 190.8h0M88.3 181.6h0M96.8 187.4h0M101.8 183.2h0M100.4 183.1h0M87.4 181.6h0M85.6 186.9h0M99.8 177.8h0M87.7 181h0M97.7 184.6h0M101.1 177.9h0M89.3 190h0M93.8 177.7h0M103 186.1h0M98 180.1h0M88 187.6h0M85.4 182.5h0M93.2 174h0M83.5 180.5h0M86.5 186.7h0M90.7 179.5h0M98.1 176.4h0M98.2 188.4h0M91.2 182h0M126.8 204h0M134.2 206.9h0M135.7 208.4h0M133.4 201.4h0M133.9 207.3h0M126.1 205.6h0M132.6 201.6h0M136.9 205.2h0M130.8 202.7h0M132.4 202h0M134.6 199.1h0M132.3 206.4h0M135.1 204.5h0M131.2 198.4h0M136.2 203.7h0M133.4 205.2h0M126.1 198.6h0M128.1 202.3h0M127.1 195.9h0M135.5 197.6h0M132.1 198.1h0M123.8 200.9h0M124.8 202.1h0M131.5 199.4h0M132.6 198h0M119.3 204.8h0M135.5 198.5h0M125.1 204.2h0M119.8 205.7h0M127.8 205.2h0M126.3 207.7h0M122.6 204h0M125.6 208.1h0M128.5 199.1h0M128.3 198.2h0M136.5 200.1h0M125.7 207.1h0M132.3 197.8h0M129.9 205.4h0M134.3 211.1h0M130.9 203h0M135.3 209.3h0M122.7 225.7h0M124.9 227.6h0M116.4 229h0M116.8 225.4h0M118 226.9h0M117.2 222.7h0M115.3 228.8h0M117.7 222.6h0M118 229.9h0M122.7 225.5h0M123.4 231.9h0M118.8 229.1h0M124.7 223.2h0M116.2 222.1h0M125.2 231.6h0M116.6 221.9h0M118.1 224.9h0M126 224.3h0M125.8 231.2h0M122.7 225.7h0M118.3 232.1h0M120.3 233.7h0M121.4 229.4h0M123.5 226.1h0M125.9 228.5h0M124.8 231.7h0M117.6 229.7h0M127.3 226.9h0M124.8 230.2h0M114.2 228.3h0M125.1 223.7h0M117.8 223.4h0M252.8 194.4h0M285 181h0M280.8 178.8h0M283.4 186.8h0M285.2 187.7h0M273.4 188.5h0M285.3 178.7h0M281.5 176.7h0M278.3 180.3h0M275.2 187.5h0M272.4 182.1h0M279.2 191h0M274.1 184h0M274.9 182.7h0M287.3 186h0M284.4 190.5h0M282.3 191.9h0M278.4 184.8h0M273.7 185.6h0M275.3 178.5h0M280.3 180.8h0M274.9 187.6h0M281.8 189.4h0M279.5 176.6h0M287.1 187.4h0M285.7 189.8h0M282.9 178h0M278 182h0M286.2 183.3h0M287.2 180.6h0M271.6 183.9h0M270.4 186.8h0M287.5 183.4h0M288.8 181.1h0M279 183.7h0M283.5 178.2h0M287.7 186.6h0M272.6 181.4h0M284.2 186.9h0M270.4 183.5h0M281.8 191h0M284.5 179h0M271.8 185.5h0M276.5 176h0M277.6 181.7h0M278.9 181h0M275.6 188.8h0M285.6 190.2h0M279.9 190.7h0M278.2 189.1h0M282.1 185h0M280.4 174.7h0M271.9 182.2h0M277.5 184.4h0M318 197.8h0M320.1 200.9h0M314.2 202.5h0M310.3 199.6h0M317.4 202.8h0M309.1 197.1h0M317.5 196.2h0M319.2 194.8h0M317.4 204.2h0M316.8 204.3h0M316.9 206.8h0M321.6 197.3h0M314.4 191.6h0M315.4 206.8h0M317.3 192.3h0M321.3 197.1h0M318.3 193.9h0M313.9 201.4h0M318 206.4h0M317.5 203.5h0M311.9 203.9h0M324.3 196h0M323.5 197.3h0M319.3 204.7h0M323.8 196h0M312 195.5h0M307.8 196.3h0M314.6 205.4h0M322.5 200.1h0M316.5 192.9h0M323.6 196.5h0M318.7 197.3h0M317.5 202h0M317.7 200.3h0M314.3 191.9h0M321 198.3h0M307.5 202.8h0M318.4 202.2h0M311 196.2h0M314.7 196.6h0M313.7 195.4h0M317.4 196.2h0M313.2 207.8h0M322.5 191.7h0M322.3 198.7h0M311.7 197.9h0M323.8 200.5h0M310.9 192.3h0M319.8 203.8h0M319.9 205.4h0M310.1 202.7h0M311 227.7h0M308.1 229.4h0M309.9 221.7h0M312.3 230.1h0M307.1 229.3h0M306.9 226.5h0M312.6 229.8h0M313.9 228.5h0M311.5 224.1h0M310.4 230.4h0M305.8 228.8h0M315 226.9h0M305.1 229.5h0M312.4 223.2h0M303.3 223.7h0M312.7 228.8h0M311.7 222.6h0M313.8 226h0M303.7 227.2h0M306.7 230.1h0M316.4 224.7h0M307.1 229.1h0M316.9 225.4h0M307.2 228.4h0M305.6 228.8h0M305.7 230.8h0M304.4 229.5h0M313.3 221.8h0M310.7 225h0M305.2 228.5h0M439.3 182h0M435.3 202.7h0M493.7 224.5h0M467.2 182.2h0M465.9 192.5h0M467.6 183.5h0M463.7 191.3h0M468.6 192.5h0M463.7 188.7h0M468.4 190h0M469 191.8h0M471.2 190.7h0M465.6 181.4h0M463.7 181.6h0M457.8 184.4h0M461.1 193.4h0M465.6 193.3h0M472 189.4h0M465.5 193.9h0M466.6 193.5h0M466.1 192.6h0M470 190.6h0M462.2 189.3h0M471.2 183.9h0M463.3 183.2h0M469.8 183.2h0M464.5 185.9h0M460.9 181.6h0M460.3 184.7h0M472.4 191.6h0M455.2 186.5h0M456.1 188h0M456.8 191.8h0M461.4 189.1h0M466.2 184.3h0M457 190.1h0M466.3 185.3h0M461.7 195.4h0M464.7 187.9h0M466.8 194.8h0M468 185.8h0M470.4 189.9h0M469.4 193.4h0M461.7 185.2h0M483.4 174.5h0M486.1 174.4h0M482.5 170.6h0M482 174.2h0M484.9 169.7h0M484 176.8h0M481.3 172.6h0M481.4 174.8h0M483.7 179.7h0M479 179h0M479.2 182.6h0M479.9 182.9h0M477.5 183h0M510 203.9h0M499.3 200.7h0M498.1 199.5h0M497.6 201.4h0M500.8 197h0M509.7 202h0M509.8 199.6h0M498 204h0M499.8 203.6h0M503.7 196.8h0M503.7 203.3h0M500.7 204.8h0M506 199.1h0M499.6 206.5h0M500.2 206.6h0M509.3 204.2h0M506.6 199.6h0M506.6 208h0M506.3 202.2h0M502.3 206.6h0M505.1 208.5h0M506 195.8h0M502.9 199.5h0M493.4 205.3h0M500.6 208.9h0M508.5 206.7h0M507.8 203.1h0M496.3 207.5h0M494.8 204.6h0M499.7 199.4h0M502.4 203h0M496.1 199h0M512.2 201.8h0M503.2 208.3h0M508.5 209.8h0M499.9 200.5h0M507.6 205.7h0M501 206.9h0M508.7 197.9h0M500.8 195.4h0M499.9 211.3h0M506.1 208.4h0M501.2 207.7h0M501.3 206.4h0M503.4 205.5h0M510.3 201.8h0M505 196.3h0M503.1 195h0M498.5 205.9h0M511.3 206.2h0M503.7 211.1h0M504.5 204.7h0M491.1 219.2h0M491.1 228.2h0M491.2 228.2h0M491.8 224.9h0M493.3 221.9h0M491.1 224.6h0M493.6 225.7h0M498 224.3h0M496.1 219.7h0M491.1 221.1h0M493.1 227.9h0M494.2 227.1h0M489.9 222.1h0M487.7 226.2h0M497.1 220.2h0M494.6 221.7h0M499.2 224.8h0M490.1 227.8h0M492.9 228.4h0M491.4 226.2h0M490.7 219.8h0M493.2 225.5h0M492.2 224.4h0M492.6 224.8h0M495.8 229.3h0M497 223.9h0M496.4 218.8h0M487.7 222.9h0" stroke="#3f4cf0" stroke-width="2"/><path d="M118.8 61.1h0M70.3 24.1h0M126.6 52.9h0M108.8 82.8h0M302.4 17.3h0M459.3 12.1h0M129 235h0M131.6 228h0M137.6 211h0M125.8 187.8h0M502.6 198.9h0M484.1 167.2h0M495.1 222h0" stroke="#2898f0" stroke-width="0.8"/><path d="M74.8 17.7h0M120.1 21.6h0M132.2 63.9h0M135.4 58.8h0M116.4 25.2h0M59.9 30.4h0M57.1 58.6h0M131.6 32.6h0M92.6 86.1h0M116.2 12.1h0M120.7 73.3h0M59.6 34.8h0M66.9 15.7h0M70.7 48.4h0M109 72.2h0M64.2 42.6h0M122.4 62.2h0M79.7 71.8h0M83.4 16.6h0M63.4 42.1h0M114.7 19.8h0M122.1 36.4h0M96 83.4h0M73.8 65h0M91 6.8h0M94.3 12.2h0M90.8 12h0M93 10.6h0M91.1 12.2h0M90.8 12.4h0M93.2 12.9h0M93.9 12.8h0M94.3 50.7h0M93.5 45.3h0M93.6 44.5h0M98.5 55.2h0M107.6 40.7h0M97 54.2h0M111.1 50.9h0M111.8 50.6h0M95.2 50.4h0M111.7 51.9h0M99.1 55.5h0M103.4 39.2h0M97.6 41.3h0M98.7 40.4h0M101.3 55.3h0M107 56.4h0M113.3 47.9h0M111.7 43.8h0M111.2 42.5h0M94.4 45.1h0M112.6 49.4h0M95.4 45.3h0M109.7 54.3h0M111.9 44.5h0M98.4 41h0M103.9 56.1h0M105.8 55.9h0M112.6 45.7h0M107.4 41.2h0M97.4 41.2h0M96 41.8h0M110.5 54.5h0M92.8 47.6h0M98.9 41.7h0M94.5 46.7h0M113.2 47.8h0M111.4 53h0M103.5 56.3h0M93.4 48.2h0M93.2 47.9h0M86.3 49h0M86.7 48.6h0M84.1 40.6h0M87.5 47.1h0M83 49.7h0M79 40.9h0M77.1 44.1h0M84.9 49.6h0M80.7 49h0M85.9 40.4h0M81.6 49.7h0M86.8 41.6h0M88.1 42.7h0M85.7 48.6h0M79.4 42.1h0M78.7 41.7h0M87.5 48.6h0M128.3 32.4h0M129.9 36.3h0M131 35.8h0M130.5 33.6h0M123.2 34.3h0M123.6 35.9h0M123.3 33.8h0M123.4 33.9h0M130.6 34.3h0M125.8 32.4h0M122.9 34.8h0M125.9 38.1h0M78.8 65.4h0M78.8 66.1h0M81.7 69.7h0M79.5 68.7h0M81.2 69.3h0M81.9 64h0M78.9 65.3h0M78.2 66.4h0M78.7 67.9h0M83.6 69.3h0M83.4 64.3h0M85.5 66.9h0M98.7 72.9h0M92.1 71.7h0M97.8 73.5h0M92.5 71.8h0M94.3 66.8h0M93.9 74h0M92.6 71.2h0M94.8 66.4h0M95.1 67h0M92.8 71.5h0M92.5 70.5h0M92.3 69.6h0M96.1 74h0M99.9 71.5h0M99.8 69.8h0M99.8 61h0M101.5 64.8h0M103.1 64.7h0M100 63h0M100.3 60.2h0M100.9 64.4h0M103.6 64.2h0M103.5 64.4h0M99.8 63.4h0M102.2 65.1h0M113.9 62.2h0M111.8 65h0M113 61h0M113.4 62.3h0M111.8 65.1h0M110.9 60.6h0M109.9 64.6h0M109.5 67.8h0M104 70.2h0M111.4 72.4h0M111.8 70.3h0M106.2 68.2h0M109.5 68.4h0M104.2 72.2h0M105.7 74.1h0M109.1 73.9h0M108.2 74.2h0M108.6 67.8h0M110 68.8h0M111.2 70.8h0M108.3 74.1h0M111.1 69h0M331.7 34.7h0M332.8 43.2h0M330.4 38.4h0M286 74.1h0M279.4 16.7h0M323.6 27.5h0M331.1 32.7h0M326.3 67.3h0M247.9 44.4h0M293.7 14h0M254.3 62.8h0M253.7 35h0M277.3 77.1h0M262 59.1h0M331.6 55.4h0M276.7 20.1h0M294.4 85.9h0M268.6 11.1h0M244.9 57h0M312.1 43h0M251.7 55.8h0M260.4 47h0M310.2 18.5h0M278.5 18.4h0M256.9 77h0M268.5 40.6h0M260.4 44.3h0M261.2 46.7h0M267.6 48.6h0M267.5 40h0M261.3 46.1h0M260.9 43.9h0M260.3 42.5h0M268.1 47.5h0M265.7 39.7h0M261.5 40.7h0M270.1 40.9h0M263.1 40.3h0M270.3 42.5h0M261.6 46.1h0M270.9 44.3h0M261.8 46.7h0M260.9 45.5h0M284.4 9.8h0M284.4 10.5h0M284.5 10.5h0M287.2 10h0M295.7 56.7h0M290.8 45.6h0M282.1 52.6h0M295.9 48.2h0M294.6 58.6h0M285.1 48.1h0M286 47.3h0M284.7 47.4h0M283.4 54.5h0M282 52.2h0M282.3 52h0M293.7 57.5h0M285 56.2h0M283.7 54.3h0M282.2 52.6h0M293.9 47.1h0M294.7 46.8h0M282.7 52.7h0M292 57.9h0M292.7 45.6h0M296 56h0M283.6 57.8h0M283.7 61.2h0M276.7 62.3h0M276.8 62.6h0M284 61.1h0M279.7 63.6h0M280.3 57.5h0M282.2 62.4h0M276.4 61.4h0M282 57.5h0M281.1 57.7h0M283.3 58h0M283.5 61.7h0M278 63.5h0M278.8 63.3h0M293.4 63.9h0M290.9 63.8h0M287.7 65.2h0M289 67.9h0M290.7 67.8h0M292.1 67.8h0M293.7 63.9h0M287.8 64.9h0M294.5 64.6h0M281.1 72h0M283.7 69.9h0M288.5 72.9h0M286.6 70.5h0M281.4 71.3h0M280 73.3h0M287.6 70.8h0M286 70.1h0M283.2 75.3h0M288.5 74.5h0M282.6 70.2h0M285.6 70.2h0M288.2 71.4h0M279.9 73.4h0M282.4 75.1h0M473 84.4h0M434 48.9h0M451.5 60.2h0M428.8 48.7h0M435.3 39.4h0M437.7 64.1h0M434.5 67h0M510.4 21h0M498 23.9h0M506.8 30.9h0M508 24.6h0M481.4 17.5h0M462.6 72.9h0M460.8 13.2h0M460.6 74.8h0M511.2 55.3h0M467.4 83.5h0M446.5 63.1h0M503.3 26h0M479.6 3.7h0M466.5 16.1h0M504.8 55.9h0M431 30.7h0M452.5 23.7h0M436.2 27h0M483.5 77.3h0M474 49.7h0M465.5 35.8h0M479.8 43.1h0M466 37.3h0M463.2 40.7h0M462.8 42.3h0M479.7 46.1h0M462.8 45h0M466.9 36.2h0M478.9 45.4h0M473.1 50.9h0M478 47.5h0M464.8 47.4h0M462.4 43.4h0M467.8 50h0M463.9 38.6h0M471.6 34.9h0M476.9 36.2h0M480.1 39.4h0M475.9 48.3h0M476.3 49.5h0M471.8 34.8h0M462.6 44.6h0M462.4 40.1h0M478.8 45.7h0M464.2 39.3h0M462.9 38.3h0M476.2 48.6h0M474.8 35.8h0M479.7 39.9h0M468.5 35.1h0M464 40.1h0M463.7 46.4h0M475.6 48.5h0M463.6 39.4h0M463.9 45.9h0M471.1 35.5h0M463.6 43.9h0M489.6 15h0M487.5 15.9h0M491.3 16.8h0M491.2 15.3h0M490.5 15.3h0M491.6 16.7h0M488.4 17h0M491.5 15.4h0M487.5 15.6h0M487.4 15.6h0M460.2 61.2h0M453 51.6h0M451.2 55.1h0M464.2 55.4h0M456.9 50.1h0M465.1 56.8h0M451.8 59.5h0M453.2 51.4h0M452.2 59h0M459.4 61.8h0M451.3 54.2h0M462 59.8h0M454.2 61.2h0M463.1 58.3h0M449.6 55.9h0M455.3 61.6h0M452.3 51.9h0M455.9 61.7h0M451.9 50.8h0M456.6 61.2h0M458 50.1h0M455.3 61.5h0M464.5 57.6h0M455.9 61h0M484.5 56.3h0M484.4 57h0M483.8 54.1h0M486.9 52.4h0M490.4 57.7h0M490.2 57.4h0M489.4 57.8h0M484.6 56.3h0M491.1 53.7h0M486.6 52.4h0M491.1 55.6h0M489.3 57.9h0M489.6 58h0M485.3 62h0M481.7 63.8h0M484.3 62h0M487.8 63.3h0M483.7 62h0M487.1 64.4h0M485.5 65.4h0M484.4 61.8h0M486.9 65h0M486.9 64.8h0M484.1 65.5h0M482.5 70.4h0M476.3 72.8h0M483.8 73h0M476.5 72.1h0M482.5 69.6h0M483.1 70.4h0M476.4 73.9h0M483.3 72.7h0M483.2 73.8h0M476 73.4h0M476 72.9h0M482.4 69.9h0M476.5 73h0M476.3 70.7h0M476.2 71.4h0M459.9 69.5h0M453 68.3h0M459.2 65.6h0M453.9 66.1h0M454.4 70.9h0M459.1 70.9h0M459 65.8h0M453.8 70.7h0M459.3 70.6h0M454.8 71.2h0M453.1 68.1h0M457.1 71.7h0M460.1 68.7h0M454 65.3h0M458 64.5h0M459.8 69.2h0M468.4 64.3h0M463.1 67.7h0M466.5 71.4h0M471.3 68.1h0M464.2 65.8h0M467.8 64.6h0M465.8 65.1h0M471.1 68.7h0M467.6 71.4h0M470 70.4h0M471.7 69.5h0M471.1 66.8h0M465.1 70.9h0M467.2 64.5h0M462.5 67.7h0M471.9 67.5h0M71.6 236.4h0M142.2 212.8h0M53.6 198.6h0M135.2 186.5h0M92.2 227.8h0M88.9 178h0M120.4 164.3h0M69.7 211.4h0M53.6 207.9h0M77.7 240.7h0M93.3 171.9h0M59.4 201.6h0M89.9 240.2h0M100.7 243.9h0M134.9 221.5h0M106.6 228.8h0M72.6 204.9h0M59.6 209.4h0M146.9 197.7h0M127.5 172.9h0M133.2 220.5h0M108.6 236.8h0M64.7 181.4h0M106.7 223.7h0M114.4 175h0M134.1 171.8h0M107.4 233h0M113.7 233.2h0M119.9 171.2h0M59.6 197.7h0M103.1 242.3h0M135.8 215.1h0M83.6 192.9h0M87.6 200.4h0M88.1 197.1h0M79.7 193.7h0M78.8 198.4h0M88 197.6h0M86.1 201.6h0M79.1 195.7h0M78.6 198.3h0M81.2 193.7h0M86.1 193.6h0M79 201.6h0M87.4 198.3h0M87.5 195.7h0M78.5 199h0M82.6 192.8h0M85.7 202h0M100.3 190.4h0M110.2 197.2h0M107.4 192.3h0M97.1 202.8h0M96.7 202h0M105.1 191.5h0M100.3 189.9h0M102.1 190.8h0M109.3 194.6h0M94.6 194.4h0M108.5 193h0M93.3 198.4h0M95 200.1h0M102.8 203.6h0M93.9 194h0M95.5 193.4h0M109.6 199.7h0M98.7 203.4h0M100.6 204h0M105 203.6h0M95.3 192.7h0M97.7 202.8h0M105 190.2h0M101.8 190.8h0M107 166.7h0M107.2 167.8h0M105.4 169.1h0M106.2 169h0M105.8 166.4h0M104.8 169.1h0M104.6 166.1h0M104 169.1h0M105.4 169.1h0M130.5 192.9h0M123.1 191h0M126.1 188.6h0M124.2 190.1h0M130.6 193.7h0M123 192.7h0M123.1 191.2h0M125.2 194.5h0M130.2 193.1h0M123.3 190.5h0M72.1 207.7h0M72.1 207.3h0M68.9 204.8h0M71.2 206h0M66.5 211.3h0M71.9 206.4h0M65.7 209.8h0M69.3 211.4h0M64.3 208.9h0M72 208.4h0M69.3 211.1h0M92.3 221.1h0M97 218.5h0M94.5 224.6h0M92.4 220.9h0M92 221.7h0M92.3 222.8h0M99.2 221.7h0M92.7 220.4h0M94.4 218.5h0M92.5 221.8h0M95.1 224.8h0M92.3 220.6h0M117.8 214.9h0M112.9 212.7h0M112.1 214.2h0M117.9 214.2h0M115.2 217h0M115.9 212.6h0M118.2 215.3h0M113.1 212.9h0M112.6 212.9h0M116.5 212.5h0M115.5 216.6h0M109.9 220.4h0M106.2 217.2h0M109.8 220.5h0M104.2 219.4h0M109.9 220h0M109.8 220.9h0M104.3 221.4h0M109.8 219.2h0M105.1 222.2h0M103.8 219.4h0M103.2 229.1h0M102.1 228.5h0M107.3 225h0M102.6 228.6h0M110.6 227.3h0M107.8 229.7h0M101.4 227.4h0M109.5 228.3h0M110.5 226.8h0M103.1 228.9h0M101.5 227.8h0M103 225.7h0M264.3 232.6h0M267.5 186.6h0M312.2 235.4h0M296.7 238.2h0M252.8 190.3h0M258.3 205.6h0M269.5 185.7h0M320.9 211.7h0M282.1 224.9h0M250.7 179.5h0M260.8 216.5h0M273.9 169h0M285 244h0M309 185.1h0M292.7 232h0M286.7 174.5h0M331.2 203h0M306.2 185.3h0M240.7 193.8h0M316.6 205.6h0M282.4 242.4h0M297.2 168h0M253.7 226.6h0M303.7 166.3h0M252.9 214.7h0M262.6 181.8h0M331.2 189.2h0M281.3 233.7h0M315.4 183.2h0M251.6 198.5h0M255 194.7h0M267.1 186.3h0M304.8 173.7h0M318.6 228.7h0M286.1 165.5h0M283.5 164.7h0M285.3 164.5h0M286 166.7h0M283.8 167.3h0M283.4 167.1h0M282.8 165.7h0M263.5 197h0M264.4 194.9h0M264.4 195.8h0M267.1 193.8h0M272.7 197.4h0M270.1 194.4h0M272.7 201.6h0M273.2 200.9h0M271.8 196.5h0M268.9 204.4h0M272.6 197.9h0M265.3 194.6h0M265.9 193.6h0M267.2 193.7h0M263 200h0M272.7 195.8h0M273.1 199.7h0M271.4 194.4h0M272.4 202h0M287.5 192.6h0M285.4 193.4h0M279.6 206.1h0M279 195.5h0M283 209h0M278.6 198.7h0M290.6 206.8h0M293 202.9h0M291.4 196.3h0M278.1 200.3h0M279.8 196.1h0M288.7 207.5h0M290.8 194.7h0M280.1 194.2h0M277.5 200.1h0M285.8 193.4h0M288.7 194.1h0M279.4 205.3h0M278.9 203.5h0M293.9 201.1h0M288.3 207.6h0M293.7 203h0M292.8 202.6h0M277.6 197.9h0M278.9 205h0M287.2 193.5h0M291.8 205h0M277.7 198.2h0M277.9 202.7h0M278 205.4h0M283.2 208.6h0M279.2 204.4h0M283.6 208.2h0M293.6 200.6h0M279.5 195.6h0M291.9 196.1h0M289 207.8h0M279.9 195.6h0M256.3 210.7h0M249.7 206.4h0M248.7 208.5h0M256.1 211.3h0M253.7 205.5h0M253.2 212.3h0M256 207.4h0M251.4 211.8h0M248.6 207.5h0M256.8 207.4h0M257 208.5h0M256.9 208.3h0M248.6 209.8h0M256.7 208.6h0M250.6 206.7h0M253.9 211.8h0M275.7 208.1h0M276.4 209.4h0M276.8 210.4h0M275.3 208.1h0M273.3 212.1h0M275 208.1h0M275.3 208h0M273.9 207.7h0M272.2 210.9h0M272.8 211.4h0M279.7 212.9h0M283.1 219.4h0M277 214.7h0M284.8 214.5h0M277.7 214.6h0M282.3 212.8h0M282.6 212.7h0M283.9 218.1h0M282.5 213.2h0M283.7 214h0M284.6 213.9h0M276.8 215.2h0M281 213h0M280.4 220.1h0M277.5 213.9h0M277.8 218.7h0M313.5 211.5h0M314.4 208.9h0M306 209.7h0M311.6 206.1h0M314.3 209.4h0M308.1 206.1h0M312.6 211.3h0M309.8 205.4h0M307.4 205.9h0M297.2 220.2h0M296.6 222.9h0M291.5 222.9h0M290.9 220.3h0M298.1 221.4h0M293 223h0M295.3 219.5h0M290.8 220h0M294 223h0M296.1 219.6h0M297.1 220.5h0M290.4 221.7h0M296.7 222.3h0M297 220.4h0M431 199.4h0M448.5 184h0M483.5 238.4h0M439.9 182.1h0M448.1 188.8h0M496.6 185h0M517.6 188.9h0M484.9 225h0M510 214.8h0M436.9 183.4h0M460.2 172.5h0M459.7 232.9h0M435.7 205.4h0M446.5 187.6h0M464.6 227.2h0M443.3 182.5h0M430.9 193.7h0M492 226.2h0M491.7 223.5h0M437.7 217h0M439.9 194.9h0M450.5 232.7h0M513.2 181.2h0M515.9 207.2h0M503.4 171.1h0M481.3 164.3h0M486.6 166.1h0M462 239.5h0M478.9 172.5h0M441.9 220.8h0M453.2 234.6h0M479.5 232.1h0M473.9 168.6h0M476 171.1h0M473.1 171.1h0M476.3 170.4h0M476.5 169.4h0M466.2 204.5h0M466.3 204.4h0M466.2 196h0M470.3 208h0M465.3 201.4h0M475.1 192.4h0M479.5 204.1h0M466 206.2h0M479.3 204.4h0M465.6 204.7h0M470.6 208.2h0M475.2 207h0M466 204.1h0M479.2 195.9h0M474.4 192.7h0M470.5 207.2h0M471.2 208.3h0M465.5 197.2h0M480.3 198.6h0M469.9 193.7h0M465.1 201.7h0M466.5 206.6h0M474.8 193.8h0M479.1 204.5h0M476.3 193.9h0M464.5 197.3h0M476 193.8h0M464.1 203.3h0M478.2 205.1h0M437.1 211.4h0M443.1 210.7h0M439.3 204.9h0M437.3 205.8h0M435.8 210.4h0M438.3 204.9h0M435.4 210.5h0M442.8 206.5h0M441.2 211.3h0M436.7 211.3h0M441.8 211.3h0M452.5 210.7h0M448.8 206.2h0M449.7 208.1h0M454.1 211.4h0M448.7 204.2h0M459.1 209.5h0M454.5 210.5h0M450 208.3h0M451 200.4h0M457.6 211h0M452.7 210.8h0M452.9 198.8h0M462.1 206.2h0M454.6 199.3h0M458.4 199.1h0M454.4 199.4h0M448.9 205.5h0M461.7 205.8h0M457.4 199h0M461.6 205.3h0M448.7 206.4h0M457.5 199.3h0M461.9 201.4h0M454.4 198.9h0M454.7 211.3h0M459.8 209.5h0M449.3 206.4h0M463.2 220.1h0M463.4 219.6h0M460.7 215.6h0M461.1 218.5h0M467 218.2h0M460.7 217.1h0M461.7 214.6h0M462.1 219.9h0M485.8 208.3h0M486.6 212.7h0M482.7 210.8h0M483.9 212.4h0M488.1 210.3h0M488 210h0M482.4 211.1h0M482.7 209.9h0M497.5 214.9h0M492.5 211.4h0M495.4 216.1h0M497.6 213h0M491.2 215.9h0M495.4 211.3h0M497.6 212.8h0M492.8 210.9h0M495.9 215.9h0M484.4 223.6h0M475 224.3h0M484 224.6h0M478.5 220.9h0M475.1 225.2h0M484.5 223.7h0M484.3 224.2h0M480.8 226.6h0M476.5 221.8h0M482 220.9h0M478 220.8h0M476.2 225.9h0M475.3 222.9h0M478.7 226.6h0M483 225.5h0M483.9 223.4h0M481 225.9h0M481.1 226h0M481.4 221.2h0M477.7 226.3h0M481 226.4h0M466.2 224.8h0M470.8 228.4h0M469.3 229.7h0M466 228h0M467.9 223.7h0M470.2 223.7h0M470.9 227.8h0M468.7 229.6h0M471.1 227.3h0" stroke="#2e8cf4" stroke-width="1.2"/><path d="M71.7 40.4h0M145.7 37h0M309.4 8.5h0M264 60.4h0M324 58.2h0M430.1 58.2h0M492.4 7.5h0M124.4 215h0M314.4 190.5h0M511.8 210.3h0M456.6 222.9h0" stroke="#2e8cf4" stroke-width="0.8"/><path d="M84 84.1h0M59 29.4h0M127.1 67.6h0M64.8 30.7h0M126.8 44h0M106.1 81.5h0M125.8 34.7h0M260.4 18.7h0M256.9 24.2h0M297.7 7.5h0M268.8 28.1h0M256.7 18.6h0M240.3 45.1h0M251.4 24.5h0M296.8 76.4h0M270.1 13h0M444.4 75.5h0M458.3 68.2h0M475.7 82.5h0M495.1 82.4h0M496.9 30.4h0M507.2 73h0M440.1 62.2h0M457.7 69h0M511.9 47.8h0M504.1 46.9h0M466.9 85h0M142.2 222.8h0M87.3 160.7h0M116.7 183.4h0M93.9 233.4h0M136.4 201.6h0M120.1 230.6h0M100.9 176.8h0M120 215.6h0M128.4 169.5h0M251.8 231.7h0M309.9 218h0M320.5 218.1h0M265.1 185.9h0M322.6 221.5h0M279 181.1h0M268.5 177.7h0M326.5 190.5h0M313.8 203.7h0M263.2 185.8h0M279.2 175.9h0M260.1 193.9h0M479.9 232.4h0M451.6 178.4h0M471.2 238.4h0M447.8 237h0M443.4 211.9h0M504.6 184.3h0M463 243.8h0M513.6 196.4h0M472.5 241.2h0M455.2 189.2h0M487.2 222.9h0M430.8 198.4h0M439.3 220.3h0M491.3 177.5h0" stroke="#40c0e0" stroke-width="1.2"/><path d="M66.2 59.3h0M263 18.4h0M100.2 170.1h0" stroke="#40c0e0" stroke-width="2"/><path d="M62.2 62.7h0M52.2 45.5h0M75 83.2h0M305.1 65.6h0M319.1 58.9h0M504.3 34.3h0M304.8 219h0" stroke="#80f0b0" stroke-width="2"/><path d="M105.6 68.4h0M320.1 73.2h0M96.8 237.6h0M126.6 194.6h0M327.4 215.8h0" stroke="#6c1cf0" stroke-width="0.8"/><path d="M70.1 27.8h0M442.5 38.3h0M89.9 224.3h0" stroke="#38d0d8" stroke-width="2"/><path d="M117 72.1h0M83.3 73.5h0M77.4 80.2h0M82.9 79.9h0M79.9 84.9h0M81.1 73.4h0M77.9 72.4h0M88.6 74.4h0M85.2 71.2h0M85.4 70.1h0M90.4 77.2h0M81.5 73.2h0M72.4 77.1h0M89.4 79.9h0M78 82.9h0M77 83h0M73.4 75.8h0M76.6 75.6h0M81 85.3h0M82.5 82.4h0M79.2 78.2h0M260.6 11.8h0M267.1 54.6h0M272.1 51.1h0M266.2 53.8h0M274.2 54.3h0M268.7 50.4h0M273.5 55.1h0M267 51.9h0M269.5 53.4h0M270.2 56.1h0M267.3 52.6h0M272 49.7h0M273.8 52.9h0M477.2 83.7h0M442.4 41.9h0M468.3 14.3h0M457 84.4h0M471.6 84.1h0M461.7 81.5h0M453.5 82.4h0M470.7 74.7h0M470.9 82.9h0M465.7 82.9h0M471.5 80h0M468 78.3h0M460.9 72.7h0M449.9 74.7h0M467.5 84.5h0M462.6 86h0M470 74.9h0M454.5 82.4h0M452.7 72.9h0M459.2 85.1h0M470.8 75.5h0M471.5 76.1h0M462.3 78.9h0M455.2 74.6h0M451.9 79.9h0M457.3 72.7h0M454.8 85h0M462.7 86h0M470.3 78.5h0M467.7 84.6h0M457.9 71.8h0M451.2 79.5h0M451.9 80.9h0M460.2 84.2h0M459 76h0M460.5 78.6h0M458.4 85.2h0M470.2 83.1h0M458.8 75.8h0M458.7 76.4h0M460.7 70.7h0M463.6 77.8h0M463.6 77.4h0M462.1 80.3h0M465.4 81h0M471.8 83.7h0M470.2 82.6h0M455.6 71.5h0M465.8 77.2h0M459.2 75.8h0M67.3 213.3h0M57.9 223.1h0M91.2 233.7h0M98.4 229.6h0M87.3 234.4h0M88.8 236h0M80.6 224.5h0M93.9 233.8h0M85 231h0M81.9 227.4h0M89.9 225.6h0M91.1 234.3h0M83.8 229.8h0M88.6 232h0M83.6 223.5h0M85.8 235.3h0M89.9 231h0M90 223.7h0M85.6 230.1h0M88.8 223.7h0M98.2 228.9h0M91.5 233.2h0M94.6 227.4h0M83.8 223.4h0M83.7 234.3h0M88.9 225.5h0M93.5 230h0M89 236h0M83 229h0M80.7 233.2h0M97.6 234.3h0M85.6 233.1h0M77.3 229.5h0M275.1 181.1h0M311.3 195.4h0M324.5 208.1h0M285 233.9h0M275.4 226.6h0M289.6 227.6h0M280.2 229.5h0M283.1 224.5h0M281 232.2h0M267.5 232.8h0M280.2 224.5h0M277.1 230h0M273.3 221.7h0M283 234.4h0M275.9 223.7h0M283.5 235.3h0M275.6 233h0M276.1 221.2h0M285.2 230h0M282.2 232.7h0M279.9 227.4h0M283.4 226.5h0M276.1 230.1h0M273.7 231.2h0M273.7 232.3h0M282.7 222.8h0M273.4 233.5h0M281.3 226.8h0M285.8 224.6h0M287.6 224.8h0M280.5 234.1h0M277.6 222h0M273.3 235.1h0M279.6 233.9h0M283.6 224.1h0M271.9 232.2h0M282.3 223.3h0M279 228.9h0M449.3 217.3h0M511.7 214.3h0M475 239.7h0M456.9 237.6h0M471.5 238.7h0M458.7 234h0M472.2 235.8h0M471.8 229.3h0M458.1 235h0M460.8 229.6h0M478.1 232.5h0M458.9 229.3h0M458.2 238.3h0M472.6 238.5h0M468.1 240h0M457.2 231.8h0M468.1 241.9h0M452.4 235.2h0M470.7 236.2h0M464.8 240.2h0M471.3 241h0M452.8 232.6h0M453.1 230.9h0M456.7 200.9h0M457.1 201.3h0M454.7 196.2h0M450.8 199.3h0M460.7 196.6h0M451.1 198.3h0M456.6 201.2h0M461.2 195.5h0" stroke="#2e8cf4" stroke-width="2"/><path d="M83.1 9.2h0M259.9 75.8h0M324.5 63h0M500.9 27h0M131.3 232.4h0M246.4 222.7h0" stroke="#6c1cf0" stroke-width="2"/><path d="M134.6 27.5h0M516.3 65.3h0M76.6 217.4h0M96.3 159.5h0M80.2 185.3h0M316.4 178.1h0M319.5 180.3h0M317.6 182.3h0M314.9 182.6h0M315.6 180h0M318.7 177.9h0M467.3 179.8h0" stroke="#40b0f0" stroke-width="2"/><path d="M56.2 59h0M57.4 62.2h0M64 63.1h0M60 60.9h0M58.9 65.1h0M60.4 62.9h0M60.1 60.1h0M56.7 62.2h0M57.7 57.2h0M59.5 67.5h0M61.5 65.7h0M59.4 56h0M61.1 62.3h0M55.4 62h0M56.2 59.3h0M55.7 65.9h0M55.6 66.1h0M80 25.7h0M83.4 23.7h0M84.5 32.8h0M83.9 21.3h0M90.9 21.3h0M87.5 20.7h0M87.4 19.2h0M89.3 28h0M90.5 24.7h0M95.3 23.6h0M131.3 40.9h0M134.9 48.7h0M139.5 49.1h0M124.2 52.5h0M128.6 47.8h0M131.1 41.4h0M125 52.2h0M123 47.3h0M131.2 51.5h0M138.9 50.4h0M128.7 49.9h0M120.4 73.4h0M118.1 65.2h0M245.4 67.1h0M245.7 64.2h0M248.2 68.9h0M250.6 59.6h0M249.3 63.4h0M246.6 59.8h0M250.7 60.3h0M249.2 61.1h0M243.8 61.4h0M247.1 61h0M247.3 69.2h0M244.7 61.1h0M250.6 63.3h0M248.1 62.3h0M248.7 59.4h0M244.4 59.7h0M247.7 60.1h0M251.1 60.5h0M278.1 30.5h0M266.4 32h0M270.8 29.1h0M264.8 34.7h0M268.1 26.1h0M266.5 24.4h0M270.6 22.2h0M266.5 26h0M268.1 24.7h0M316.1 36.7h0M316.8 46.6h0M308.8 41h0M321.9 37.5h0M311.3 43.1h0M323.2 44.4h0M310.9 39.8h0M315.3 41.3h0M305.8 72.7h0M307.8 65.1h0M309 67.5h0M298 69h0M439.5 71h0M440.5 55.4h0M444.6 64.7h0M433.3 59.6h0M434.8 59.4h0M444.3 60.1h0M443.5 64.8h0M433.9 62.7h0M438.5 56.7h0M438.4 65.5h0M436.9 66.3h0M442.3 66.6h0M431.4 59.5h0M433.3 60.8h0M435.4 61.9h0M435 56h0M437.2 65.6h0M430.3 60.8h0M436.9 68.8h0M441.5 63.9h0M434.9 55.6h0M435.2 73.6h0M437.9 62.1h0M436.4 66.2h0M434.5 69.7h0M437.6 62.5h0M439.2 71.9h0M435.1 65.7h0M444 66.8h0M464.7 37.1h0M461.7 26.3h0M470.1 31.6h0M451.8 34h0M463.3 25.3h0M452.5 33.6h0M460.9 31.4h0M454.8 35.4h0M461.4 26.5h0M456.6 37.3h0M460.2 33.3h0M462.7 34.4h0M462.8 25h0M458.6 33.1h0M456.4 37.5h0M460.5 35.8h0M462.6 26.8h0M458.4 26.1h0M460.4 33.6h0M453.7 31.8h0M461.4 33.1h0M458.4 37.3h0M464 30.6h0M464.5 28.7h0M460 29.8h0M459 33.5h0M467.3 36.7h0M508.7 59.9h0M504.7 46.2h0M510.6 56.6h0M506.9 43h0M505.6 49.1h0M503.5 53.9h0M502.2 58.8h0M507.7 55.5h0M509 53.7h0M510.1 53.5h0M501.2 54.2h0M509.9 51.1h0M506 45.5h0M501.8 47.3h0M506.4 53.1h0M513.5 49.6h0M508.2 53.5h0M512.9 51.6h0M506.5 48h0M505.3 52.1h0M507.2 57.7h0M505.3 50.2h0M509.6 55.2h0M504.9 43.6h0M505.7 41.5h0M501.4 43.1h0M497.2 65.7h0M499.8 72.7h0M501.4 72.8h0M503.8 63.7h0M504 71h0M59.1 222.7h0M60.7 221h0M62.9 223.9h0M64.6 223.2h0M65.3 219.2h0M62.8 221.5h0M64 222.8h0M65.1 223.8h0M61.1 222.4h0M65.4 219.3h0M59.5 222.8h0M66.8 218.7h0M58.7 224.4h0M63.9 227.2h0M90.3 182.7h0M95.3 187.5h0M96.1 187.8h0M97.2 181.3h0M94.4 188.2h0M89.8 188.7h0M93.5 185.5h0M87.9 178.8h0M97.9 184.3h0M87.8 184.1h0M102.8 181.4h0M98.9 179h0M98 182.7h0M91.1 178.3h0M97.9 182.3h0M85.8 183.9h0M86.8 182.5h0M92.8 184.7h0M101.1 182.3h0M103.1 183.5h0M83.9 182.3h0M102.5 186.5h0M97.2 188h0M97.7 187.9h0M91.7 181.4h0M93.2 180h0M99.3 189h0M84.1 180.6h0M92.2 190.7h0M95.6 178.9h0M87.4 182.7h0M97.9 181h0M89.7 188.8h0M132.6 204h0M136.7 207.7h0M131.1 206.3h0M132.9 204.2h0M132.2 210.6h0M132.6 203.6h0M127.2 202.3h0M138.7 204.4h0M119.1 204.3h0M125.9 201h0M122.8 198.7h0M121.6 198.3h0M133.4 205.3h0M132.5 209.5h0M135.8 199.9h0M121.5 199.4h0M133.4 197.6h0M134.4 204.6h0M123 202.2h0M125.4 201h0M119.5 203h0M132 206.6h0M124.8 198.5h0M132.8 206.7h0M123.1 208.9h0M122.9 205.8h0M127.6 203.4h0M126.5 202.8h0M121.5 226.1h0M119.7 225.9h0M121.5 231h0M123 228.1h0M121.7 227h0M123.6 226.6h0M126.7 227.2h0M120.3 227.8h0M123.1 227.4h0M118 222.1h0M118.6 228.8h0M123.6 227.1h0M121.3 231.9h0M115.8 223.6h0M114.7 226.6h0M123.1 228.2h0M123.6 231.3h0M121.7 221.1h0M115.1 226.5h0M123.1 224.3h0M115.2 226.8h0M255.4 224.5h0M248.9 226.6h0M254 227.9h0M253.4 220.5h0M245.6 225h0M250.1 219.2h0M249.6 221h0M250.4 219.2h0M249.6 228h0M250.8 227.7h0M252.9 228.3h0M249.6 228.2h0M254 225.5h0M249.5 221h0M251.1 223.1h0M246.3 226.2h0M247.2 224.9h0M254 225h0M246.3 223.7h0M251 229.6h0M273.5 178.5h0M271.1 185.1h0M280.9 189.2h0M287.3 186.3h0M279.6 188.8h0M282.7 178.1h0M273.3 188.9h0M280.5 192.3h0M270.7 186h0M271.3 186.1h0M288 183.7h0M269.9 184.6h0M281.8 186.3h0M289.4 184.7h0M283.7 182h0M274.7 190.4h0M313.1 206.1h0M318.6 201.3h0M315.2 199.1h0M319.6 194.1h0M319.2 195.1h0M320.6 198.2h0M316.4 202.5h0M319.3 190.3h0M313.2 206.5h0M313.9 206.7h0M317.9 191.5h0M320.6 203h0M307.2 201.3h0M325.4 199.8h0M310.5 195.6h0M316.8 191.7h0M321.4 195.1h0M309.4 194.4h0M307.2 200.8h0M320.7 200.4h0M322.1 199.6h0M309.9 226.3h0M306.2 225.1h0M306.9 225.6h0M305.7 224.2h0M306 230.5h0M313.7 224.9h0M305.8 226.4h0M305.5 226.8h0M305.6 220.8h0M309.1 230.9h0M304 225.4h0M308 223.7h0M316 225h0M312.3 220.8h0M315.9 223.4h0M310.3 223.5h0M310.1 228h0M315 224.5h0M308.3 227.3h0M435.1 230.8h0M440.8 226.6h0M441.5 224.5h0M443.9 224h0M446.3 231.3h0M442.9 224.8h0M445.6 231.1h0M440.8 225.6h0M445.2 222.9h0M439.8 222.4h0M439.5 231h0M446.5 227.4h0M441 222.2h0M444.3 233.1h0M443.7 230.7h0M448.5 227.5h0M441.3 225.7h0M439.1 220.5h0M443.4 219.5h0M439.4 231.6h0M440.5 223.4h0M436 222.2h0M459.4 192.4h0M457.1 186.7h0M457 188.7h0M462 191.8h0M471.6 189.2h0M465.5 191.5h0M463.9 181.9h0M465.8 192.8h0M471 186h0M463.5 193h0M461.1 193.3h0M463.1 183.3h0M459.4 185.7h0M462.6 183h0M458.5 185.3h0M463.1 181.8h0M456.4 184.9h0M468.7 194.3h0M468.7 188h0M460.1 184.6h0M466.6 193.3h0M469.2 193.6h0M457 187.2h0M468.4 183.3h0M462.4 189.3h0M462.7 180.1h0M466.8 184.6h0M470.3 194.2h0M487.7 172h0M480.5 172.9h0M481.1 171.9h0M485.2 174.3h0M479.5 184.1h0M481.9 183.5h0M482.6 179h0M480.3 180.6h0M482.1 180.1h0M482.8 183.8h0M502.5 200.3h0M506 196.2h0M499.2 198.2h0M504.8 193.8h0M501 209.2h0M503.7 195.7h0M503.5 211.3h0M500.8 196.7h0M503.9 194.2h0M507.2 207.5h0M497.8 202h0M503.6 204.3h0M510.3 205.4h0M505.2 210.7h0M497.8 198.9h0M498.5 194.9h0M503.9 196.1h0M504.4 212.3h0M506.6 200h0M501.8 199.8h0M507.6 196h0M509.4 203h0M511.8 199h0M509.1 210.3h0M495.7 205.2h0M495.6 203.4h0M500.6 211.8h0M497 203.5h0M495.9 207.1h0M499.6 209.8h0M497.3 200.1h0M497.2 196.8h0M497.9 199.1h0M505.2 209.2h0M508 199.8h0M506.3 210.8h0M507.6 199.5h0M506 197.1h0M495.9 219.2h0M496.5 218.6h0M492.7 216.7h0M494.9 217.1h0M487 221.2h0M490.8 223.4h0M493.3 219.3h0M491.1 228.9h0M493.4 222.3h0M492.9 216.4h0M490.9 227.5h0M496.6 219.9h0M495.1 220.4h0M487.8 223.1h0M491.6 220.5h0M489.5 219.9h0M491.7 225.7h0" stroke="#3f4cf0" stroke-width="2.4"/><path d="M56.1 59.7h0M59.9 56.2h0M56.4 59.2h0M59 65.8h0M54.2 63.2h0M60.1 61.3h0M58.9 66.4h0M62.2 61.6h0M250.3 66.7h0M247 61.1h0M244.3 65.2h0M250.3 64h0M244.6 61.8h0M249.3 60.1h0M243.1 62.8h0M442.9 72.3h0M433.8 58.3h0M436.3 57.3h0M439.8 72.3h0M436.5 68.5h0M431 64.9h0M438.8 75.2h0M442.6 67.2h0M439 66.1h0M438.7 75.1h0M444.4 61.7h0M433.3 68h0M436.2 64.8h0M439.9 68.8h0M441.7 73.7h0M441.6 68h0M63.5 216.1h0M59.2 222.3h0M60.6 225.2h0M61.7 227.8h0M246.4 224.3h0M250.2 220.8h0M250.7 220.8h0M248.4 224.1h0M250.4 227.6h0M434.4 221.9h0M436.4 224.3h0M440.9 223.6h0M436.7 220.8h0M436.2 225.9h0M437.4 224.4h0M440.5 223.6h0M441.9 233.7h0M445.6 222.4h0M441.9 225.9h0" stroke="#5a40e8" stroke-width="2.4"/><path d="M84.1 81h0M91 75.3h0M87.1 79.4h0M88.3 75.8h0M79.2 84.3h0M73.5 74.2h0M82.3 76.8h0M76.3 83.7h0M80.3 83.9h0M81.2 73h0M80 78.7h0M73.5 78.7h0M81.2 80.9h0M81 78.7h0M76.7 73.1h0" stroke="#3a80f0" stroke-width="1.6"/><path d="M72.7 79h0M90.5 77h0M87.8 76.4h0M84 83.5h0M81 81h0M86.1 78.2h0M81.3 85.2h0M83.2 75.9h0M83 70.1h0M78.4 76.9h0M76.6 81.7h0M85.2 84.9h0M82.3 83.5h0M79.9 84.3h0M77.2 85h0M282.2 67.8h0M278.8 66.7h0M280.5 71.7h0M274 73.4h0M270.6 78.3h0M264.7 76.8h0M287.2 72.2h0M270.5 76.6h0M284.8 77.7h0M272.1 76.2h0M265 76.2h0M270 77.6h0M266.5 72h0M281.3 67.2h0M286.7 72.4h0M279.3 65.3h0M274.9 73.4h0M267.2 72h0M274.3 64.5h0M269.5 68.6h0M267.1 71.4h0M273.2 67.2h0M286.9 73.5h0M280.7 74.5h0M272.1 67.6h0M281.9 65.7h0M282.1 78.6h0M276.9 72.6h0M277.8 76.8h0M283.2 73.6h0M267.7 78.3h0M273.8 68.9h0M277.4 78.9h0M265.2 76.5h0M273.7 66.9h0M271.7 74.2h0M277.9 77.1h0M272.6 79.1h0M281.6 66.4h0M285.7 68.5h0M279.9 65.6h0M268.4 77.8h0M271.8 76.9h0M273.7 69.5h0M281.9 71.1h0M277.1 77.8h0M270.7 72.2h0M284.5 77.6h0M275.1 71.5h0M279.5 77.7h0M285.7 75.6h0M280.4 66.3h0M270 68h0M276.5 66.8h0M281.9 74.3h0M272.8 67.1h0M271.1 65.5h0M280.3 67.1h0M273 75.1h0M264.4 76h0M284.3 76.3h0M273.7 74.9h0M268.7 69.2h0M280.3 73.4h0M272.8 66h0M280.7 68.7h0M282.4 67.4h0M273.8 65.3h0M269.1 70.5h0M274.3 71.1h0M265.9 75.8h0M280.3 67.7h0M282.7 70.1h0M274.1 72.9h0M268.6 73.6h0M278.4 67.4h0M277.1 68.6h0M275.1 76.2h0M267.7 55.1h0M266.8 56h0M83.8 227.1h0M93.7 222.9h0M86.4 238.1h0M96.1 224.3h0M90.9 228.1h0M96.1 230.6h0M89.8 237.9h0M80.6 233h0M88 230.4h0M98.2 233.1h0M86.3 236.5h0M80.2 233h0M83.2 229.2h0M88.4 225.4h0M98.2 234.4h0M82.5 236.9h0M88.5 224.5h0M94 227.4h0M91.9 234.8h0M82.4 229.3h0M82.5 231.9h0M85.3 233.1h0M93.2 231.5h0M88 229.2h0M87.9 231.5h0M82.5 232.7h0M93.3 224.9h0M97.7 232.4h0M96.7 225.4h0M278.4 229.5h0M271.1 224.1h0M278.8 222.9h0M271.1 230.6h0M273.1 224.8h0M272.7 222.5h0M275.5 225.4h0M282.1 235.1h0M279.4 227.3h0M271.1 232.9h0M265.3 229.4h0M285 233.6h0M273.1 227.4h0M287.9 224.4h0M268.6 228.4h0M283.9 224.5h0M283 231.9h0M276.5 226.9h0M275.7 223.3h0M286.5 223.8h0M272.9 226.5h0M281.8 228.2h0M274.3 228.8h0M290.1 228.6h0M282.3 226.7h0M267.9 228.8h0M271.4 231.9h0M276 232.8h0M273.6 228.1h0M457.4 239.9h0M459.9 239.3h0M458.3 241.5h0M459.3 235.9h0M459.9 235.6h0M454.1 238.4h0M465.8 239h0M470 237.8h0M460.2 234.9h0M474.9 237.7h0M457.2 240.6h0M457.4 235.7h0M474.3 231.6h0M466.3 237.8h0M464.6 229.8h0M468.1 234.1h0M478.6 234.9h0M464.2 241.4h0M467.5 227.4h0M464.2 229.5h0M460.4 195.9h0M453.8 200.1h0M451.7 197h0M451.5 198.7h0M459.7 200.5h0" stroke="#2e8cf4" stroke-width="2.4"/><path d="M112.2 21.1h0M110.7 21.6h0M112.9 19.8h0M112.1 18h0M112.4 21.1h0M109.8 21.1h0M296.9 21.1h0M296.4 19.8h0M298.8 17.7h0M300.7 19.1h0M298.9 17.4h0M298.6 17.8h0M297.1 18.3h0M300.4 20.7h0M300 18.1h0M484.2 21h0M483.3 17.8h0M481 22.2h0M481.2 22.2h0M483.7 21.3h0M479.3 20.2h0M481 21.9h0M482.8 17.3h0M112.3 175h0M109 173h0M109.5 174.6h0M112.1 171.9h0M111.4 171.5h0M112.2 175h0M109 174.3h0M108.9 174.1h0M113.1 173.2h0M299 176.8h0M296.7 174.4h0M297.3 173.2h0M298.1 173h0M301 175.8h0M296.6 175.4h0M471.4 175.3h0M468.8 177.9h0M471.3 179.5h0M472.7 178.8h0M470.2 179.6h0" stroke="#b4e890" stroke-width="1.2"/><path d="M111.6 21.8h0M109.2 20.3h0M109.6 21.3h0M111.3 21.5h0M109.5 18.5h0M113.2 19.7h0M109.5 18.4h0M110.6 17.7h0M112.7 20.7h0M296.9 18.5h0M298 21.3h0M300.6 20.2h0M296.5 19.3h0M297.7 18h0M300 21.4h0M297 21.2h0M483.1 22.1h0M479.5 21h0M484.2 18.9h0M480.1 21.2h0M479.8 21.2h0M484.5 19.3h0M479.7 19.3h0M479.9 20.8h0M483.9 20.8h0M484.1 21.1h0M481 17.5h0M112.7 172.2h0M109.6 171.8h0M109.2 174.7h0M110.1 171.5h0M113.1 172.8h0M109.6 171.9h0M297.9 176.4h0M301.3 174.7h0M300.3 173h0M299.5 176.6h0M297.4 173h0M296.7 174.2h0M301.3 174.8h0M299.2 172.9h0M297.7 172.9h0M300.7 175.3h0M471.8 179.6h0M473 177.6h0M469.8 179.5h0M469 177.9h0M472.5 179.4h0M469 176.1h0M473.4 177.8h0M471.8 175.4h0M469 176.9h0M472.9 178.6h0M469.6 179.3h0M469.1 176.6h0" stroke="#b4e890" stroke-width="1.6"/><path d="M118.6 21.9h0M121.2 21.9h0M122.3 21.1h0M120.3 18.6h0M118.6 19h0M122 21.3h0M122.1 20.4h0M308 19.4h0M308.5 19h0M306.7 20.1h0M310.8 20.6h0M307.9 19h0M310.9 20.9h0M310.6 20.6h0M460.4 12.8h0M457.7 14.3h0M458.1 15.4h0M458.4 15.8h0M458.2 15.7h0M457.7 14.1h0M496.2 21.6h0M495.3 24.3h0M492.3 21h0M495.1 20.6h0M493.2 24.8h0M496.3 22.1h0M495.1 20.8h0M492.2 20.9h0M126.6 173.5h0M122.6 175.3h0M126.6 174.6h0M123.8 175.8h0M126.5 174.9h0M126 173.2h0M305.9 176.8h0M306.1 177h0M308.1 175.5h0M308.9 175.5h0M306.6 175.9h0M309.5 177.7h0M308.2 178h0M307.9 177.9h0M494.3 178.6h0M493.1 179.2h0M494.7 178.1h0M491.4 179h0M491.2 178.4h0M490.3 177.5h0M494.2 175.7h0" stroke="#4262f0" stroke-width="1.2"/><path d="M122 19.7h0M117.9 21.1h0M122.4 20.6h0M118.2 19.6h0M119.7 18.6h0M122.2 20.1h0M118.4 19.2h0M119.2 22h0M307 19.7h0M309.1 19.2h0M307.8 22.7h0M309.2 22.4h0M310.3 20.1h0M309.6 22.8h0M310.4 19.7h0M306.9 19.6h0M442.9 25.7h0M439.1 28.9h0M437 22.3h0M440.2 19.1h0M436 26.8h0M440.2 22.4h0M446.3 24.5h0M443.1 27.7h0M446.1 24.8h0M443.8 24.3h0M444.4 29.9h0M443.4 22h0M439.2 25.6h0M439.1 28h0M441.9 24.3h0M436.3 28.2h0M501.8 18.4h0M491 19.4h0M496.9 26.8h0M499.8 21.1h0M492.4 28h0M492.5 24.8h0M499.9 21.7h0M503.2 19.7h0M483.7 20.3h0M461.2 15.2h0M461 15.3h0M461.5 13.8h0M458.6 16h0M460.9 15.4h0M460.8 13.3h0M457.9 13.3h0M459.5 16.2h0M496.2 22.5h0M492.3 24.7h0M495.6 21.7h0M495.7 21.4h0M495.9 23.7h0M494.9 20.6h0M496 21.6h0M491.6 23.5h0M492.4 24.7h0M493.5 24.8h0M124.9 175.8h0M124.6 176h0M123.8 176h0M126.1 173.2h0M124.7 176h0M126.4 175h0M126.6 175.1h0M123.7 172.8h0M310.2 176.6h0M305.8 176.4h0M308.4 175.4h0M305.8 176.5h0M308.8 175.6h0M494.1 175.8h0M494.4 176.4h0M491.9 178.9h0M494.6 176.2h0M491.1 178.2h0M490.7 176.9h0M490.8 176.7h0M492.5 175.4h0" stroke="#4262f0" stroke-width="1.6"/><path d="M273.8 13.4h0M436.9 20.6h0M54.5 210.1h0M59.3 224.1h0M287.6 236.6h0M286.6 233.3h0M506.9 219.9h0M454.8 188.1h0M491.2 223.5h0" stroke="#80f0b0" stroke-width="0.8"/><path d="M307.3 29.6h0M451.4 83.9h0M135.2 225.4h0" stroke="#38d0d8" stroke-width="0.8"/><path d="M275.6 68.2h0M282.5 70.7h0M263.9 74.9h0M273.3 68.2h0M263.5 76.2h0M275.7 64.6h0M273.7 70.3h0M273.8 73.1h0M278.5 69.9h0M272.4 79.5h0M273.6 71.6h0M269.3 72.6h0M283.2 67.1h0M275.8 68.3h0M280.5 71.5h0M275.9 65.9h0M286 69.2h0M275.3 73.1h0M275.2 67.8h0M277 74.5h0M275.2 70.8h0M284.2 76.4h0M269.2 67.9h0M263.3 69.6h0M281 72.2h0M270.5 75.1h0M264.1 73.4h0M265.9 72h0M273.4 66.8h0M285.9 70.2h0M273.9 66.8h0M263.3 74.8h0" stroke="#3a80f0" stroke-width="2.4"/><path d="M480.4 13.9h0M144.5 206.9h0M133.6 215.8h0M146.4 197h0M275.3 236.5h0" stroke="#94f29c" stroke-width="0.8"/><path d="M466.5 74.4h0M453.1 73.3h0M450 78.1h0M462.2 72.8h0M447.9 78.1h0M464 77.8h0M452.5 75.7h0M448.7 81.3h0M472.8 75.1h0M462.9 76.9h0M474.1 79.8h0M464.1 76.2h0M460.3 77.6h0M470.5 81.2h0M473.5 76.2h0M462.6 83h0M471.8 84.1h0M465.6 84.6h0" stroke="#3a80f0" stroke-width="2"/><path d="M133 185.7h0M82.7 219.7h0" stroke="#40c0e0" stroke-width="0.8"/><path d="M267.9 168h0M498.7 205.3h0" stroke="#94f29c" stroke-width="2"/><path d="M320.5 178.3h0M320.4 183h0M321 179.6h0" stroke="#40b0f0" stroke-width="2.4"/></g>
<g filter="url(#rough)"><ellipse cx="116.5" cy="84.5" rx="0.8" ry="0.8" fill="#3f4cf0"/><ellipse cx="104.5" cy="8.5" rx="1.3" ry="0.8" fill="#6c1cf0" transform="rotate(-30 104.5 8.5)"/><ellipse cx="72" cy="20.7" rx="3.6" ry="1.7" fill="#3f4cf0"/><ellipse cx="69.7" cy="25.5" rx="1.3" ry="2.1" fill="#3f4cf0"/><ellipse cx="71.6" cy="32" rx="3.3" ry="2.9" fill="#3f4cf0"/><ellipse cx="82.5" cy="27.5" rx="3.1" ry="5.6" fill="#3f4cf0"/><ellipse cx="84" cy="32.5" rx="3.8" ry="3.3" fill="#3f4cf0"/><ellipse cx="92.5" cy="23" rx="4.5" ry="4.2" fill="#3f4cf0"/><ellipse cx="89" cy="18.5" rx="2.3" ry="1.8" fill="#3f4cf0"/><ellipse cx="93.7" cy="36" rx="3.6" ry="2.8" fill="#94f29c"/><ellipse cx="92.7" cy="11.8" rx="2" ry="1.3" fill="#2e8cf4"/><ellipse cx="103.2" cy="48.1" rx="9.9" ry="8.3" fill="#2e8cf4"/><ellipse cx="83" cy="45" rx="5.6" ry="5.1" fill="#2e8cf4"/><ellipse cx="105.9" cy="32.9" rx="4.3" ry="3.5" fill="#2898f0"/><ellipse cx="117.4" cy="40.8" rx="4.9" ry="3.9" fill="#2898f0"/><ellipse cx="101.3" cy="17.1" rx="2" ry="1.9" fill="#38d0d8"/><ellipse cx="111" cy="19.7" rx="2.2" ry="2" fill="#b4e890"/><ellipse cx="106.5" cy="25" rx="3.3" ry="1.9" fill="#80f0b0"/><ellipse cx="117" cy="29.6" rx="3.3" ry="2.6" fill="#6c1cf0"/><ellipse cx="120" cy="20.4" rx="2.3" ry="1.9" fill="#4262f0"/><ellipse cx="126.6" cy="25.6" rx="1.6" ry="1.3" fill="#94f29c"/><ellipse cx="127" cy="35" rx="3.9" ry="3.2" fill="#2e8cf4"/><ellipse cx="133.5" cy="29.6" rx="1.3" ry="1.3" fill="#2898f0"/><ellipse cx="140" cy="28.6" rx="0.8" ry="0.9" fill="#6c1cf0"/><ellipse cx="142" cy="40.7" rx="2.6" ry="2" fill="#40b0f0"/><ellipse cx="131" cy="49" rx="6" ry="5.6" fill="#3f4cf0"/><ellipse cx="118.5" cy="52" rx="3.1" ry="3.3" fill="#3f4cf0"/><ellipse cx="88.7" cy="57.4" rx="5.5" ry="4.7" fill="#94f29c"/><ellipse cx="74" cy="53.5" rx="4.3" ry="3.6" fill="#80f0b0"/><ellipse cx="63.7" cy="45.7" rx="2" ry="1" fill="#94f29c"/><ellipse cx="67" cy="62.7" rx="1.9" ry="1.6" fill="#38d0d8"/><ellipse cx="77" cy="61.5" rx="3.9" ry="1.3" fill="#3f4cf0" transform="rotate(-35 77 61.5)"/><ellipse cx="81.8" cy="66.6" rx="3.5" ry="2.9" fill="#2e8cf4"/><ellipse cx="96" cy="70.3" rx="3.9" ry="4" fill="#2e8cf4"/><ellipse cx="102.4" cy="62" rx="3" ry="2.9" fill="#2e8cf4"/><ellipse cx="111.5" cy="62.8" rx="2.3" ry="2.2" fill="#2e8cf4"/><ellipse cx="107.7" cy="71" rx="4" ry="3.3" fill="#2e8cf4"/><ellipse cx="124.3" cy="60.7" rx="2.6" ry="1.6" fill="#38d0d8"/><ellipse cx="133.7" cy="62" rx="3" ry="2.3" fill="#6c1cf0"/><ellipse cx="119.7" cy="69" rx="3.3" ry="3.3" fill="#3f4cf0"/><ellipse cx="117.7" cy="76.8" rx="3.3" ry="2.5" fill="#3f4cf0"/><ellipse cx="126.3" cy="74.6" rx="2" ry="1.6" fill="#3f4cf0"/><ellipse cx="142" cy="54.7" rx="1.3" ry="1" fill="#40b0f0"/><ellipse cx="256" cy="28.2" rx="3.3" ry="3.1" fill="#3f4cf0"/><ellipse cx="272" cy="31.5" rx="7.1" ry="3.8" fill="#3f4cf0"/><ellipse cx="268.5" cy="22" rx="3.5" ry="3.1" fill="#3f4cf0"/><ellipse cx="277.5" cy="14" rx="5.1" ry="1.6" fill="#3f4cf0" transform="rotate(-10 277.5 14)"/><ellipse cx="280.5" cy="20.4" rx="2.3" ry="1.6" fill="#80f0b0"/><ellipse cx="279.5" cy="42" rx="5.1" ry="4.5" fill="#94f29c"/><ellipse cx="289" cy="36" rx="2.9" ry="2.5" fill="#94f29c"/><ellipse cx="265.5" cy="44" rx="5.3" ry="4.9" fill="#2e8cf4"/><ellipse cx="285.8" cy="9.6" rx="1.6" ry="1.5" fill="#2e8cf4"/><ellipse cx="289.5" cy="16.3" rx="2.3" ry="1.9" fill="#38d0d8"/><ellipse cx="298.7" cy="19.6" rx="2.3" ry="2.1" fill="#b4e890"/><ellipse cx="308.6" cy="20.9" rx="2.3" ry="1.9" fill="#4262f0"/><ellipse cx="289.6" cy="25.6" rx="3.6" ry="3" fill="#2898f0"/><ellipse cx="304.6" cy="30.2" rx="2.8" ry="2.6" fill="#6c1cf0"/><ellipse cx="301" cy="40.8" rx="3.9" ry="4.1" fill="#2898f0"/><ellipse cx="316.5" cy="42" rx="6.3" ry="6" fill="#3f4cf0"/><ellipse cx="328.5" cy="38" rx="1.6" ry="1.8" fill="#40b0f0"/><ellipse cx="324" cy="26" rx="0.8" ry="0.8" fill="#6c1cf0"/><ellipse cx="290.5" cy="52.3" rx="8.1" ry="6.7" fill="#2e8cf4"/><ellipse cx="280.5" cy="60.5" rx="4.3" ry="2.7" fill="#2e8cf4" transform="rotate(-30 280.5 60.5)"/><ellipse cx="306" cy="54.8" rx="3.5" ry="2.9" fill="#2898f0"/><ellipse cx="323.7" cy="52.2" rx="3.5" ry="1.6" fill="#80f0b0"/><ellipse cx="317" cy="58.8" rx="2.2" ry="2.3" fill="#6c1cf0"/><ellipse cx="325.7" cy="59.4" rx="1.5" ry="0.9" fill="#40b0f0"/><ellipse cx="311.7" cy="62.7" rx="4.6" ry="2.2" fill="#38d0d8"/><ellipse cx="304.6" cy="69.3" rx="4.8" ry="4.4" fill="#3f4cf0"/><ellipse cx="291" cy="65.8" rx="4.1" ry="2.3" fill="#2e8cf4"/><ellipse cx="284.5" cy="73" rx="4.3" ry="2.9" fill="#2e8cf4"/><ellipse cx="293" cy="72.3" rx="1.6" ry="1.9" fill="#3f4cf0"/><ellipse cx="257.7" cy="64.3" rx="1.8" ry="2.6" fill="#3f4cf0"/><ellipse cx="257" cy="72.3" rx="1.3" ry="1.3" fill="#3f4cf0"/><ellipse cx="257" cy="53.5" rx="4.5" ry="3.5" fill="#80f0b0"/><ellipse cx="264.7" cy="61.3" rx="1.7" ry="1.6" fill="#38d0d8"/><ellipse cx="306.6" cy="79.8" rx="1" ry="1" fill="#3f4cf0"/><ellipse cx="451.2" cy="19.1" rx="2.3" ry="2.5" fill="#80f0b0"/><ellipse cx="467.3" cy="18.7" rx="1.9" ry="1.7" fill="#38d0d8"/><ellipse cx="459.5" cy="14.4" rx="2" ry="1.9" fill="#4262f0"/><ellipse cx="460.7" cy="21" rx="2" ry="1.9" fill="#3f4cf0"/><ellipse cx="462.5" cy="30.5" rx="4.3" ry="4.3" fill="#3f4cf0"/><ellipse cx="445.6" cy="33.5" rx="3.3" ry="3.3" fill="#3f4cf0"/><ellipse cx="471.2" cy="42.5" rx="8.9" ry="8.1" fill="#2e8cf4"/><ellipse cx="445" cy="49" rx="4.3" ry="3.9" fill="#80f0b0"/><ellipse cx="473" cy="12.8" rx="4.8" ry="2.1" fill="#3f4cf0"/><ellipse cx="474" cy="22" rx="1.8" ry="3.3" fill="#3f4cf0"/><ellipse cx="481.9" cy="19.7" rx="2.6" ry="2.6" fill="#b4e890"/><ellipse cx="479.9" cy="30.6" rx="3.9" ry="3.6" fill="#94f29c"/><ellipse cx="493.7" cy="22.7" rx="2.6" ry="2.3" fill="#4262f0"/><ellipse cx="489.7" cy="16.1" rx="2.5" ry="1" fill="#2e8cf4"/><ellipse cx="502" cy="19.3" rx="2.3" ry="1.6" fill="#2898f0"/><ellipse cx="493.7" cy="32" rx="3.3" ry="2.3" fill="#6c1cf0"/><ellipse cx="502.3" cy="33.9" rx="2" ry="2.2" fill="#80f0b0"/><ellipse cx="516.4" cy="34.9" rx="2.3" ry="1.9" fill="#40b0f0"/><ellipse cx="512.7" cy="39.8" rx="1.5" ry="4.3" fill="#6c1cf0" transform="rotate(-35 512.7 39.8)"/><ellipse cx="491" cy="43" rx="6.5" ry="5.6" fill="#2898f0"/><ellipse cx="507" cy="50.5" rx="3.8" ry="4.3" fill="#3f4cf0"/><ellipse cx="457.5" cy="55.5" rx="7.3" ry="6.3" fill="#2e8cf4"/><ellipse cx="475.3" cy="58.8" rx="5.3" ry="4.3" fill="#94f29c"/><ellipse cx="487.8" cy="55.1" rx="3.9" ry="3.2" fill="#2e8cf4"/><ellipse cx="484.8" cy="63.7" rx="2.9" ry="2" fill="#2e8cf4"/><ellipse cx="499" cy="67" rx="4.8" ry="4.8" fill="#3f4cf0"/><ellipse cx="479.9" cy="72.2" rx="3.9" ry="3.3" fill="#2e8cf4"/><ellipse cx="491.3" cy="76.9" rx="3.6" ry="3.2" fill="#38d0d8"/><ellipse cx="446.9" cy="63.3" rx="2" ry="1.6" fill="#38d0d8"/><ellipse cx="456.5" cy="68" rx="3.6" ry="3.6" fill="#2e8cf4"/><ellipse cx="467.3" cy="68" rx="4.6" ry="3.6" fill="#2e8cf4"/><ellipse cx="476.9" cy="65" rx="1.6" ry="0.8" fill="#3f4cf0"/><ellipse cx="484.5" cy="80.5" rx="1.3" ry="0.8" fill="#3f4cf0"/><ellipse cx="79.9" cy="178" rx="3.6" ry="2.6" fill="#3f4cf0"/><ellipse cx="85.5" cy="172" rx="0.9" ry="3.8" fill="#3f4cf0" transform="rotate(30 85.5 172)"/><ellipse cx="89.5" cy="170.5" rx="0.9" ry="3.3" fill="#3f4cf0" transform="rotate(30 89.5 170.5)"/><ellipse cx="93" cy="183" rx="4.9" ry="4.9" fill="#3f4cf0"/><ellipse cx="101" cy="183" rx="2.8" ry="4.3" fill="#3f4cf0"/><ellipse cx="71" cy="190.5" rx="3.3" ry="2.6" fill="#3f4cf0"/><ellipse cx="83.2" cy="198" rx="4.9" ry="5.6" fill="#2e8cf4"/><ellipse cx="101.6" cy="197" rx="8.3" ry="7.3" fill="#2e8cf4"/><ellipse cx="99" cy="171.7" rx="1.8" ry="1.6" fill="#38d0d8"/><ellipse cx="105" cy="167.7" rx="2.3" ry="1.6" fill="#2e8cf4"/><ellipse cx="110.9" cy="173.4" rx="2.3" ry="1.9" fill="#b4e890"/><ellipse cx="109.8" cy="181.3" rx="2.6" ry="2" fill="#80f0b0"/><ellipse cx="118.6" cy="181" rx="2.9" ry="2.9" fill="#6c1cf0"/><ellipse cx="124.6" cy="174.4" rx="2.3" ry="1.6" fill="#4262f0"/><ellipse cx="127.3" cy="182.6" rx="2.3" ry="1.3" fill="#94f29c"/><ellipse cx="114.8" cy="189.2" rx="4.3" ry="3.3" fill="#2898f0"/><ellipse cx="127" cy="191.8" rx="4" ry="3.3" fill="#2e8cf4"/><ellipse cx="141.8" cy="190.2" rx="2.3" ry="2.3" fill="#40b0f0"/><ellipse cx="139.7" cy="183.5" rx="1" ry="0.8" fill="#6c1cf0"/><ellipse cx="118" cy="199" rx="4.3" ry="3.9" fill="#2898f0"/><ellipse cx="131.5" cy="205.5" rx="4.2" ry="4.2" fill="#3f4cf0"/><ellipse cx="121" cy="209" rx="4.8" ry="2.9" fill="#3f4cf0"/><ellipse cx="68.4" cy="208" rx="3.9" ry="3.6" fill="#2e8cf4"/><ellipse cx="79.3" cy="210.8" rx="3.9" ry="3.9" fill="#80f0b0"/><ellipse cx="92" cy="210.2" rx="4.6" ry="3.9" fill="#94f29c"/><ellipse cx="106" cy="210.3" rx="3.9" ry="2.6" fill="#94f29c"/><ellipse cx="83.8" cy="218.3" rx="3.6" ry="1.6" fill="#3f4cf0"/><ellipse cx="74" cy="220.3" rx="1.6" ry="1.6" fill="#38d0d8"/><ellipse cx="95.7" cy="221.3" rx="3.6" ry="3.3" fill="#2e8cf4"/><ellipse cx="115" cy="214.5" rx="3.3" ry="2.3" fill="#2e8cf4"/><ellipse cx="107" cy="219.7" rx="3.1" ry="2.9" fill="#2e8cf4"/><ellipse cx="105.8" cy="227.3" rx="4.5" ry="2.6" fill="#2e8cf4"/><ellipse cx="125.3" cy="217.7" rx="2.3" ry="2.2" fill="#38d0d8"/><ellipse cx="134.2" cy="217" rx="2.6" ry="2.3" fill="#6c1cf0"/><ellipse cx="121" cy="227" rx="4.2" ry="4.2" fill="#3f4cf0"/><ellipse cx="143" cy="206.3" rx="1" ry="0.8" fill="#40b0f0"/><ellipse cx="140.7" cy="213.2" rx="1.3" ry="0.9" fill="#40b0f0"/><ellipse cx="113" cy="236.7" rx="1.3" ry="1" fill="#94f29c"/><ellipse cx="119.3" cy="238.3" rx="1" ry="1" fill="#3f4cf0"/><ellipse cx="263.3" cy="183.3" rx="2.9" ry="2.6" fill="#3f4cf0"/><ellipse cx="257.6" cy="191.5" rx="3.3" ry="2.9" fill="#3f4cf0"/><ellipse cx="279.5" cy="184" rx="6.3" ry="5.7" fill="#3f4cf0"/><ellipse cx="268" cy="176.7" rx="0.8" ry="3.3" fill="#3f4cf0" transform="rotate(30 268 176.7)"/><ellipse cx="278.8" cy="171" rx="2.3" ry="2.3" fill="#80f0b0"/><ellipse cx="284.5" cy="166" rx="1.8" ry="1.6" fill="#2e8cf4"/><ellipse cx="290.6" cy="171.1" rx="2.6" ry="1.6" fill="#38d0d8"/><ellipse cx="298.8" cy="174.7" rx="2.3" ry="2" fill="#b4e890"/><ellipse cx="308" cy="176.7" rx="2.3" ry="1.3" fill="#4262f0"/><ellipse cx="295" cy="182.6" rx="4.3" ry="3.3" fill="#2898f0"/><ellipse cx="288.6" cy="177.3" rx="2.6" ry="0.8" fill="#3f4cf0"/><ellipse cx="306" cy="184" rx="2.9" ry="2.6" fill="#6c1cf0"/><ellipse cx="315.6" cy="186.9" rx="1.9" ry="1.6" fill="#80f0b0"/><ellipse cx="299.7" cy="192.2" rx="3.3" ry="2.9" fill="#94f29c"/><ellipse cx="316" cy="198" rx="5.8" ry="6.2" fill="#3f4cf0"/><ellipse cx="328" cy="189" rx="2.6" ry="1.1" fill="#40b0f0"/><ellipse cx="268" cy="199" rx="5.1" ry="5.8" fill="#2e8cf4"/><ellipse cx="285.5" cy="200.5" rx="8.3" ry="8.3" fill="#2e8cf4"/><ellipse cx="301.7" cy="203.5" rx="4.6" ry="4.3" fill="#2898f0"/><ellipse cx="252.7" cy="209" rx="4.3" ry="3.3" fill="#2e8cf4"/><ellipse cx="264.9" cy="209.8" rx="3.9" ry="3.5" fill="#80f0b0"/><ellipse cx="274.5" cy="210.2" rx="2.3" ry="2.5" fill="#2e8cf4"/><ellipse cx="281" cy="216.3" rx="4.3" ry="3.6" fill="#2e8cf4"/><ellipse cx="262.6" cy="219.1" rx="2.3" ry="1.6" fill="#38d0d8"/><ellipse cx="270" cy="217.7" rx="2.2" ry="2.3" fill="#3f4cf0"/><ellipse cx="292" cy="213" rx="4.6" ry="3.6" fill="#94f29c"/><ellipse cx="310" cy="209" rx="4.3" ry="3.6" fill="#2e8cf4"/><ellipse cx="320.5" cy="213" rx="2.3" ry="2.3" fill="#6c1cf0"/><ellipse cx="307.6" cy="216.5" rx="3.9" ry="2.3" fill="#38d0d8"/><ellipse cx="309" cy="226" rx="4.5" ry="3.5" fill="#3f4cf0"/><ellipse cx="294" cy="221.3" rx="3.9" ry="2" fill="#2e8cf4"/><ellipse cx="295.5" cy="227" rx="2.3" ry="0.9" fill="#3f4cf0"/><ellipse cx="260.3" cy="226" rx="1.3" ry="1.3" fill="#3f4cf0"/><ellipse cx="327.4" cy="207.8" rx="1.3" ry="1" fill="#40b0f0"/><ellipse cx="466.6" cy="171.4" rx="2" ry="1.9" fill="#38d0d8"/><ellipse cx="455.2" cy="175.7" rx="2.3" ry="2.3" fill="#80f0b0"/><ellipse cx="471" cy="177.5" rx="2.3" ry="2.3" fill="#b4e890"/><ellipse cx="450.3" cy="185.3" rx="3.3" ry="2.6" fill="#3f4cf0"/><ellipse cx="444.3" cy="193.5" rx="3.3" ry="2.3" fill="#3f4cf0"/><ellipse cx="464.6" cy="187.8" rx="5.6" ry="5.1" fill="#3f4cf0"/><ellipse cx="474.6" cy="170.1" rx="1.9" ry="1.9" fill="#2e8cf4"/><ellipse cx="484.2" cy="173.7" rx="2.1" ry="2.1" fill="#3f4cf0"/><ellipse cx="492.7" cy="177.3" rx="2.3" ry="1.9" fill="#4262f0"/><ellipse cx="479.3" cy="188.2" rx="3.3" ry="2.9" fill="#94f29c"/><ellipse cx="491.3" cy="186.6" rx="2.3" ry="2.6" fill="#6c1cf0"/><ellipse cx="500.9" cy="190.6" rx="1.9" ry="1.9" fill="#80f0b0"/><ellipse cx="514.7" cy="192.8" rx="2" ry="1.6" fill="#40b0f0"/><ellipse cx="501.9" cy="175.7" rx="1.6" ry="1.6" fill="#40b0f0"/><ellipse cx="472.3" cy="200.3" rx="8.3" ry="7.8" fill="#2e8cf4"/><ellipse cx="490" cy="198.4" rx="5.5" ry="5.3" fill="#2898f0"/><ellipse cx="504" cy="202" rx="4.5" ry="4.5" fill="#3f4cf0"/><ellipse cx="439.4" cy="208.5" rx="4.3" ry="3.6" fill="#2e8cf4"/><ellipse cx="455.8" cy="205" rx="6.8" ry="6.3" fill="#2e8cf4"/><ellipse cx="450" cy="217.5" rx="3.6" ry="3.3" fill="#80f0b0"/><ellipse cx="463.8" cy="217.1" rx="3.6" ry="2.9" fill="#2e8cf4"/><ellipse cx="476.5" cy="215.7" rx="5.8" ry="4.3" fill="#94f29c"/><ellipse cx="485.4" cy="210.5" rx="2.9" ry="2.3" fill="#2e8cf4"/><ellipse cx="494" cy="213.8" rx="3.6" ry="2.9" fill="#2e8cf4"/><ellipse cx="510.5" cy="213.1" rx="2.3" ry="2.3" fill="#6c1cf0"/><ellipse cx="493" cy="223" rx="4.2" ry="3.8" fill="#3f4cf0"/><ellipse cx="479.5" cy="223.6" rx="4.8" ry="2.9" fill="#2e8cf4"/><ellipse cx="488.8" cy="230.6" rx="3" ry="2.6" fill="#38d0d8"/><ellipse cx="509.5" cy="220.4" rx="1.3" ry="1" fill="#40b0f0"/><ellipse cx="468.5" cy="226.6" rx="2.8" ry="3.3" fill="#2e8cf4"/><ellipse cx="453.2" cy="226.3" rx="2.3" ry="1" fill="#38d0d8"/><ellipse cx="459.8" cy="225.3" rx="1.6" ry="1.3" fill="#3f4cf0"/></g>
<g class="tk"><text x="54.6" y="98.4" text-anchor="middle">−40</text><text x="77" y="98.4" text-anchor="middle">−20</text><text x="99.2" y="98.4" text-anchor="middle">0</text><text x="122.4" y="98.4" text-anchor="middle">20</text><text x="145.6" y="98.4" text-anchor="middle">40</text><text x="45.5" y="10.9" text-anchor="end">40</text><text x="45.5" y="30.7" text-anchor="end">20</text><text x="45.5" y="50.4" text-anchor="end">0</text><text x="45.5" y="70.1" text-anchor="end">−20</text><text x="45.5" y="89.8" text-anchor="end">−40</text><text x="242" y="98.3" text-anchor="middle">−40</text><text x="264" y="98.3" text-anchor="middle">−20</text><text x="286.2" y="98.3" text-anchor="middle">0</text><text x="308.4" y="98.3" text-anchor="middle">20</text><text x="330" y="98.3" text-anchor="middle">40</text><text x="231.6" y="10.5" text-anchor="end">40</text><text x="231.6" y="30.1" text-anchor="end">20</text><text x="231.6" y="49.7" text-anchor="end">0</text><text x="231.6" y="69.5" text-anchor="end">−20</text><text x="231.6" y="89.1" text-anchor="end">−40</text><text x="427" y="98.3" text-anchor="middle">−40</text><text x="449.9" y="98.3" text-anchor="middle">−20</text><text x="473.1" y="98.3" text-anchor="middle">0</text><text x="496.2" y="98.3" text-anchor="middle">20</text><text x="518.9" y="98.3" text-anchor="middle">40</text><text x="419.2" y="10.7" text-anchor="end">40</text><text x="419.2" y="30.4" text-anchor="end">20</text><text x="419.2" y="50.4" text-anchor="end">0</text><text x="419.2" y="70.1" text-anchor="end">−20</text><text x="419.2" y="90.1" text-anchor="end">−40</text><text x="54.2" y="253.2" text-anchor="middle">−40</text><text x="77.1" y="253.2" text-anchor="middle">−20</text><text x="100.4" y="253.2" text-anchor="middle">0</text><text x="123.6" y="253.2" text-anchor="middle">20</text><text x="146.9" y="253.2" text-anchor="middle">40</text><text x="45.8" y="165" text-anchor="end">40</text><text x="45.8" y="184.8" text-anchor="end">20</text><text x="45.8" y="204.9" text-anchor="end">0</text><text x="45.8" y="225.1" text-anchor="end">−20</text><text x="45.8" y="244.9" text-anchor="end">−40</text><text x="239.8" y="253.2" text-anchor="middle">−40</text><text x="263.2" y="253.2" text-anchor="middle">−20</text><text x="286.3" y="253.2" text-anchor="middle">0</text><text x="309.7" y="253.2" text-anchor="middle">20</text><text x="333" y="253.2" text-anchor="middle">40</text><text x="232.5" y="165.1" text-anchor="end">40</text><text x="232.5" y="185" text-anchor="end">20</text><text x="232.5" y="204.9" text-anchor="end">0</text><text x="232.5" y="224.7" text-anchor="end">−20</text><text x="232.5" y="244.2" text-anchor="end">−40</text><text x="425.2" y="253.7" text-anchor="middle">−40</text><text x="448.8" y="253.7" text-anchor="middle">−20</text><text x="472.2" y="253.7" text-anchor="middle">0</text><text x="495.8" y="253.7" text-anchor="middle">20</text><text x="519.4" y="253.7" text-anchor="middle">40</text><text x="418.9" y="165.4" text-anchor="end">40</text><text x="418.9" y="185.6" text-anchor="end">20</text><text x="418.9" y="205.8" text-anchor="end">0</text><text x="418.9" y="225.9" text-anchor="end">−20</text><text x="418.9" y="246.1" text-anchor="end">−40</text></g>
<rect x="32.5" y="302.5" width="511.7" height="57.9" rx="0.6" fill="#fff" stroke="#e6e6e6" stroke-width="1"/>
<g><circle cx="43.4" cy="309.1" r="3.1" fill="#3f51e6"/><path d="M41.699999999999996,318.6L45.1,322.0M45.1,318.6L41.699999999999996,322.0" stroke="#98f0a0" stroke-width="2.1" stroke-linecap="butt"/><rect x="41.1" y="329.2" width="4.6" height="4.6" fill="#98eeb0"/><path d="M42.3,339.7h2.2v1.9h1.9v2.2h-1.9v1.9h-2.2v-1.9h-1.9v-2.2h1.9z" fill="#6ee8b8"/><polygon points="43.4,350.9 46.4,353.9 43.4,356.9 40.4,353.9" fill="#5ee0c0"/><polygon points="148.30,305.90 149.08,308.32 151.50,309.10 149.08,309.88 148.30,312.30 147.52,309.88 145.10,309.10 147.52,308.32" fill="#6a30e8"/><polygon points="148.3,317.3 151.3,322.7 145.3,322.7" fill="#5a3ce8"/><path d="M146.3,329.5L150.3,333.5M150.3,329.5L146.3,333.5" stroke="#b0f090" stroke-width="1.2"/><polygon points="148.3,345.7 151.3,340.3 145.3,340.3" fill="#8af0b0"/><polygon points="148.30,350.90 148.91,352.42 150.42,351.78 149.78,353.29 151.30,353.90 149.78,354.51 150.42,356.02 148.91,355.38 148.30,356.90 147.69,355.38 146.18,356.02 146.82,354.51 145.30,353.90 146.82,353.29 146.18,351.78 147.69,352.42" fill="#40a8e8"/><circle cx="269.6" cy="309.1" r="3.1" fill="#b8e890"/><polygon points="269.60,317.20 270.36,319.25 272.55,319.34 270.84,320.70 271.42,322.81 269.60,321.60 267.78,322.81 268.36,320.70 266.65,319.34 268.84,319.25" fill="#40d0d0"/><polygon points="269.60,328.50 272.45,330.57 271.36,333.93 267.84,333.93 266.75,330.57" fill="#40c8d8"/><polygon points="269.60,339.70 270.37,340.85 271.72,340.58 271.45,341.93 272.60,342.70 271.45,343.47 271.72,344.82 270.37,344.55 269.60,345.70 268.83,344.55 267.48,344.82 267.75,343.47 266.60,342.70 267.75,341.93 267.48,340.58 268.83,340.85" fill="#48b8e8"/><circle cx="437.4" cy="309.1" r="3.1" fill="#3070f0"/><polygon points="437.40,317.30 438.15,319.00 440.00,318.80 438.90,320.30 440.00,321.80 438.15,321.60 437.40,323.30 436.65,321.60 434.80,321.80 435.90,320.30 434.80,318.80 436.65,319.00" fill="#5038e0"/><polygon points="440.30,331.50 438.85,334.01 435.95,334.01 434.50,331.50 435.95,328.99 438.85,328.99" fill="#3888f0"/><polygon points="437.40,339.90 439.82,341.30 439.82,344.10 437.40,345.50 434.98,344.10 434.98,341.30" fill="#40a0f0"/></g>
<g class="lg"><text x="57.7" y="310.80">Hepacivirus C</text><text x="57.7" y="322.00">West Nile virus</text><text x="57.7" y="333.20">Turnip mosaic virus</text><text x="57.7" y="344.40">Rabies lyssavirus</text><text x="57.7" y="355.60">Potato virus Y</text><text x="162.7" y="310.80">Avian orthoavulavirus 1</text><text x="162.7" y="322.00">Chikungunya virus</text><text x="162.7" y="333.20">Zaire ebolavirus</text><text x="162.7" y="344.40">Rotavirus A</text><text x="162.7" y="355.60">Lassa mammarenavirus</text><text x="283.7" y="310.80">Zika virus</text><text x="283.7" y="322.00">Porcine repro-resp syndrome virus</text><text x="283.7" y="333.20">Porcine epidemic diarrhea virus</text><text x="283.7" y="344.40">ME respiratory syndrome coronavirus</text><text x="451.3" y="310.80">Human orthopneumovirus</text><text x="451.3" y="322.00">Dengue virus</text><text x="451.3" y="333.20">Influenza A virus</text><text x="451.3" y="344.40">Influenza B virus</text></g>
</svg>
<div class="cap" style="left:4.3px;top:117.1px">(<b>a</b>) Spike2Vec</div><div class="cap" style="left:190.7px;top:117.1px">(<b>b</b>) PWM2Vec</div><div class="cap" style="left:377.3px;top:117.1px;letter-spacing:0.2px">(<b>c</b>) Minimizer</div><div class="cap" style="left:4.3px;top:272px">(<b>d</b>) G-Spike2Vec</div><div class="cap" style="left:190.7px;top:272px">(<b>e</b>) G-PWM2Vec</div><div class="cap" style="left:377.3px;top:272px;letter-spacing:0.26px">(<b>f</b>) G-Minimizer</div>
</div></body></html>
